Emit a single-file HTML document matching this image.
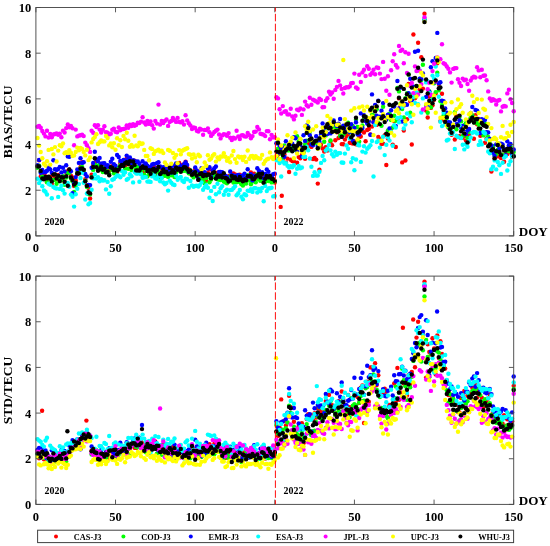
<!DOCTYPE html>
<html lang="en">
<head>
<meta charset="utf-8">
<title>BIAS and STD of GIM products versus Jason-3 (2020 / 2022)</title>
<style>
html,body{margin:0;padding:0;background:#fff;}
body{width:550px;height:546px;overflow:hidden;}
svg{display:block;}
text{font-family:"Liberation Serif","Times New Roman",Times,serif;font-weight:bold;fill:#000;}
.tk text{font-size:12.5px;}
.lb{font-size:13.1px;}
.yl{font-size:13.5px;}
.yr{font-size:9.9px;}
.lg{font-size:8.3px;}
</style>
</head>
<body>
<svg width="550" height="546" viewBox="0 0 550 546">
<rect width="550" height="546" fill="#fff"/>
<!-- top panel: BIAS -->
<g id="bias-points">
<g fill="#ff0000">
<circle cx="37.5" cy="166.4" r="2.20"/><circle cx="39.1" cy="160.2" r="2.20"/><circle cx="40.7" cy="176.4" r="2.20"/><circle cx="42.3" cy="172.2" r="2.20"/><circle cx="43.9" cy="175.3" r="2.20"/><circle cx="45.5" cy="176.1" r="2.20"/><circle cx="47.0" cy="181.8" r="2.20"/><circle cx="48.6" cy="177.1" r="2.20"/><circle cx="50.2" cy="176.6" r="2.20"/><circle cx="51.8" cy="184.0" r="2.20"/><circle cx="53.4" cy="175.6" r="2.20"/><circle cx="55.0" cy="177.7" r="2.20"/><circle cx="56.6" cy="179.4" r="2.20"/><circle cx="58.2" cy="174.9" r="2.20"/><circle cx="59.8" cy="178.7" r="2.20"/><circle cx="61.4" cy="177.6" r="2.20"/><circle cx="63.0" cy="177.6" r="2.20"/><circle cx="64.6" cy="181.9" r="2.20"/><circle cx="66.2" cy="172.0" r="2.20"/><circle cx="67.8" cy="171.1" r="2.20"/><circle cx="69.3" cy="169.4" r="2.20"/><circle cx="70.9" cy="175.6" r="2.20"/><circle cx="72.5" cy="177.5" r="2.20"/><circle cx="74.1" cy="186.1" r="2.20"/><circle cx="75.7" cy="180.2" r="2.20"/><circle cx="77.3" cy="174.3" r="2.20"/><circle cx="78.9" cy="170.6" r="2.20"/><circle cx="80.5" cy="166.9" r="2.20"/><circle cx="82.1" cy="162.3" r="2.20"/><circle cx="83.7" cy="169.9" r="2.20"/><circle cx="85.3" cy="179.2" r="2.20"/><circle cx="86.9" cy="185.2" r="2.20"/><circle cx="88.5" cy="187.9" r="2.20"/><circle cx="90.1" cy="198.5" r="2.20"/><circle cx="91.6" cy="174.7" r="2.20"/><circle cx="93.2" cy="164.9" r="2.20"/><circle cx="94.8" cy="163.9" r="2.20"/><circle cx="96.4" cy="161.0" r="2.20"/><circle cx="98.0" cy="169.1" r="2.20"/><circle cx="99.6" cy="166.8" r="2.20"/><circle cx="101.2" cy="169.6" r="2.20"/><circle cx="102.8" cy="166.8" r="2.20"/><circle cx="104.4" cy="166.2" r="2.20"/><circle cx="106.0" cy="171.6" r="2.20"/><circle cx="107.6" cy="170.4" r="2.20"/><circle cx="109.2" cy="171.1" r="2.20"/><circle cx="110.8" cy="166.8" r="2.20"/><circle cx="112.3" cy="166.2" r="2.20"/><circle cx="113.9" cy="171.1" r="2.20"/><circle cx="115.5" cy="169.6" r="2.20"/><circle cx="117.1" cy="172.0" r="2.20"/><circle cx="118.7" cy="167.9" r="2.20"/><circle cx="120.3" cy="163.2" r="2.20"/><circle cx="121.9" cy="162.9" r="2.20"/><circle cx="123.5" cy="163.2" r="2.20"/><circle cx="125.1" cy="165.8" r="2.20"/><circle cx="126.7" cy="158.3" r="2.20"/><circle cx="128.3" cy="164.3" r="2.20"/><circle cx="129.9" cy="159.9" r="2.20"/><circle cx="131.5" cy="165.1" r="2.20"/><circle cx="133.1" cy="165.9" r="2.20"/><circle cx="134.6" cy="160.6" r="2.20"/><circle cx="136.2" cy="169.1" r="2.20"/><circle cx="137.8" cy="168.4" r="2.20"/><circle cx="139.4" cy="170.6" r="2.20"/><circle cx="141.0" cy="170.0" r="2.20"/><circle cx="142.6" cy="166.8" r="2.20"/><circle cx="144.2" cy="171.1" r="2.20"/><circle cx="145.8" cy="164.1" r="2.20"/><circle cx="147.4" cy="170.8" r="2.20"/><circle cx="149.0" cy="169.5" r="2.20"/><circle cx="150.6" cy="174.7" r="2.20"/><circle cx="152.2" cy="171.2" r="2.20"/><circle cx="153.8" cy="166.1" r="2.20"/><circle cx="155.3" cy="175.0" r="2.20"/><circle cx="156.9" cy="168.1" r="2.20"/><circle cx="158.5" cy="169.9" r="2.20"/><circle cx="160.1" cy="171.2" r="2.20"/><circle cx="161.7" cy="174.7" r="2.20"/><circle cx="163.3" cy="169.8" r="2.20"/><circle cx="164.9" cy="173.4" r="2.20"/><circle cx="166.5" cy="172.8" r="2.20"/><circle cx="168.1" cy="170.5" r="2.20"/><circle cx="169.7" cy="169.7" r="2.20"/><circle cx="171.3" cy="166.9" r="2.20"/><circle cx="172.9" cy="171.1" r="2.20"/><circle cx="174.5" cy="174.7" r="2.20"/><circle cx="176.1" cy="166.7" r="2.20"/><circle cx="177.6" cy="168.7" r="2.20"/><circle cx="179.2" cy="163.0" r="2.20"/><circle cx="180.8" cy="167.0" r="2.20"/><circle cx="182.4" cy="164.9" r="2.20"/><circle cx="184.0" cy="165.7" r="2.20"/><circle cx="185.6" cy="161.8" r="2.20"/><circle cx="187.2" cy="167.5" r="2.20"/><circle cx="188.8" cy="169.4" r="2.20"/><circle cx="190.4" cy="173.6" r="2.20"/><circle cx="192.0" cy="175.1" r="2.20"/><circle cx="193.6" cy="173.5" r="2.20"/><circle cx="195.2" cy="169.4" r="2.20"/><circle cx="196.8" cy="170.9" r="2.20"/><circle cx="198.4" cy="179.7" r="2.20"/><circle cx="199.9" cy="173.0" r="2.20"/><circle cx="201.5" cy="171.8" r="2.20"/><circle cx="203.1" cy="178.0" r="2.20"/><circle cx="204.7" cy="177.6" r="2.20"/><circle cx="206.3" cy="180.5" r="2.20"/><circle cx="207.9" cy="173.0" r="2.20"/><circle cx="209.5" cy="169.2" r="2.20"/><circle cx="211.1" cy="178.6" r="2.20"/><circle cx="212.7" cy="171.7" r="2.20"/><circle cx="214.3" cy="176.2" r="2.20"/><circle cx="215.9" cy="177.8" r="2.20"/><circle cx="217.5" cy="172.7" r="2.20"/><circle cx="219.1" cy="177.9" r="2.20"/><circle cx="220.6" cy="174.9" r="2.20"/><circle cx="222.2" cy="174.5" r="2.20"/><circle cx="223.8" cy="176.0" r="2.20"/><circle cx="225.4" cy="176.4" r="2.20"/><circle cx="227.0" cy="177.4" r="2.20"/><circle cx="228.6" cy="176.1" r="2.20"/><circle cx="230.2" cy="175.4" r="2.20"/><circle cx="231.8" cy="176.2" r="2.20"/><circle cx="233.4" cy="173.5" r="2.20"/><circle cx="235.0" cy="174.5" r="2.20"/><circle cx="236.6" cy="180.5" r="2.20"/><circle cx="238.2" cy="175.9" r="2.20"/><circle cx="239.8" cy="174.6" r="2.20"/><circle cx="241.4" cy="177.7" r="2.20"/><circle cx="242.9" cy="180.5" r="2.20"/><circle cx="244.5" cy="181.3" r="2.20"/><circle cx="246.1" cy="180.2" r="2.20"/><circle cx="247.7" cy="178.4" r="2.20"/><circle cx="249.3" cy="177.4" r="2.20"/><circle cx="250.9" cy="172.4" r="2.20"/><circle cx="252.5" cy="177.9" r="2.20"/><circle cx="254.1" cy="173.6" r="2.20"/><circle cx="255.7" cy="178.3" r="2.20"/><circle cx="257.3" cy="175.6" r="2.20"/><circle cx="258.9" cy="176.1" r="2.20"/><circle cx="260.5" cy="176.8" r="2.20"/><circle cx="262.1" cy="176.6" r="2.20"/><circle cx="263.7" cy="182.8" r="2.20"/><circle cx="265.2" cy="174.6" r="2.20"/><circle cx="266.8" cy="177.1" r="2.20"/><circle cx="268.4" cy="177.4" r="2.20"/><circle cx="270.0" cy="177.0" r="2.20"/><circle cx="271.6" cy="176.6" r="2.20"/><circle cx="273.2" cy="179.6" r="2.20"/><circle cx="274.8" cy="182.5" r="2.20"/><circle cx="276.4" cy="157.8" r="2.20"/><circle cx="278.0" cy="154.6" r="2.20"/><circle cx="280.7" cy="206.9" r="2.20"/><circle cx="281.8" cy="195.7" r="2.20"/><circle cx="282.8" cy="158.9" r="2.20"/><circle cx="284.4" cy="154.4" r="2.20"/><circle cx="285.9" cy="162.6" r="2.20"/><circle cx="287.5" cy="158.6" r="2.20"/><circle cx="289.1" cy="172.0" r="2.20"/><circle cx="290.7" cy="159.7" r="2.20"/><circle cx="292.3" cy="161.0" r="2.20"/><circle cx="293.9" cy="161.4" r="2.20"/><circle cx="295.5" cy="148.2" r="2.20"/><circle cx="297.1" cy="162.7" r="2.20"/><circle cx="298.7" cy="157.0" r="2.20"/><circle cx="300.3" cy="158.2" r="2.20"/><circle cx="301.9" cy="155.0" r="2.20"/><circle cx="303.5" cy="149.8" r="2.20"/><circle cx="305.1" cy="158.8" r="2.20"/><circle cx="306.7" cy="144.4" r="2.20"/><circle cx="308.2" cy="145.6" r="2.20"/><circle cx="309.8" cy="143.3" r="2.20"/><circle cx="311.4" cy="146.9" r="2.20"/><circle cx="313.0" cy="159.0" r="2.20"/><circle cx="314.6" cy="158.0" r="2.20"/><circle cx="316.2" cy="159.6" r="2.20"/><circle cx="317.8" cy="183.6" r="2.20"/><circle cx="319.4" cy="169.7" r="2.20"/><circle cx="321.0" cy="144.8" r="2.20"/><circle cx="322.6" cy="148.4" r="2.20"/><circle cx="324.2" cy="151.5" r="2.20"/><circle cx="325.8" cy="147.1" r="2.20"/><circle cx="327.4" cy="150.6" r="2.20"/><circle cx="329.0" cy="127.4" r="2.20"/><circle cx="330.5" cy="141.8" r="2.20"/><circle cx="332.1" cy="145.3" r="2.20"/><circle cx="333.7" cy="128.4" r="2.20"/><circle cx="335.3" cy="140.2" r="2.20"/><circle cx="336.9" cy="132.3" r="2.20"/><circle cx="338.5" cy="138.0" r="2.20"/><circle cx="340.1" cy="135.6" r="2.20"/><circle cx="341.7" cy="144.1" r="2.20"/><circle cx="343.3" cy="144.2" r="2.20"/><circle cx="344.9" cy="139.6" r="2.20"/><circle cx="346.5" cy="136.3" r="2.20"/><circle cx="348.1" cy="134.1" r="2.20"/><circle cx="349.7" cy="142.7" r="2.20"/><circle cx="351.2" cy="143.0" r="2.20"/><circle cx="352.8" cy="143.6" r="2.20"/><circle cx="354.4" cy="141.4" r="2.20"/><circle cx="356.0" cy="144.2" r="2.20"/><circle cx="357.6" cy="144.2" r="2.20"/><circle cx="359.2" cy="136.9" r="2.20"/><circle cx="360.8" cy="136.5" r="2.20"/><circle cx="362.4" cy="131.0" r="2.20"/><circle cx="364.0" cy="132.5" r="2.20"/><circle cx="365.6" cy="141.3" r="2.20"/><circle cx="367.2" cy="130.0" r="2.20"/><circle cx="368.8" cy="129.0" r="2.20"/><circle cx="370.4" cy="134.5" r="2.20"/><circle cx="372.0" cy="126.6" r="2.20"/><circle cx="373.5" cy="121.8" r="2.20"/><circle cx="375.1" cy="124.2" r="2.20"/><circle cx="376.7" cy="124.9" r="2.20"/><circle cx="378.3" cy="136.9" r="2.20"/><circle cx="379.9" cy="139.3" r="2.20"/><circle cx="381.5" cy="144.1" r="2.20"/><circle cx="383.1" cy="143.6" r="2.20"/><circle cx="384.7" cy="135.1" r="2.20"/><circle cx="386.3" cy="165.0" r="2.20"/><circle cx="387.9" cy="138.4" r="2.20"/><circle cx="389.5" cy="117.5" r="2.20"/><circle cx="391.1" cy="128.7" r="2.20"/><circle cx="392.7" cy="144.6" r="2.20"/><circle cx="394.2" cy="121.0" r="2.20"/><circle cx="395.8" cy="147.0" r="2.20"/><circle cx="397.4" cy="119.4" r="2.20"/><circle cx="399.0" cy="98.4" r="2.20"/><circle cx="400.6" cy="106.3" r="2.20"/><circle cx="402.2" cy="162.4" r="2.20"/><circle cx="403.8" cy="130.6" r="2.20"/><circle cx="405.4" cy="160.5" r="2.20"/><circle cx="407.0" cy="119.3" r="2.20"/><circle cx="408.6" cy="83.9" r="2.20"/><circle cx="410.2" cy="101.3" r="2.20"/><circle cx="411.8" cy="144.5" r="2.20"/><circle cx="413.4" cy="34.5" r="2.20"/><circle cx="415.0" cy="98.2" r="2.20"/><circle cx="416.5" cy="93.8" r="2.20"/><circle cx="418.1" cy="42.7" r="2.20"/><circle cx="419.7" cy="89.4" r="2.20"/><circle cx="421.3" cy="57.3" r="2.20"/><circle cx="422.9" cy="88.6" r="2.20"/><circle cx="424.5" cy="13.7" r="2.20"/><circle cx="426.1" cy="110.6" r="2.20"/><circle cx="427.7" cy="117.5" r="2.20"/><circle cx="429.3" cy="96.5" r="2.20"/><circle cx="430.9" cy="107.9" r="2.20"/><circle cx="432.5" cy="105.3" r="2.20"/><circle cx="434.1" cy="99.8" r="2.20"/><circle cx="435.7" cy="93.4" r="2.20"/><circle cx="437.3" cy="63.2" r="2.20"/><circle cx="438.8" cy="84.1" r="2.20"/><circle cx="440.4" cy="121.1" r="2.20"/><circle cx="442.0" cy="93.8" r="2.20"/><circle cx="443.6" cy="120.0" r="2.20"/><circle cx="445.2" cy="119.3" r="2.20"/><circle cx="446.8" cy="124.4" r="2.20"/><circle cx="448.4" cy="127.2" r="2.20"/><circle cx="450.0" cy="128.0" r="2.20"/><circle cx="451.6" cy="134.8" r="2.20"/><circle cx="453.2" cy="126.1" r="2.20"/><circle cx="454.8" cy="139.5" r="2.20"/><circle cx="456.4" cy="116.2" r="2.20"/><circle cx="458.0" cy="137.1" r="2.20"/><circle cx="459.5" cy="136.1" r="2.20"/><circle cx="461.1" cy="137.9" r="2.20"/><circle cx="462.7" cy="137.8" r="2.20"/><circle cx="464.3" cy="136.0" r="2.20"/><circle cx="465.9" cy="140.6" r="2.20"/><circle cx="467.5" cy="142.6" r="2.20"/><circle cx="469.1" cy="135.0" r="2.20"/><circle cx="470.7" cy="118.3" r="2.20"/><circle cx="472.3" cy="119.1" r="2.20"/><circle cx="473.9" cy="138.8" r="2.20"/><circle cx="475.5" cy="115.1" r="2.20"/><circle cx="477.1" cy="124.2" r="2.20"/><circle cx="478.7" cy="119.0" r="2.20"/><circle cx="480.3" cy="135.7" r="2.20"/><circle cx="481.8" cy="132.8" r="2.20"/><circle cx="483.4" cy="132.6" r="2.20"/><circle cx="485.0" cy="142.7" r="2.20"/><circle cx="486.6" cy="138.4" r="2.20"/><circle cx="488.2" cy="138.0" r="2.20"/><circle cx="489.8" cy="146.0" r="2.20"/><circle cx="491.4" cy="171.5" r="2.20"/><circle cx="493.0" cy="147.8" r="2.20"/><circle cx="494.6" cy="158.6" r="2.20"/><circle cx="496.2" cy="154.9" r="2.20"/><circle cx="497.8" cy="156.4" r="2.20"/><circle cx="499.4" cy="156.2" r="2.20"/><circle cx="501.0" cy="158.0" r="2.20"/><circle cx="502.6" cy="154.6" r="2.20"/><circle cx="504.1" cy="161.7" r="2.20"/><circle cx="505.7" cy="151.1" r="2.20"/><circle cx="507.3" cy="154.1" r="2.20"/><circle cx="508.9" cy="151.6" r="2.20"/><circle cx="510.5" cy="152.3" r="2.20"/><circle cx="512.1" cy="157.1" r="2.20"/><circle cx="513.7" cy="156.4" r="2.20"/>
</g>
<g fill="#00ff00">
<circle cx="37.5" cy="167.7" r="2.20"/><circle cx="39.1" cy="165.6" r="2.20"/><circle cx="40.7" cy="172.0" r="2.20"/><circle cx="42.3" cy="176.8" r="2.20"/><circle cx="43.9" cy="177.4" r="2.20"/><circle cx="45.5" cy="179.1" r="2.20"/><circle cx="47.0" cy="182.3" r="2.20"/><circle cx="48.6" cy="177.5" r="2.20"/><circle cx="50.2" cy="179.0" r="2.20"/><circle cx="51.8" cy="180.5" r="2.20"/><circle cx="53.4" cy="179.9" r="2.20"/><circle cx="55.0" cy="179.7" r="2.20"/><circle cx="56.6" cy="183.7" r="2.20"/><circle cx="58.2" cy="177.9" r="2.20"/><circle cx="59.8" cy="181.3" r="2.20"/><circle cx="61.4" cy="180.0" r="2.20"/><circle cx="63.0" cy="176.2" r="2.20"/><circle cx="64.6" cy="184.7" r="2.20"/><circle cx="66.2" cy="177.6" r="2.20"/><circle cx="67.8" cy="172.9" r="2.20"/><circle cx="69.3" cy="173.0" r="2.20"/><circle cx="70.9" cy="178.6" r="2.20"/><circle cx="72.5" cy="181.3" r="2.20"/><circle cx="74.1" cy="191.9" r="2.20"/><circle cx="75.7" cy="186.0" r="2.20"/><circle cx="77.3" cy="172.9" r="2.20"/><circle cx="78.9" cy="172.1" r="2.20"/><circle cx="80.5" cy="168.2" r="2.20"/><circle cx="82.1" cy="167.0" r="2.20"/><circle cx="83.7" cy="172.3" r="2.20"/><circle cx="85.3" cy="180.8" r="2.20"/><circle cx="86.9" cy="186.9" r="2.20"/><circle cx="88.5" cy="194.0" r="2.20"/><circle cx="90.1" cy="194.4" r="2.20"/><circle cx="91.6" cy="177.2" r="2.20"/><circle cx="93.2" cy="169.9" r="2.20"/><circle cx="94.8" cy="164.8" r="2.20"/><circle cx="96.4" cy="165.6" r="2.20"/><circle cx="98.0" cy="169.5" r="2.20"/><circle cx="99.6" cy="164.8" r="2.20"/><circle cx="101.2" cy="170.0" r="2.20"/><circle cx="102.8" cy="172.1" r="2.20"/><circle cx="104.4" cy="167.9" r="2.20"/><circle cx="106.0" cy="169.7" r="2.20"/><circle cx="107.6" cy="171.9" r="2.20"/><circle cx="109.2" cy="173.9" r="2.20"/><circle cx="110.8" cy="168.2" r="2.20"/><circle cx="112.3" cy="170.1" r="2.20"/><circle cx="113.9" cy="173.2" r="2.20"/><circle cx="115.5" cy="171.9" r="2.20"/><circle cx="117.1" cy="169.5" r="2.20"/><circle cx="118.7" cy="167.7" r="2.20"/><circle cx="120.3" cy="165.2" r="2.20"/><circle cx="121.9" cy="165.4" r="2.20"/><circle cx="123.5" cy="162.4" r="2.20"/><circle cx="125.1" cy="168.8" r="2.20"/><circle cx="126.7" cy="160.7" r="2.20"/><circle cx="128.3" cy="168.7" r="2.20"/><circle cx="129.9" cy="162.1" r="2.20"/><circle cx="131.5" cy="170.0" r="2.20"/><circle cx="133.1" cy="166.1" r="2.20"/><circle cx="134.6" cy="166.4" r="2.20"/><circle cx="136.2" cy="167.8" r="2.20"/><circle cx="137.8" cy="166.7" r="2.20"/><circle cx="139.4" cy="172.4" r="2.20"/><circle cx="141.0" cy="170.9" r="2.20"/><circle cx="142.6" cy="167.6" r="2.20"/><circle cx="144.2" cy="174.6" r="2.20"/><circle cx="145.8" cy="170.2" r="2.20"/><circle cx="147.4" cy="176.4" r="2.20"/><circle cx="149.0" cy="172.9" r="2.20"/><circle cx="150.6" cy="169.6" r="2.20"/><circle cx="152.2" cy="170.5" r="2.20"/><circle cx="153.8" cy="172.7" r="2.20"/><circle cx="155.3" cy="176.2" r="2.20"/><circle cx="156.9" cy="171.7" r="2.20"/><circle cx="158.5" cy="171.1" r="2.20"/><circle cx="160.1" cy="177.5" r="2.20"/><circle cx="161.7" cy="177.4" r="2.20"/><circle cx="163.3" cy="174.8" r="2.20"/><circle cx="164.9" cy="175.9" r="2.20"/><circle cx="166.5" cy="173.7" r="2.20"/><circle cx="168.1" cy="176.9" r="2.20"/><circle cx="169.7" cy="174.3" r="2.20"/><circle cx="171.3" cy="175.3" r="2.20"/><circle cx="172.9" cy="175.0" r="2.20"/><circle cx="174.5" cy="177.1" r="2.20"/><circle cx="176.1" cy="172.5" r="2.20"/><circle cx="177.6" cy="167.5" r="2.20"/><circle cx="179.2" cy="170.5" r="2.20"/><circle cx="180.8" cy="170.9" r="2.20"/><circle cx="182.4" cy="168.9" r="2.20"/><circle cx="184.0" cy="170.9" r="2.20"/><circle cx="185.6" cy="169.4" r="2.20"/><circle cx="187.2" cy="171.4" r="2.20"/><circle cx="188.8" cy="173.2" r="2.20"/><circle cx="190.4" cy="170.8" r="2.20"/><circle cx="192.0" cy="175.6" r="2.20"/><circle cx="193.6" cy="177.4" r="2.20"/><circle cx="195.2" cy="173.6" r="2.20"/><circle cx="196.8" cy="173.3" r="2.20"/><circle cx="198.4" cy="178.9" r="2.20"/><circle cx="199.9" cy="178.3" r="2.20"/><circle cx="201.5" cy="177.0" r="2.20"/><circle cx="203.1" cy="180.4" r="2.20"/><circle cx="204.7" cy="183.3" r="2.20"/><circle cx="206.3" cy="177.9" r="2.20"/><circle cx="207.9" cy="175.3" r="2.20"/><circle cx="209.5" cy="182.3" r="2.20"/><circle cx="211.1" cy="179.6" r="2.20"/><circle cx="212.7" cy="177.1" r="2.20"/><circle cx="214.3" cy="173.9" r="2.20"/><circle cx="215.9" cy="177.8" r="2.20"/><circle cx="217.5" cy="179.2" r="2.20"/><circle cx="219.1" cy="179.7" r="2.20"/><circle cx="220.6" cy="180.0" r="2.20"/><circle cx="222.2" cy="176.4" r="2.20"/><circle cx="223.8" cy="181.6" r="2.20"/><circle cx="225.4" cy="182.4" r="2.20"/><circle cx="227.0" cy="183.3" r="2.20"/><circle cx="228.6" cy="180.2" r="2.20"/><circle cx="230.2" cy="176.5" r="2.20"/><circle cx="231.8" cy="178.5" r="2.20"/><circle cx="233.4" cy="182.6" r="2.20"/><circle cx="235.0" cy="180.8" r="2.20"/><circle cx="236.6" cy="182.2" r="2.20"/><circle cx="238.2" cy="180.3" r="2.20"/><circle cx="239.8" cy="182.1" r="2.20"/><circle cx="241.4" cy="184.3" r="2.20"/><circle cx="242.9" cy="185.5" r="2.20"/><circle cx="244.5" cy="181.1" r="2.20"/><circle cx="246.1" cy="183.5" r="2.20"/><circle cx="247.7" cy="175.1" r="2.20"/><circle cx="249.3" cy="180.6" r="2.20"/><circle cx="250.9" cy="184.2" r="2.20"/><circle cx="252.5" cy="181.6" r="2.20"/><circle cx="254.1" cy="179.9" r="2.20"/><circle cx="255.7" cy="182.2" r="2.20"/><circle cx="257.3" cy="174.4" r="2.20"/><circle cx="258.9" cy="179.4" r="2.20"/><circle cx="260.5" cy="180.9" r="2.20"/><circle cx="262.1" cy="180.0" r="2.20"/><circle cx="263.7" cy="182.8" r="2.20"/><circle cx="265.2" cy="181.9" r="2.20"/><circle cx="266.8" cy="177.0" r="2.20"/><circle cx="268.4" cy="181.0" r="2.20"/><circle cx="270.0" cy="177.2" r="2.20"/><circle cx="271.6" cy="182.4" r="2.20"/><circle cx="273.2" cy="181.7" r="2.20"/><circle cx="274.8" cy="181.4" r="2.20"/><circle cx="276.4" cy="157.0" r="2.20"/><circle cx="278.0" cy="148.7" r="2.20"/><circle cx="279.6" cy="148.8" r="2.20"/><circle cx="281.2" cy="153.6" r="2.20"/><circle cx="282.8" cy="157.8" r="2.20"/><circle cx="284.4" cy="145.5" r="2.20"/><circle cx="285.9" cy="149.4" r="2.20"/><circle cx="287.5" cy="150.4" r="2.20"/><circle cx="289.1" cy="150.3" r="2.20"/><circle cx="290.7" cy="150.1" r="2.20"/><circle cx="292.3" cy="147.9" r="2.20"/><circle cx="293.9" cy="150.0" r="2.20"/><circle cx="295.5" cy="150.1" r="2.20"/><circle cx="297.1" cy="136.2" r="2.20"/><circle cx="298.7" cy="141.4" r="2.20"/><circle cx="300.3" cy="139.6" r="2.20"/><circle cx="301.9" cy="150.0" r="2.20"/><circle cx="303.5" cy="152.3" r="2.20"/><circle cx="305.1" cy="144.3" r="2.20"/><circle cx="306.7" cy="140.7" r="2.20"/><circle cx="308.2" cy="126.7" r="2.20"/><circle cx="309.8" cy="131.8" r="2.20"/><circle cx="311.4" cy="141.0" r="2.20"/><circle cx="313.0" cy="144.2" r="2.20"/><circle cx="314.6" cy="142.3" r="2.20"/><circle cx="316.2" cy="143.1" r="2.20"/><circle cx="317.8" cy="145.1" r="2.20"/><circle cx="319.4" cy="145.8" r="2.20"/><circle cx="321.0" cy="137.4" r="2.20"/><circle cx="322.6" cy="133.4" r="2.20"/><circle cx="324.2" cy="141.8" r="2.20"/><circle cx="325.8" cy="135.4" r="2.20"/><circle cx="327.4" cy="127.7" r="2.20"/><circle cx="329.0" cy="124.8" r="2.20"/><circle cx="330.5" cy="140.5" r="2.20"/><circle cx="332.1" cy="128.3" r="2.20"/><circle cx="333.7" cy="128.8" r="2.20"/><circle cx="335.3" cy="127.0" r="2.20"/><circle cx="336.9" cy="129.9" r="2.20"/><circle cx="338.5" cy="125.8" r="2.20"/><circle cx="340.1" cy="135.9" r="2.20"/><circle cx="341.7" cy="133.9" r="2.20"/><circle cx="343.3" cy="134.8" r="2.20"/><circle cx="344.9" cy="132.6" r="2.20"/><circle cx="346.5" cy="124.4" r="2.20"/><circle cx="348.1" cy="122.7" r="2.20"/><circle cx="349.7" cy="132.4" r="2.20"/><circle cx="351.2" cy="131.8" r="2.20"/><circle cx="352.8" cy="125.9" r="2.20"/><circle cx="354.4" cy="129.9" r="2.20"/><circle cx="356.0" cy="119.7" r="2.20"/><circle cx="357.6" cy="127.0" r="2.20"/><circle cx="359.2" cy="141.7" r="2.20"/><circle cx="360.8" cy="129.4" r="2.20"/><circle cx="362.4" cy="125.4" r="2.20"/><circle cx="364.0" cy="119.2" r="2.20"/><circle cx="365.6" cy="116.6" r="2.20"/><circle cx="367.2" cy="120.6" r="2.20"/><circle cx="368.8" cy="120.6" r="2.20"/><circle cx="370.4" cy="110.3" r="2.20"/><circle cx="372.0" cy="114.7" r="2.20"/><circle cx="373.5" cy="115.7" r="2.20"/><circle cx="375.1" cy="109.7" r="2.20"/><circle cx="376.7" cy="109.2" r="2.20"/><circle cx="378.3" cy="122.9" r="2.20"/><circle cx="379.9" cy="117.4" r="2.20"/><circle cx="381.5" cy="125.8" r="2.20"/><circle cx="383.1" cy="106.7" r="2.20"/><circle cx="384.7" cy="118.6" r="2.20"/><circle cx="386.3" cy="119.4" r="2.20"/><circle cx="387.9" cy="130.4" r="2.20"/><circle cx="389.5" cy="113.6" r="2.20"/><circle cx="391.1" cy="120.1" r="2.20"/><circle cx="392.7" cy="127.5" r="2.20"/><circle cx="394.2" cy="115.7" r="2.20"/><circle cx="395.8" cy="120.8" r="2.20"/><circle cx="397.4" cy="88.0" r="2.20"/><circle cx="399.0" cy="91.4" r="2.20"/><circle cx="400.6" cy="103.4" r="2.20"/><circle cx="402.2" cy="109.1" r="2.20"/><circle cx="403.8" cy="117.4" r="2.20"/><circle cx="405.4" cy="98.2" r="2.20"/><circle cx="407.0" cy="93.1" r="2.20"/><circle cx="408.6" cy="74.5" r="2.20"/><circle cx="410.2" cy="112.7" r="2.20"/><circle cx="411.8" cy="95.0" r="2.20"/><circle cx="413.4" cy="97.8" r="2.20"/><circle cx="415.0" cy="95.3" r="2.20"/><circle cx="416.5" cy="86.3" r="2.20"/><circle cx="418.1" cy="93.4" r="2.20"/><circle cx="419.7" cy="78.6" r="2.20"/><circle cx="421.3" cy="80.1" r="2.20"/><circle cx="422.9" cy="64.8" r="2.20"/><circle cx="424.5" cy="19.6" r="2.20"/><circle cx="426.1" cy="105.8" r="2.20"/><circle cx="427.7" cy="112.7" r="2.20"/><circle cx="429.3" cy="91.2" r="2.20"/><circle cx="430.9" cy="107.2" r="2.20"/><circle cx="432.5" cy="99.1" r="2.20"/><circle cx="434.1" cy="83.3" r="2.20"/><circle cx="435.7" cy="92.1" r="2.20"/><circle cx="437.3" cy="72.7" r="2.20"/><circle cx="438.8" cy="90.4" r="2.20"/><circle cx="440.4" cy="101.3" r="2.20"/><circle cx="442.0" cy="105.1" r="2.20"/><circle cx="443.6" cy="115.5" r="2.20"/><circle cx="445.2" cy="114.4" r="2.20"/><circle cx="446.8" cy="118.1" r="2.20"/><circle cx="448.4" cy="127.3" r="2.20"/><circle cx="450.0" cy="127.4" r="2.20"/><circle cx="451.6" cy="127.8" r="2.20"/><circle cx="453.2" cy="124.9" r="2.20"/><circle cx="454.8" cy="112.2" r="2.20"/><circle cx="456.4" cy="129.3" r="2.20"/><circle cx="458.0" cy="124.9" r="2.20"/><circle cx="459.5" cy="117.0" r="2.20"/><circle cx="461.1" cy="121.2" r="2.20"/><circle cx="462.7" cy="135.9" r="2.20"/><circle cx="464.3" cy="125.3" r="2.20"/><circle cx="465.9" cy="123.2" r="2.20"/><circle cx="467.5" cy="137.9" r="2.20"/><circle cx="469.1" cy="132.0" r="2.20"/><circle cx="470.7" cy="118.0" r="2.20"/><circle cx="472.3" cy="115.2" r="2.20"/><circle cx="473.9" cy="122.3" r="2.20"/><circle cx="475.5" cy="122.4" r="2.20"/><circle cx="477.1" cy="122.9" r="2.20"/><circle cx="478.7" cy="124.8" r="2.20"/><circle cx="480.3" cy="121.7" r="2.20"/><circle cx="481.8" cy="132.3" r="2.20"/><circle cx="483.4" cy="135.4" r="2.20"/><circle cx="485.0" cy="123.7" r="2.20"/><circle cx="486.6" cy="133.6" r="2.20"/><circle cx="488.2" cy="136.9" r="2.20"/><circle cx="489.8" cy="143.8" r="2.20"/><circle cx="491.4" cy="146.1" r="2.20"/><circle cx="493.0" cy="145.9" r="2.20"/><circle cx="494.6" cy="155.8" r="2.20"/><circle cx="496.2" cy="154.3" r="2.20"/><circle cx="497.8" cy="149.6" r="2.20"/><circle cx="499.4" cy="148.7" r="2.20"/><circle cx="501.0" cy="154.8" r="2.20"/><circle cx="502.6" cy="154.6" r="2.20"/><circle cx="504.1" cy="150.0" r="2.20"/><circle cx="505.7" cy="151.1" r="2.20"/><circle cx="507.3" cy="150.0" r="2.20"/><circle cx="508.9" cy="151.3" r="2.20"/><circle cx="510.5" cy="146.3" r="2.20"/><circle cx="512.1" cy="155.7" r="2.20"/><circle cx="513.7" cy="152.0" r="2.20"/>
</g>
<g fill="#0000ff">
<circle cx="37.5" cy="165.2" r="2.20"/><circle cx="39.1" cy="159.9" r="2.20"/><circle cx="40.7" cy="172.7" r="2.20"/><circle cx="42.3" cy="170.0" r="2.20"/><circle cx="43.9" cy="172.4" r="2.20"/><circle cx="45.5" cy="172.0" r="2.20"/><circle cx="47.0" cy="170.7" r="2.20"/><circle cx="48.6" cy="167.8" r="2.20"/><circle cx="50.2" cy="169.4" r="2.20"/><circle cx="51.8" cy="172.8" r="2.20"/><circle cx="53.4" cy="160.2" r="2.20"/><circle cx="55.0" cy="169.2" r="2.20"/><circle cx="56.6" cy="169.9" r="2.20"/><circle cx="58.2" cy="168.9" r="2.20"/><circle cx="59.8" cy="166.9" r="2.20"/><circle cx="61.4" cy="172.4" r="2.20"/><circle cx="63.0" cy="167.7" r="2.20"/><circle cx="64.6" cy="171.4" r="2.20"/><circle cx="66.2" cy="165.2" r="2.20"/><circle cx="67.8" cy="156.4" r="2.20"/><circle cx="69.3" cy="156.7" r="2.20"/><circle cx="70.9" cy="171.3" r="2.20"/><circle cx="72.5" cy="193.2" r="2.20"/><circle cx="74.1" cy="183.3" r="2.20"/><circle cx="75.7" cy="177.1" r="2.20"/><circle cx="77.3" cy="169.5" r="2.20"/><circle cx="78.9" cy="162.9" r="2.20"/><circle cx="80.5" cy="158.3" r="2.20"/><circle cx="82.1" cy="162.9" r="2.20"/><circle cx="83.7" cy="162.2" r="2.20"/><circle cx="85.3" cy="174.0" r="2.20"/><circle cx="86.9" cy="176.4" r="2.20"/><circle cx="88.5" cy="185.0" r="2.20"/><circle cx="90.1" cy="185.1" r="2.20"/><circle cx="91.6" cy="167.7" r="2.20"/><circle cx="93.2" cy="162.9" r="2.20"/><circle cx="94.8" cy="151.7" r="2.20"/><circle cx="96.4" cy="159.3" r="2.20"/><circle cx="98.0" cy="161.2" r="2.20"/><circle cx="99.6" cy="157.9" r="2.20"/><circle cx="101.2" cy="163.7" r="2.20"/><circle cx="102.8" cy="163.5" r="2.20"/><circle cx="104.4" cy="163.2" r="2.20"/><circle cx="106.0" cy="167.1" r="2.20"/><circle cx="107.6" cy="165.2" r="2.20"/><circle cx="109.2" cy="166.8" r="2.20"/><circle cx="110.8" cy="161.7" r="2.20"/><circle cx="112.3" cy="158.7" r="2.20"/><circle cx="113.9" cy="164.2" r="2.20"/><circle cx="115.5" cy="165.7" r="2.20"/><circle cx="117.1" cy="155.0" r="2.20"/><circle cx="118.7" cy="157.0" r="2.20"/><circle cx="120.3" cy="160.9" r="2.20"/><circle cx="121.9" cy="162.0" r="2.20"/><circle cx="123.5" cy="159.9" r="2.20"/><circle cx="125.1" cy="160.5" r="2.20"/><circle cx="126.7" cy="155.6" r="2.20"/><circle cx="128.3" cy="159.1" r="2.20"/><circle cx="129.9" cy="157.4" r="2.20"/><circle cx="131.5" cy="163.1" r="2.20"/><circle cx="133.1" cy="160.3" r="2.20"/><circle cx="134.6" cy="160.9" r="2.20"/><circle cx="136.2" cy="162.0" r="2.20"/><circle cx="137.8" cy="161.5" r="2.20"/><circle cx="139.4" cy="163.8" r="2.20"/><circle cx="141.0" cy="167.8" r="2.20"/><circle cx="142.6" cy="161.3" r="2.20"/><circle cx="144.2" cy="165.1" r="2.20"/><circle cx="145.8" cy="163.5" r="2.20"/><circle cx="147.4" cy="165.6" r="2.20"/><circle cx="149.0" cy="167.1" r="2.20"/><circle cx="150.6" cy="167.2" r="2.20"/><circle cx="152.2" cy="164.5" r="2.20"/><circle cx="153.8" cy="163.9" r="2.20"/><circle cx="155.3" cy="168.4" r="2.20"/><circle cx="156.9" cy="163.3" r="2.20"/><circle cx="158.5" cy="162.2" r="2.20"/><circle cx="160.1" cy="166.4" r="2.20"/><circle cx="161.7" cy="167.6" r="2.20"/><circle cx="163.3" cy="167.2" r="2.20"/><circle cx="164.9" cy="168.9" r="2.20"/><circle cx="166.5" cy="165.9" r="2.20"/><circle cx="168.1" cy="170.9" r="2.20"/><circle cx="169.7" cy="168.7" r="2.20"/><circle cx="171.3" cy="172.5" r="2.20"/><circle cx="172.9" cy="165.7" r="2.20"/><circle cx="174.5" cy="169.9" r="2.20"/><circle cx="176.1" cy="163.4" r="2.20"/><circle cx="177.6" cy="165.5" r="2.20"/><circle cx="179.2" cy="164.5" r="2.20"/><circle cx="180.8" cy="166.1" r="2.20"/><circle cx="182.4" cy="167.2" r="2.20"/><circle cx="184.0" cy="164.1" r="2.20"/><circle cx="185.6" cy="162.2" r="2.20"/><circle cx="187.2" cy="164.9" r="2.20"/><circle cx="188.8" cy="171.8" r="2.20"/><circle cx="190.4" cy="172.1" r="2.20"/><circle cx="192.0" cy="173.5" r="2.20"/><circle cx="193.6" cy="172.1" r="2.20"/><circle cx="195.2" cy="167.5" r="2.20"/><circle cx="196.8" cy="170.4" r="2.20"/><circle cx="198.4" cy="179.3" r="2.20"/><circle cx="199.9" cy="171.8" r="2.20"/><circle cx="201.5" cy="168.1" r="2.20"/><circle cx="203.1" cy="174.2" r="2.20"/><circle cx="204.7" cy="172.2" r="2.20"/><circle cx="206.3" cy="174.6" r="2.20"/><circle cx="207.9" cy="168.6" r="2.20"/><circle cx="209.5" cy="167.2" r="2.20"/><circle cx="211.1" cy="176.9" r="2.20"/><circle cx="212.7" cy="170.2" r="2.20"/><circle cx="214.3" cy="168.2" r="2.20"/><circle cx="215.9" cy="166.5" r="2.20"/><circle cx="217.5" cy="176.2" r="2.20"/><circle cx="219.1" cy="171.9" r="2.20"/><circle cx="220.6" cy="171.9" r="2.20"/><circle cx="222.2" cy="172.3" r="2.20"/><circle cx="223.8" cy="174.8" r="2.20"/><circle cx="225.4" cy="175.8" r="2.20"/><circle cx="227.0" cy="177.0" r="2.20"/><circle cx="228.6" cy="179.5" r="2.20"/><circle cx="230.2" cy="171.5" r="2.20"/><circle cx="231.8" cy="175.2" r="2.20"/><circle cx="233.4" cy="175.5" r="2.20"/><circle cx="235.0" cy="176.5" r="2.20"/><circle cx="236.6" cy="175.6" r="2.20"/><circle cx="238.2" cy="175.0" r="2.20"/><circle cx="239.8" cy="175.9" r="2.20"/><circle cx="241.4" cy="178.2" r="2.20"/><circle cx="242.9" cy="175.5" r="2.20"/><circle cx="244.5" cy="173.6" r="2.20"/><circle cx="246.1" cy="177.9" r="2.20"/><circle cx="247.7" cy="169.3" r="2.20"/><circle cx="249.3" cy="176.5" r="2.20"/><circle cx="250.9" cy="174.2" r="2.20"/><circle cx="252.5" cy="180.4" r="2.20"/><circle cx="254.1" cy="175.8" r="2.20"/><circle cx="255.7" cy="176.8" r="2.20"/><circle cx="257.3" cy="168.2" r="2.20"/><circle cx="258.9" cy="170.8" r="2.20"/><circle cx="260.5" cy="173.5" r="2.20"/><circle cx="262.1" cy="172.1" r="2.20"/><circle cx="263.7" cy="178.2" r="2.20"/><circle cx="265.2" cy="174.0" r="2.20"/><circle cx="266.8" cy="169.4" r="2.20"/><circle cx="268.4" cy="171.8" r="2.20"/><circle cx="270.0" cy="175.6" r="2.20"/><circle cx="271.6" cy="175.9" r="2.20"/><circle cx="273.2" cy="174.3" r="2.20"/><circle cx="274.8" cy="173.8" r="2.20"/><circle cx="276.4" cy="143.3" r="2.20"/><circle cx="278.0" cy="152.9" r="2.20"/><circle cx="279.6" cy="145.4" r="2.20"/><circle cx="281.2" cy="148.2" r="2.20"/><circle cx="282.8" cy="147.0" r="2.20"/><circle cx="284.4" cy="156.7" r="2.20"/><circle cx="285.9" cy="141.3" r="2.20"/><circle cx="287.5" cy="147.3" r="2.20"/><circle cx="289.1" cy="144.3" r="2.20"/><circle cx="290.7" cy="144.1" r="2.20"/><circle cx="292.3" cy="143.8" r="2.20"/><circle cx="293.9" cy="137.3" r="2.20"/><circle cx="295.5" cy="138.2" r="2.20"/><circle cx="297.1" cy="151.2" r="2.20"/><circle cx="298.7" cy="147.6" r="2.20"/><circle cx="300.3" cy="145.7" r="2.20"/><circle cx="301.9" cy="156.6" r="2.20"/><circle cx="303.5" cy="135.2" r="2.20"/><circle cx="305.1" cy="140.9" r="2.20"/><circle cx="306.7" cy="125.4" r="2.20"/><circle cx="308.2" cy="127.4" r="2.20"/><circle cx="309.8" cy="135.3" r="2.20"/><circle cx="311.4" cy="144.4" r="2.20"/><circle cx="313.0" cy="145.3" r="2.20"/><circle cx="314.6" cy="141.0" r="2.20"/><circle cx="316.2" cy="136.2" r="2.20"/><circle cx="317.8" cy="146.7" r="2.20"/><circle cx="319.4" cy="141.7" r="2.20"/><circle cx="321.0" cy="134.6" r="2.20"/><circle cx="322.6" cy="123.5" r="2.20"/><circle cx="324.2" cy="131.3" r="2.20"/><circle cx="325.8" cy="132.8" r="2.20"/><circle cx="327.4" cy="133.9" r="2.20"/><circle cx="329.0" cy="126.1" r="2.20"/><circle cx="330.5" cy="133.4" r="2.20"/><circle cx="332.1" cy="131.8" r="2.20"/><circle cx="333.7" cy="120.5" r="2.20"/><circle cx="335.3" cy="123.9" r="2.20"/><circle cx="336.9" cy="126.0" r="2.20"/><circle cx="338.5" cy="123.6" r="2.20"/><circle cx="340.1" cy="119.0" r="2.20"/><circle cx="341.7" cy="136.9" r="2.20"/><circle cx="343.3" cy="125.8" r="2.20"/><circle cx="344.9" cy="129.4" r="2.20"/><circle cx="346.5" cy="126.0" r="2.20"/><circle cx="348.1" cy="126.7" r="2.20"/><circle cx="349.7" cy="132.1" r="2.20"/><circle cx="351.2" cy="124.2" r="2.20"/><circle cx="352.8" cy="140.8" r="2.20"/><circle cx="354.4" cy="127.9" r="2.20"/><circle cx="356.0" cy="122.2" r="2.20"/><circle cx="357.6" cy="134.4" r="2.20"/><circle cx="359.2" cy="134.2" r="2.20"/><circle cx="360.8" cy="113.4" r="2.20"/><circle cx="362.4" cy="128.0" r="2.20"/><circle cx="364.0" cy="115.3" r="2.20"/><circle cx="365.6" cy="121.1" r="2.20"/><circle cx="367.2" cy="123.4" r="2.20"/><circle cx="368.8" cy="121.6" r="2.20"/><circle cx="370.4" cy="134.7" r="2.20"/><circle cx="372.0" cy="94.4" r="2.20"/><circle cx="373.5" cy="122.2" r="2.20"/><circle cx="375.1" cy="105.0" r="2.20"/><circle cx="376.7" cy="115.6" r="2.20"/><circle cx="378.3" cy="100.8" r="2.20"/><circle cx="379.9" cy="116.7" r="2.20"/><circle cx="381.5" cy="110.8" r="2.20"/><circle cx="383.1" cy="103.1" r="2.20"/><circle cx="384.7" cy="117.6" r="2.20"/><circle cx="386.3" cy="119.6" r="2.20"/><circle cx="387.9" cy="114.6" r="2.20"/><circle cx="389.5" cy="128.4" r="2.20"/><circle cx="391.1" cy="110.2" r="2.20"/><circle cx="392.7" cy="105.8" r="2.20"/><circle cx="394.2" cy="106.6" r="2.20"/><circle cx="395.8" cy="126.0" r="2.20"/><circle cx="397.4" cy="81.0" r="2.20"/><circle cx="399.0" cy="108.4" r="2.20"/><circle cx="400.6" cy="87.5" r="2.20"/><circle cx="402.2" cy="121.5" r="2.20"/><circle cx="403.8" cy="105.4" r="2.20"/><circle cx="405.4" cy="103.9" r="2.20"/><circle cx="407.0" cy="104.8" r="2.20"/><circle cx="408.6" cy="93.1" r="2.20"/><circle cx="410.2" cy="78.7" r="2.20"/><circle cx="411.8" cy="100.2" r="2.20"/><circle cx="413.4" cy="86.8" r="2.20"/><circle cx="415.0" cy="51.7" r="2.20"/><circle cx="416.5" cy="94.9" r="2.20"/><circle cx="418.1" cy="50.8" r="2.20"/><circle cx="419.7" cy="78.8" r="2.20"/><circle cx="421.3" cy="79.0" r="2.20"/><circle cx="422.9" cy="73.5" r="2.20"/><circle cx="424.5" cy="20.1" r="2.20"/><circle cx="426.1" cy="96.9" r="2.20"/><circle cx="427.7" cy="107.3" r="2.20"/><circle cx="429.3" cy="91.7" r="2.20"/><circle cx="430.9" cy="67.2" r="2.20"/><circle cx="432.5" cy="61.3" r="2.20"/><circle cx="434.1" cy="82.3" r="2.20"/><circle cx="435.7" cy="57.9" r="2.20"/><circle cx="437.3" cy="32.9" r="2.20"/><circle cx="438.8" cy="83.3" r="2.20"/><circle cx="440.4" cy="82.2" r="2.20"/><circle cx="442.0" cy="100.7" r="2.20"/><circle cx="443.6" cy="101.1" r="2.20"/><circle cx="445.2" cy="108.4" r="2.20"/><circle cx="446.8" cy="112.6" r="2.20"/><circle cx="448.4" cy="122.1" r="2.20"/><circle cx="450.0" cy="122.4" r="2.20"/><circle cx="451.6" cy="125.6" r="2.20"/><circle cx="453.2" cy="125.9" r="2.20"/><circle cx="454.8" cy="119.8" r="2.20"/><circle cx="456.4" cy="124.3" r="2.20"/><circle cx="458.0" cy="124.3" r="2.20"/><circle cx="459.5" cy="120.2" r="2.20"/><circle cx="461.1" cy="127.4" r="2.20"/><circle cx="462.7" cy="125.9" r="2.20"/><circle cx="464.3" cy="128.9" r="2.20"/><circle cx="465.9" cy="134.1" r="2.20"/><circle cx="467.5" cy="130.6" r="2.20"/><circle cx="469.1" cy="128.9" r="2.20"/><circle cx="470.7" cy="112.9" r="2.20"/><circle cx="472.3" cy="107.0" r="2.20"/><circle cx="473.9" cy="117.6" r="2.20"/><circle cx="475.5" cy="109.9" r="2.20"/><circle cx="477.1" cy="110.6" r="2.20"/><circle cx="478.7" cy="119.4" r="2.20"/><circle cx="480.3" cy="133.0" r="2.20"/><circle cx="481.8" cy="119.3" r="2.20"/><circle cx="483.4" cy="120.8" r="2.20"/><circle cx="485.0" cy="119.7" r="2.20"/><circle cx="486.6" cy="132.2" r="2.20"/><circle cx="488.2" cy="132.4" r="2.20"/><circle cx="489.8" cy="138.9" r="2.20"/><circle cx="491.4" cy="145.5" r="2.20"/><circle cx="493.0" cy="152.8" r="2.20"/><circle cx="494.6" cy="156.0" r="2.20"/><circle cx="496.2" cy="144.4" r="2.20"/><circle cx="497.8" cy="143.1" r="2.20"/><circle cx="499.4" cy="148.5" r="2.20"/><circle cx="501.0" cy="143.6" r="2.20"/><circle cx="502.6" cy="144.4" r="2.20"/><circle cx="504.1" cy="149.0" r="2.20"/><circle cx="505.7" cy="155.2" r="2.20"/><circle cx="507.3" cy="141.3" r="2.20"/><circle cx="508.9" cy="145.2" r="2.20"/><circle cx="510.5" cy="143.9" r="2.20"/><circle cx="512.1" cy="154.7" r="2.20"/><circle cx="513.7" cy="149.5" r="2.20"/>
</g>
<g fill="#00ffff">
<circle cx="37.5" cy="178.8" r="2.20"/><circle cx="39.1" cy="183.1" r="2.20"/><circle cx="40.7" cy="180.1" r="2.20"/><circle cx="42.3" cy="186.2" r="2.20"/><circle cx="43.9" cy="190.5" r="2.20"/><circle cx="45.5" cy="191.8" r="2.20"/><circle cx="47.0" cy="194.5" r="2.20"/><circle cx="48.6" cy="183.7" r="2.20"/><circle cx="50.2" cy="184.8" r="2.20"/><circle cx="51.8" cy="198.2" r="2.20"/><circle cx="53.4" cy="186.9" r="2.20"/><circle cx="55.0" cy="188.1" r="2.20"/><circle cx="56.6" cy="188.5" r="2.20"/><circle cx="58.2" cy="196.9" r="2.20"/><circle cx="59.8" cy="188.9" r="2.20"/><circle cx="61.4" cy="185.7" r="2.20"/><circle cx="63.0" cy="190.3" r="2.20"/><circle cx="64.6" cy="193.6" r="2.20"/><circle cx="66.2" cy="183.8" r="2.20"/><circle cx="67.8" cy="182.9" r="2.20"/><circle cx="69.3" cy="186.7" r="2.20"/><circle cx="70.9" cy="194.6" r="2.20"/><circle cx="72.5" cy="196.8" r="2.20"/><circle cx="74.1" cy="206.6" r="2.20"/><circle cx="75.7" cy="194.2" r="2.20"/><circle cx="77.3" cy="188.8" r="2.20"/><circle cx="78.9" cy="184.1" r="2.20"/><circle cx="80.5" cy="178.0" r="2.20"/><circle cx="82.1" cy="172.7" r="2.20"/><circle cx="83.7" cy="182.8" r="2.20"/><circle cx="85.3" cy="199.5" r="2.20"/><circle cx="86.9" cy="193.5" r="2.20"/><circle cx="88.5" cy="204.2" r="2.20"/><circle cx="90.1" cy="202.9" r="2.20"/><circle cx="91.6" cy="189.7" r="2.20"/><circle cx="93.2" cy="178.4" r="2.20"/><circle cx="94.8" cy="174.4" r="2.20"/><circle cx="96.4" cy="178.6" r="2.20"/><circle cx="98.0" cy="177.3" r="2.20"/><circle cx="99.6" cy="181.2" r="2.20"/><circle cx="101.2" cy="179.1" r="2.20"/><circle cx="102.8" cy="180.5" r="2.20"/><circle cx="104.4" cy="180.2" r="2.20"/><circle cx="106.0" cy="189.4" r="2.20"/><circle cx="107.6" cy="181.9" r="2.20"/><circle cx="109.2" cy="193.7" r="2.20"/><circle cx="110.8" cy="186.2" r="2.20"/><circle cx="112.3" cy="179.8" r="2.20"/><circle cx="113.9" cy="179.1" r="2.20"/><circle cx="115.5" cy="177.1" r="2.20"/><circle cx="117.1" cy="175.5" r="2.20"/><circle cx="118.7" cy="175.6" r="2.20"/><circle cx="120.3" cy="177.2" r="2.20"/><circle cx="121.9" cy="171.1" r="2.20"/><circle cx="123.5" cy="174.7" r="2.20"/><circle cx="125.1" cy="172.2" r="2.20"/><circle cx="126.7" cy="179.7" r="2.20"/><circle cx="128.3" cy="178.6" r="2.20"/><circle cx="129.9" cy="174.3" r="2.20"/><circle cx="131.5" cy="176.3" r="2.20"/><circle cx="133.1" cy="182.4" r="2.20"/><circle cx="134.6" cy="171.9" r="2.20"/><circle cx="136.2" cy="173.6" r="2.20"/><circle cx="137.8" cy="173.6" r="2.20"/><circle cx="139.4" cy="181.7" r="2.20"/><circle cx="141.0" cy="174.2" r="2.20"/><circle cx="142.6" cy="177.8" r="2.20"/><circle cx="144.2" cy="177.3" r="2.20"/><circle cx="145.8" cy="177.1" r="2.20"/><circle cx="147.4" cy="181.6" r="2.20"/><circle cx="149.0" cy="181.5" r="2.20"/><circle cx="150.6" cy="181.9" r="2.20"/><circle cx="152.2" cy="176.4" r="2.20"/><circle cx="153.8" cy="174.7" r="2.20"/><circle cx="155.3" cy="178.4" r="2.20"/><circle cx="156.9" cy="178.7" r="2.20"/><circle cx="158.5" cy="176.2" r="2.20"/><circle cx="160.1" cy="181.3" r="2.20"/><circle cx="161.7" cy="178.0" r="2.20"/><circle cx="163.3" cy="182.5" r="2.20"/><circle cx="164.9" cy="184.3" r="2.20"/><circle cx="166.5" cy="183.0" r="2.20"/><circle cx="168.1" cy="190.6" r="2.20"/><circle cx="169.7" cy="180.6" r="2.20"/><circle cx="171.3" cy="182.8" r="2.20"/><circle cx="172.9" cy="184.4" r="2.20"/><circle cx="174.5" cy="185.0" r="2.20"/><circle cx="176.1" cy="175.8" r="2.20"/><circle cx="177.6" cy="179.7" r="2.20"/><circle cx="179.2" cy="178.0" r="2.20"/><circle cx="180.8" cy="176.9" r="2.20"/><circle cx="182.4" cy="180.8" r="2.20"/><circle cx="184.0" cy="182.1" r="2.20"/><circle cx="185.6" cy="178.8" r="2.20"/><circle cx="187.2" cy="179.3" r="2.20"/><circle cx="188.8" cy="187.8" r="2.20"/><circle cx="190.4" cy="181.0" r="2.20"/><circle cx="192.0" cy="185.4" r="2.20"/><circle cx="193.6" cy="186.7" r="2.20"/><circle cx="195.2" cy="185.9" r="2.20"/><circle cx="196.8" cy="185.8" r="2.20"/><circle cx="198.4" cy="186.6" r="2.20"/><circle cx="199.9" cy="185.1" r="2.20"/><circle cx="201.5" cy="182.5" r="2.20"/><circle cx="203.1" cy="189.8" r="2.20"/><circle cx="204.7" cy="187.2" r="2.20"/><circle cx="206.3" cy="185.1" r="2.20"/><circle cx="207.9" cy="187.8" r="2.20"/><circle cx="209.5" cy="197.8" r="2.20"/><circle cx="211.1" cy="190.9" r="2.20"/><circle cx="212.7" cy="201.0" r="2.20"/><circle cx="214.3" cy="186.9" r="2.20"/><circle cx="215.9" cy="194.3" r="2.20"/><circle cx="217.5" cy="183.8" r="2.20"/><circle cx="219.1" cy="192.3" r="2.20"/><circle cx="220.6" cy="188.2" r="2.20"/><circle cx="222.2" cy="186.1" r="2.20"/><circle cx="223.8" cy="194.7" r="2.20"/><circle cx="225.4" cy="191.3" r="2.20"/><circle cx="227.0" cy="189.6" r="2.20"/><circle cx="228.6" cy="194.8" r="2.20"/><circle cx="230.2" cy="190.1" r="2.20"/><circle cx="231.8" cy="189.9" r="2.20"/><circle cx="233.4" cy="188.3" r="2.20"/><circle cx="235.0" cy="186.3" r="2.20"/><circle cx="236.6" cy="195.3" r="2.20"/><circle cx="238.2" cy="193.2" r="2.20"/><circle cx="239.8" cy="190.0" r="2.20"/><circle cx="241.4" cy="196.8" r="2.20"/><circle cx="242.9" cy="199.2" r="2.20"/><circle cx="244.5" cy="194.3" r="2.20"/><circle cx="246.1" cy="195.3" r="2.20"/><circle cx="247.7" cy="190.6" r="2.20"/><circle cx="249.3" cy="190.9" r="2.20"/><circle cx="250.9" cy="189.3" r="2.20"/><circle cx="252.5" cy="191.9" r="2.20"/><circle cx="254.1" cy="188.2" r="2.20"/><circle cx="255.7" cy="188.1" r="2.20"/><circle cx="257.3" cy="192.5" r="2.20"/><circle cx="258.9" cy="188.9" r="2.20"/><circle cx="260.5" cy="191.3" r="2.20"/><circle cx="262.1" cy="187.9" r="2.20"/><circle cx="263.7" cy="201.3" r="2.20"/><circle cx="265.2" cy="186.0" r="2.20"/><circle cx="266.8" cy="191.1" r="2.20"/><circle cx="268.4" cy="188.4" r="2.20"/><circle cx="270.0" cy="188.3" r="2.20"/><circle cx="271.6" cy="187.7" r="2.20"/><circle cx="273.2" cy="196.4" r="2.20"/><circle cx="274.8" cy="195.9" r="2.20"/><circle cx="276.4" cy="160.0" r="2.20"/><circle cx="278.0" cy="160.4" r="2.20"/><circle cx="279.6" cy="163.1" r="2.20"/><circle cx="281.2" cy="176.5" r="2.20"/><circle cx="282.8" cy="161.6" r="2.20"/><circle cx="284.4" cy="163.6" r="2.20"/><circle cx="285.9" cy="163.1" r="2.20"/><circle cx="287.5" cy="165.8" r="2.20"/><circle cx="289.1" cy="167.5" r="2.20"/><circle cx="290.7" cy="166.3" r="2.20"/><circle cx="292.3" cy="167.3" r="2.20"/><circle cx="293.9" cy="165.2" r="2.20"/><circle cx="295.5" cy="173.8" r="2.20"/><circle cx="297.1" cy="168.7" r="2.20"/><circle cx="298.7" cy="165.9" r="2.20"/><circle cx="300.3" cy="168.2" r="2.20"/><circle cx="301.9" cy="167.5" r="2.20"/><circle cx="303.5" cy="156.9" r="2.20"/><circle cx="305.1" cy="156.7" r="2.20"/><circle cx="306.7" cy="146.7" r="2.20"/><circle cx="308.2" cy="150.2" r="2.20"/><circle cx="309.8" cy="158.5" r="2.20"/><circle cx="311.4" cy="166.7" r="2.20"/><circle cx="313.0" cy="175.9" r="2.20"/><circle cx="314.6" cy="172.2" r="2.20"/><circle cx="316.2" cy="175.5" r="2.20"/><circle cx="317.8" cy="175.5" r="2.20"/><circle cx="319.4" cy="171.8" r="2.20"/><circle cx="321.0" cy="162.9" r="2.20"/><circle cx="322.6" cy="155.9" r="2.20"/><circle cx="324.2" cy="160.2" r="2.20"/><circle cx="325.8" cy="150.6" r="2.20"/><circle cx="327.4" cy="148.6" r="2.20"/><circle cx="329.0" cy="144.9" r="2.20"/><circle cx="330.5" cy="150.4" r="2.20"/><circle cx="332.1" cy="154.3" r="2.20"/><circle cx="333.7" cy="156.4" r="2.20"/><circle cx="335.3" cy="151.8" r="2.20"/><circle cx="336.9" cy="154.8" r="2.20"/><circle cx="338.5" cy="153.2" r="2.20"/><circle cx="340.1" cy="153.1" r="2.20"/><circle cx="341.7" cy="162.5" r="2.20"/><circle cx="343.3" cy="162.7" r="2.20"/><circle cx="344.9" cy="153.6" r="2.20"/><circle cx="346.5" cy="145.4" r="2.20"/><circle cx="348.1" cy="148.8" r="2.20"/><circle cx="349.7" cy="138.4" r="2.20"/><circle cx="351.2" cy="162.3" r="2.20"/><circle cx="352.8" cy="158.2" r="2.20"/><circle cx="354.4" cy="170.3" r="2.20"/><circle cx="356.0" cy="159.5" r="2.20"/><circle cx="357.6" cy="144.5" r="2.20"/><circle cx="359.2" cy="145.4" r="2.20"/><circle cx="360.8" cy="161.9" r="2.20"/><circle cx="362.4" cy="151.6" r="2.20"/><circle cx="364.0" cy="146.2" r="2.20"/><circle cx="365.6" cy="152.6" r="2.20"/><circle cx="367.2" cy="148.8" r="2.20"/><circle cx="368.8" cy="147.2" r="2.20"/><circle cx="370.4" cy="145.3" r="2.20"/><circle cx="372.0" cy="141.0" r="2.20"/><circle cx="373.5" cy="176.5" r="2.20"/><circle cx="375.1" cy="125.1" r="2.20"/><circle cx="376.7" cy="142.1" r="2.20"/><circle cx="378.3" cy="140.8" r="2.20"/><circle cx="379.9" cy="147.6" r="2.20"/><circle cx="381.5" cy="140.8" r="2.20"/><circle cx="383.1" cy="136.8" r="2.20"/><circle cx="384.7" cy="155.1" r="2.20"/><circle cx="386.3" cy="144.8" r="2.20"/><circle cx="387.9" cy="137.3" r="2.20"/><circle cx="389.5" cy="140.6" r="2.20"/><circle cx="391.1" cy="132.0" r="2.20"/><circle cx="392.7" cy="145.8" r="2.20"/><circle cx="394.2" cy="125.2" r="2.20"/><circle cx="395.8" cy="127.6" r="2.20"/><circle cx="397.4" cy="118.0" r="2.20"/><circle cx="399.0" cy="122.3" r="2.20"/><circle cx="400.6" cy="117.3" r="2.20"/><circle cx="402.2" cy="106.8" r="2.20"/><circle cx="403.8" cy="128.5" r="2.20"/><circle cx="405.4" cy="124.6" r="2.20"/><circle cx="407.0" cy="113.5" r="2.20"/><circle cx="408.6" cy="95.9" r="2.20"/><circle cx="410.2" cy="116.4" r="2.20"/><circle cx="411.8" cy="122.2" r="2.20"/><circle cx="413.4" cy="96.7" r="2.20"/><circle cx="415.0" cy="102.9" r="2.20"/><circle cx="416.5" cy="92.5" r="2.20"/><circle cx="418.1" cy="104.2" r="2.20"/><circle cx="419.7" cy="70.5" r="2.20"/><circle cx="421.3" cy="112.5" r="2.20"/><circle cx="422.9" cy="98.4" r="2.20"/><circle cx="424.5" cy="18.9" r="2.20"/><circle cx="426.1" cy="82.4" r="2.20"/><circle cx="427.7" cy="81.5" r="2.20"/><circle cx="429.3" cy="92.6" r="2.20"/><circle cx="430.9" cy="100.4" r="2.20"/><circle cx="432.5" cy="75.6" r="2.20"/><circle cx="434.1" cy="78.6" r="2.20"/><circle cx="435.7" cy="66.5" r="2.20"/><circle cx="437.3" cy="75.2" r="2.20"/><circle cx="438.8" cy="96.8" r="2.20"/><circle cx="440.4" cy="121.7" r="2.20"/><circle cx="442.0" cy="126.1" r="2.20"/><circle cx="443.6" cy="112.8" r="2.20"/><circle cx="445.2" cy="124.6" r="2.20"/><circle cx="446.8" cy="140.5" r="2.20"/><circle cx="448.4" cy="139.6" r="2.20"/><circle cx="450.0" cy="133.4" r="2.20"/><circle cx="451.6" cy="133.9" r="2.20"/><circle cx="453.2" cy="132.1" r="2.20"/><circle cx="454.8" cy="149.0" r="2.20"/><circle cx="456.4" cy="135.7" r="2.20"/><circle cx="458.0" cy="137.1" r="2.20"/><circle cx="459.5" cy="125.3" r="2.20"/><circle cx="461.1" cy="138.1" r="2.20"/><circle cx="462.7" cy="144.7" r="2.20"/><circle cx="464.3" cy="149.4" r="2.20"/><circle cx="465.9" cy="144.3" r="2.20"/><circle cx="467.5" cy="146.8" r="2.20"/><circle cx="469.1" cy="140.9" r="2.20"/><circle cx="470.7" cy="137.5" r="2.20"/><circle cx="472.3" cy="132.7" r="2.20"/><circle cx="473.9" cy="132.0" r="2.20"/><circle cx="475.5" cy="132.3" r="2.20"/><circle cx="477.1" cy="133.5" r="2.20"/><circle cx="478.7" cy="144.9" r="2.20"/><circle cx="480.3" cy="141.2" r="2.20"/><circle cx="481.8" cy="144.4" r="2.20"/><circle cx="483.4" cy="132.0" r="2.20"/><circle cx="485.0" cy="133.3" r="2.20"/><circle cx="486.6" cy="139.4" r="2.20"/><circle cx="488.2" cy="151.5" r="2.20"/><circle cx="489.8" cy="153.2" r="2.20"/><circle cx="491.4" cy="169.2" r="2.20"/><circle cx="493.0" cy="166.7" r="2.20"/><circle cx="494.6" cy="160.4" r="2.20"/><circle cx="496.2" cy="169.4" r="2.20"/><circle cx="497.8" cy="162.0" r="2.20"/><circle cx="499.4" cy="165.3" r="2.20"/><circle cx="501.0" cy="173.9" r="2.20"/><circle cx="502.6" cy="162.7" r="2.20"/><circle cx="504.1" cy="157.6" r="2.20"/><circle cx="505.7" cy="156.2" r="2.20"/><circle cx="507.3" cy="170.5" r="2.20"/><circle cx="508.9" cy="164.8" r="2.20"/><circle cx="510.5" cy="161.2" r="2.20"/><circle cx="512.1" cy="156.5" r="2.20"/><circle cx="513.7" cy="156.1" r="2.20"/>
</g>
<g fill="#ff00ff">
<circle cx="37.5" cy="126.8" r="2.20"/><circle cx="39.1" cy="125.9" r="2.20"/><circle cx="40.7" cy="127.8" r="2.20"/><circle cx="42.3" cy="131.0" r="2.20"/><circle cx="43.9" cy="133.6" r="2.20"/><circle cx="45.5" cy="136.4" r="2.20"/><circle cx="47.0" cy="130.7" r="2.20"/><circle cx="48.6" cy="137.6" r="2.20"/><circle cx="50.2" cy="134.0" r="2.20"/><circle cx="51.8" cy="137.3" r="2.20"/><circle cx="53.4" cy="134.5" r="2.20"/><circle cx="55.0" cy="134.0" r="2.20"/><circle cx="56.6" cy="133.4" r="2.20"/><circle cx="58.2" cy="134.7" r="2.20"/><circle cx="59.8" cy="133.6" r="2.20"/><circle cx="61.4" cy="137.2" r="2.20"/><circle cx="63.0" cy="130.6" r="2.20"/><circle cx="64.6" cy="132.5" r="2.20"/><circle cx="66.2" cy="128.1" r="2.20"/><circle cx="67.8" cy="124.5" r="2.20"/><circle cx="69.3" cy="127.2" r="2.20"/><circle cx="70.9" cy="126.0" r="2.20"/><circle cx="72.5" cy="128.3" r="2.20"/><circle cx="74.1" cy="145.2" r="2.20"/><circle cx="75.7" cy="129.6" r="2.20"/><circle cx="77.3" cy="136.4" r="2.20"/><circle cx="78.9" cy="135.6" r="2.20"/><circle cx="80.5" cy="135.3" r="2.20"/><circle cx="82.1" cy="134.7" r="2.20"/><circle cx="83.7" cy="136.1" r="2.20"/><circle cx="85.3" cy="142.6" r="2.20"/><circle cx="86.9" cy="145.3" r="2.20"/><circle cx="88.5" cy="148.3" r="2.20"/><circle cx="90.1" cy="151.9" r="2.20"/><circle cx="91.6" cy="130.8" r="2.20"/><circle cx="93.2" cy="132.7" r="2.20"/><circle cx="94.8" cy="125.3" r="2.20"/><circle cx="96.4" cy="127.0" r="2.20"/><circle cx="98.0" cy="125.2" r="2.20"/><circle cx="99.6" cy="129.6" r="2.20"/><circle cx="101.2" cy="132.5" r="2.20"/><circle cx="102.8" cy="129.8" r="2.20"/><circle cx="104.4" cy="126.2" r="2.20"/><circle cx="106.0" cy="132.2" r="2.20"/><circle cx="107.6" cy="132.7" r="2.20"/><circle cx="109.2" cy="134.4" r="2.20"/><circle cx="110.8" cy="133.8" r="2.20"/><circle cx="112.3" cy="129.8" r="2.20"/><circle cx="113.9" cy="128.7" r="2.20"/><circle cx="115.5" cy="131.7" r="2.20"/><circle cx="117.1" cy="132.3" r="2.20"/><circle cx="118.7" cy="127.5" r="2.20"/><circle cx="120.3" cy="130.3" r="2.20"/><circle cx="121.9" cy="129.2" r="2.20"/><circle cx="123.5" cy="129.0" r="2.20"/><circle cx="125.1" cy="128.6" r="2.20"/><circle cx="126.7" cy="125.5" r="2.20"/><circle cx="128.3" cy="127.7" r="2.20"/><circle cx="129.9" cy="124.7" r="2.20"/><circle cx="131.5" cy="126.1" r="2.20"/><circle cx="133.1" cy="124.1" r="2.20"/><circle cx="134.6" cy="125.7" r="2.20"/><circle cx="136.2" cy="124.9" r="2.20"/><circle cx="137.8" cy="122.6" r="2.20"/><circle cx="139.4" cy="123.1" r="2.20"/><circle cx="141.0" cy="121.6" r="2.20"/><circle cx="142.6" cy="117.2" r="2.20"/><circle cx="144.2" cy="122.5" r="2.20"/><circle cx="145.8" cy="124.6" r="2.20"/><circle cx="147.4" cy="120.9" r="2.20"/><circle cx="149.0" cy="123.9" r="2.20"/><circle cx="150.6" cy="121.5" r="2.20"/><circle cx="152.2" cy="125.3" r="2.20"/><circle cx="153.8" cy="128.6" r="2.20"/><circle cx="155.3" cy="121.0" r="2.20"/><circle cx="156.9" cy="123.6" r="2.20"/><circle cx="158.5" cy="104.6" r="2.20"/><circle cx="160.1" cy="124.5" r="2.20"/><circle cx="161.7" cy="120.9" r="2.20"/><circle cx="163.3" cy="123.0" r="2.20"/><circle cx="164.9" cy="120.9" r="2.20"/><circle cx="166.5" cy="119.4" r="2.20"/><circle cx="168.1" cy="125.9" r="2.20"/><circle cx="169.7" cy="122.0" r="2.20"/><circle cx="171.3" cy="120.9" r="2.20"/><circle cx="172.9" cy="117.9" r="2.20"/><circle cx="174.5" cy="120.2" r="2.20"/><circle cx="176.1" cy="121.9" r="2.20"/><circle cx="177.6" cy="117.9" r="2.20"/><circle cx="179.2" cy="121.9" r="2.20"/><circle cx="180.8" cy="122.4" r="2.20"/><circle cx="182.4" cy="121.2" r="2.20"/><circle cx="184.0" cy="124.6" r="2.20"/><circle cx="185.6" cy="115.3" r="2.20"/><circle cx="187.2" cy="120.4" r="2.20"/><circle cx="188.8" cy="123.2" r="2.20"/><circle cx="190.4" cy="125.5" r="2.20"/><circle cx="192.0" cy="129.0" r="2.20"/><circle cx="193.6" cy="127.5" r="2.20"/><circle cx="195.2" cy="127.9" r="2.20"/><circle cx="196.8" cy="130.8" r="2.20"/><circle cx="198.4" cy="131.6" r="2.20"/><circle cx="199.9" cy="128.8" r="2.20"/><circle cx="201.5" cy="129.6" r="2.20"/><circle cx="203.1" cy="134.7" r="2.20"/><circle cx="204.7" cy="130.0" r="2.20"/><circle cx="206.3" cy="130.0" r="2.20"/><circle cx="207.9" cy="128.4" r="2.20"/><circle cx="209.5" cy="132.3" r="2.20"/><circle cx="211.1" cy="135.9" r="2.20"/><circle cx="212.7" cy="134.1" r="2.20"/><circle cx="214.3" cy="132.0" r="2.20"/><circle cx="215.9" cy="130.7" r="2.20"/><circle cx="217.5" cy="129.6" r="2.20"/><circle cx="219.1" cy="134.5" r="2.20"/><circle cx="220.6" cy="138.4" r="2.20"/><circle cx="222.2" cy="135.4" r="2.20"/><circle cx="223.8" cy="134.1" r="2.20"/><circle cx="225.4" cy="134.6" r="2.20"/><circle cx="227.0" cy="135.8" r="2.20"/><circle cx="228.6" cy="133.1" r="2.20"/><circle cx="230.2" cy="137.8" r="2.20"/><circle cx="231.8" cy="140.0" r="2.20"/><circle cx="233.4" cy="137.6" r="2.20"/><circle cx="235.0" cy="138.5" r="2.20"/><circle cx="236.6" cy="130.7" r="2.20"/><circle cx="238.2" cy="136.4" r="2.20"/><circle cx="239.8" cy="139.0" r="2.20"/><circle cx="241.4" cy="135.4" r="2.20"/><circle cx="242.9" cy="135.1" r="2.20"/><circle cx="244.5" cy="136.4" r="2.20"/><circle cx="246.1" cy="136.6" r="2.20"/><circle cx="247.7" cy="133.0" r="2.20"/><circle cx="249.3" cy="135.3" r="2.20"/><circle cx="250.9" cy="138.2" r="2.20"/><circle cx="252.5" cy="136.1" r="2.20"/><circle cx="254.1" cy="132.0" r="2.20"/><circle cx="255.7" cy="131.6" r="2.20"/><circle cx="257.3" cy="127.0" r="2.20"/><circle cx="258.9" cy="129.4" r="2.20"/><circle cx="260.5" cy="133.7" r="2.20"/><circle cx="262.1" cy="134.3" r="2.20"/><circle cx="263.7" cy="134.6" r="2.20"/><circle cx="265.2" cy="136.1" r="2.20"/><circle cx="266.8" cy="131.1" r="2.20"/><circle cx="268.4" cy="131.3" r="2.20"/><circle cx="270.0" cy="139.2" r="2.20"/><circle cx="271.6" cy="134.9" r="2.20"/><circle cx="273.2" cy="137.4" r="2.20"/><circle cx="274.8" cy="137.2" r="2.20"/><circle cx="276.4" cy="97.3" r="2.20"/><circle cx="278.0" cy="98.4" r="2.20"/><circle cx="279.6" cy="109.3" r="2.20"/><circle cx="281.2" cy="113.5" r="2.20"/><circle cx="282.8" cy="106.1" r="2.20"/><circle cx="284.4" cy="111.8" r="2.20"/><circle cx="285.9" cy="111.2" r="2.20"/><circle cx="287.5" cy="114.4" r="2.20"/><circle cx="289.1" cy="114.4" r="2.20"/><circle cx="290.7" cy="108.8" r="2.20"/><circle cx="292.3" cy="116.5" r="2.20"/><circle cx="293.9" cy="119.4" r="2.20"/><circle cx="295.5" cy="115.8" r="2.20"/><circle cx="297.1" cy="109.6" r="2.20"/><circle cx="298.7" cy="110.3" r="2.20"/><circle cx="300.3" cy="108.5" r="2.20"/><circle cx="301.9" cy="114.9" r="2.20"/><circle cx="303.5" cy="109.4" r="2.20"/><circle cx="305.1" cy="101.6" r="2.20"/><circle cx="306.7" cy="105.3" r="2.20"/><circle cx="308.2" cy="106.6" r="2.20"/><circle cx="309.8" cy="97.8" r="2.20"/><circle cx="311.4" cy="104.8" r="2.20"/><circle cx="313.0" cy="99.6" r="2.20"/><circle cx="314.6" cy="100.5" r="2.20"/><circle cx="316.2" cy="101.4" r="2.20"/><circle cx="317.8" cy="102.5" r="2.20"/><circle cx="319.4" cy="98.8" r="2.20"/><circle cx="321.0" cy="100.0" r="2.20"/><circle cx="322.6" cy="107.2" r="2.20"/><circle cx="324.2" cy="107.1" r="2.20"/><circle cx="325.8" cy="100.7" r="2.20"/><circle cx="327.4" cy="98.2" r="2.20"/><circle cx="329.0" cy="91.8" r="2.20"/><circle cx="330.5" cy="94.5" r="2.20"/><circle cx="332.1" cy="92.5" r="2.20"/><circle cx="333.7" cy="98.8" r="2.20"/><circle cx="335.3" cy="89.9" r="2.20"/><circle cx="336.9" cy="86.9" r="2.20"/><circle cx="338.5" cy="80.9" r="2.20"/><circle cx="340.1" cy="85.4" r="2.20"/><circle cx="341.7" cy="88.9" r="2.20"/><circle cx="343.3" cy="93.5" r="2.20"/><circle cx="344.9" cy="88.0" r="2.20"/><circle cx="346.5" cy="87.1" r="2.20"/><circle cx="348.1" cy="87.4" r="2.20"/><circle cx="349.7" cy="86.4" r="2.20"/><circle cx="351.2" cy="83.3" r="2.20"/><circle cx="352.8" cy="82.9" r="2.20"/><circle cx="354.4" cy="73.6" r="2.20"/><circle cx="356.0" cy="87.4" r="2.20"/><circle cx="357.6" cy="88.7" r="2.20"/><circle cx="359.2" cy="74.8" r="2.20"/><circle cx="360.8" cy="81.9" r="2.20"/><circle cx="362.4" cy="72.4" r="2.20"/><circle cx="364.0" cy="69.8" r="2.20"/><circle cx="365.6" cy="76.0" r="2.20"/><circle cx="367.2" cy="66.3" r="2.20"/><circle cx="368.8" cy="68.8" r="2.20"/><circle cx="370.4" cy="74.7" r="2.20"/><circle cx="372.0" cy="73.0" r="2.20"/><circle cx="373.5" cy="69.7" r="2.20"/><circle cx="375.1" cy="74.2" r="2.20"/><circle cx="376.7" cy="67.4" r="2.20"/><circle cx="378.3" cy="68.0" r="2.20"/><circle cx="379.9" cy="73.6" r="2.20"/><circle cx="381.5" cy="79.1" r="2.20"/><circle cx="383.1" cy="61.9" r="2.20"/><circle cx="384.7" cy="78.8" r="2.20"/><circle cx="386.3" cy="90.8" r="2.20"/><circle cx="387.9" cy="76.2" r="2.20"/><circle cx="389.5" cy="94.7" r="2.20"/><circle cx="391.1" cy="70.3" r="2.20"/><circle cx="392.7" cy="61.2" r="2.20"/><circle cx="394.2" cy="54.3" r="2.20"/><circle cx="395.8" cy="65.0" r="2.20"/><circle cx="397.4" cy="67.5" r="2.20"/><circle cx="399.0" cy="46.0" r="2.20"/><circle cx="400.6" cy="50.9" r="2.20"/><circle cx="402.2" cy="49.8" r="2.20"/><circle cx="403.8" cy="63.2" r="2.20"/><circle cx="405.4" cy="52.3" r="2.20"/><circle cx="407.0" cy="72.9" r="2.20"/><circle cx="408.6" cy="53.7" r="2.20"/><circle cx="410.2" cy="85.7" r="2.20"/><circle cx="411.8" cy="82.9" r="2.20"/><circle cx="413.4" cy="93.1" r="2.20"/><circle cx="415.0" cy="66.4" r="2.20"/><circle cx="416.5" cy="71.0" r="2.20"/><circle cx="418.1" cy="94.5" r="2.20"/><circle cx="419.7" cy="70.8" r="2.20"/><circle cx="421.3" cy="84.1" r="2.20"/><circle cx="422.9" cy="109.5" r="2.20"/><circle cx="424.5" cy="17.3" r="2.20"/><circle cx="426.1" cy="107.7" r="2.20"/><circle cx="427.7" cy="89.2" r="2.20"/><circle cx="429.3" cy="82.8" r="2.20"/><circle cx="430.9" cy="94.7" r="2.20"/><circle cx="432.5" cy="71.1" r="2.20"/><circle cx="434.1" cy="63.7" r="2.20"/><circle cx="435.7" cy="81.2" r="2.20"/><circle cx="437.3" cy="57.5" r="2.20"/><circle cx="438.8" cy="58.7" r="2.20"/><circle cx="440.4" cy="59.2" r="2.20"/><circle cx="442.0" cy="44.2" r="2.20"/><circle cx="443.6" cy="63.3" r="2.20"/><circle cx="445.2" cy="64.2" r="2.20"/><circle cx="446.8" cy="66.5" r="2.20"/><circle cx="448.4" cy="68.8" r="2.20"/><circle cx="450.0" cy="72.4" r="2.20"/><circle cx="451.6" cy="82.6" r="2.20"/><circle cx="453.2" cy="68.9" r="2.20"/><circle cx="454.8" cy="68.2" r="2.20"/><circle cx="456.4" cy="68.1" r="2.20"/><circle cx="458.0" cy="79.2" r="2.20"/><circle cx="459.5" cy="82.7" r="2.20"/><circle cx="461.1" cy="86.0" r="2.20"/><circle cx="462.7" cy="78.6" r="2.20"/><circle cx="464.3" cy="80.3" r="2.20"/><circle cx="465.9" cy="79.8" r="2.20"/><circle cx="467.5" cy="84.0" r="2.20"/><circle cx="469.1" cy="90.7" r="2.20"/><circle cx="470.7" cy="80.5" r="2.20"/><circle cx="472.3" cy="77.7" r="2.20"/><circle cx="473.9" cy="76.8" r="2.20"/><circle cx="475.5" cy="77.5" r="2.20"/><circle cx="477.1" cy="67.3" r="2.20"/><circle cx="478.7" cy="70.4" r="2.20"/><circle cx="480.3" cy="77.3" r="2.20"/><circle cx="481.8" cy="69.7" r="2.20"/><circle cx="483.4" cy="75.7" r="2.20"/><circle cx="485.0" cy="75.5" r="2.20"/><circle cx="486.6" cy="80.3" r="2.20"/><circle cx="488.2" cy="91.4" r="2.20"/><circle cx="489.8" cy="98.4" r="2.20"/><circle cx="491.4" cy="100.7" r="2.20"/><circle cx="493.0" cy="99.2" r="2.20"/><circle cx="494.6" cy="100.2" r="2.20"/><circle cx="496.2" cy="104.5" r="2.20"/><circle cx="497.8" cy="100.7" r="2.20"/><circle cx="499.4" cy="99.9" r="2.20"/><circle cx="501.0" cy="111.4" r="2.20"/><circle cx="502.6" cy="106.8" r="2.20"/><circle cx="504.1" cy="106.0" r="2.20"/><circle cx="505.7" cy="106.4" r="2.20"/><circle cx="507.3" cy="93.4" r="2.20"/><circle cx="508.9" cy="89.8" r="2.20"/><circle cx="510.5" cy="99.3" r="2.20"/><circle cx="512.1" cy="103.0" r="2.20"/><circle cx="513.7" cy="111.2" r="2.20"/>
</g>
<g fill="#ffff00">
<circle cx="37.5" cy="138.0" r="2.20"/><circle cx="39.1" cy="145.6" r="2.20"/><circle cx="40.7" cy="152.0" r="2.20"/><circle cx="42.3" cy="158.3" r="2.20"/><circle cx="43.9" cy="163.7" r="2.20"/><circle cx="45.5" cy="165.5" r="2.20"/><circle cx="47.0" cy="161.2" r="2.20"/><circle cx="48.6" cy="149.9" r="2.20"/><circle cx="50.2" cy="164.6" r="2.20"/><circle cx="51.8" cy="149.0" r="2.20"/><circle cx="53.4" cy="154.4" r="2.20"/><circle cx="55.0" cy="147.1" r="2.20"/><circle cx="56.6" cy="161.5" r="2.20"/><circle cx="58.2" cy="150.6" r="2.20"/><circle cx="59.8" cy="145.2" r="2.20"/><circle cx="61.4" cy="146.3" r="2.20"/><circle cx="63.0" cy="143.5" r="2.20"/><circle cx="64.6" cy="153.3" r="2.20"/><circle cx="66.2" cy="152.1" r="2.20"/><circle cx="67.8" cy="153.1" r="2.20"/><circle cx="69.3" cy="150.1" r="2.20"/><circle cx="70.9" cy="152.8" r="2.20"/><circle cx="72.5" cy="155.9" r="2.20"/><circle cx="74.1" cy="155.4" r="2.20"/><circle cx="75.7" cy="152.0" r="2.20"/><circle cx="77.3" cy="147.6" r="2.20"/><circle cx="78.9" cy="150.2" r="2.20"/><circle cx="80.5" cy="147.9" r="2.20"/><circle cx="82.1" cy="149.0" r="2.20"/><circle cx="83.7" cy="151.9" r="2.20"/><circle cx="85.3" cy="155.4" r="2.20"/><circle cx="86.9" cy="149.7" r="2.20"/><circle cx="88.5" cy="160.1" r="2.20"/><circle cx="90.1" cy="157.4" r="2.20"/><circle cx="91.6" cy="142.4" r="2.20"/><circle cx="93.2" cy="139.0" r="2.20"/><circle cx="94.8" cy="137.1" r="2.20"/><circle cx="96.4" cy="134.2" r="2.20"/><circle cx="98.0" cy="144.0" r="2.20"/><circle cx="99.6" cy="142.3" r="2.20"/><circle cx="101.2" cy="140.4" r="2.20"/><circle cx="102.8" cy="141.4" r="2.20"/><circle cx="104.4" cy="141.4" r="2.20"/><circle cx="106.0" cy="135.9" r="2.20"/><circle cx="107.6" cy="138.0" r="2.20"/><circle cx="109.2" cy="145.4" r="2.20"/><circle cx="110.8" cy="143.5" r="2.20"/><circle cx="112.3" cy="147.2" r="2.20"/><circle cx="113.9" cy="143.3" r="2.20"/><circle cx="115.5" cy="149.7" r="2.20"/><circle cx="117.1" cy="138.3" r="2.20"/><circle cx="118.7" cy="145.2" r="2.20"/><circle cx="120.3" cy="140.3" r="2.20"/><circle cx="121.9" cy="147.0" r="2.20"/><circle cx="123.5" cy="135.9" r="2.20"/><circle cx="125.1" cy="139.2" r="2.20"/><circle cx="126.7" cy="132.7" r="2.20"/><circle cx="128.3" cy="140.7" r="2.20"/><circle cx="129.9" cy="146.7" r="2.20"/><circle cx="131.5" cy="144.9" r="2.20"/><circle cx="133.1" cy="146.6" r="2.20"/><circle cx="134.6" cy="135.8" r="2.20"/><circle cx="136.2" cy="145.5" r="2.20"/><circle cx="137.8" cy="146.3" r="2.20"/><circle cx="139.4" cy="142.7" r="2.20"/><circle cx="141.0" cy="144.0" r="2.20"/><circle cx="142.6" cy="143.5" r="2.20"/><circle cx="144.2" cy="149.9" r="2.20"/><circle cx="145.8" cy="155.9" r="2.20"/><circle cx="147.4" cy="156.0" r="2.20"/><circle cx="149.0" cy="160.3" r="2.20"/><circle cx="150.6" cy="148.2" r="2.20"/><circle cx="152.2" cy="149.1" r="2.20"/><circle cx="153.8" cy="153.9" r="2.20"/><circle cx="155.3" cy="151.2" r="2.20"/><circle cx="156.9" cy="150.6" r="2.20"/><circle cx="158.5" cy="149.8" r="2.20"/><circle cx="160.1" cy="151.5" r="2.20"/><circle cx="161.7" cy="150.6" r="2.20"/><circle cx="163.3" cy="153.1" r="2.20"/><circle cx="164.9" cy="162.4" r="2.20"/><circle cx="166.5" cy="164.9" r="2.20"/><circle cx="168.1" cy="149.9" r="2.20"/><circle cx="169.7" cy="150.8" r="2.20"/><circle cx="171.3" cy="163.8" r="2.20"/><circle cx="172.9" cy="153.0" r="2.20"/><circle cx="174.5" cy="157.7" r="2.20"/><circle cx="176.1" cy="155.0" r="2.20"/><circle cx="177.6" cy="163.3" r="2.20"/><circle cx="179.2" cy="150.1" r="2.20"/><circle cx="180.8" cy="154.3" r="2.20"/><circle cx="182.4" cy="150.7" r="2.20"/><circle cx="184.0" cy="149.7" r="2.20"/><circle cx="185.6" cy="149.0" r="2.20"/><circle cx="187.2" cy="148.3" r="2.20"/><circle cx="188.8" cy="154.1" r="2.20"/><circle cx="190.4" cy="154.8" r="2.20"/><circle cx="192.0" cy="158.6" r="2.20"/><circle cx="193.6" cy="154.5" r="2.20"/><circle cx="195.2" cy="157.4" r="2.20"/><circle cx="196.8" cy="162.2" r="2.20"/><circle cx="198.4" cy="154.8" r="2.20"/><circle cx="199.9" cy="156.3" r="2.20"/><circle cx="201.5" cy="169.5" r="2.20"/><circle cx="203.1" cy="167.9" r="2.20"/><circle cx="204.7" cy="162.5" r="2.20"/><circle cx="206.3" cy="165.8" r="2.20"/><circle cx="207.9" cy="155.2" r="2.20"/><circle cx="209.5" cy="159.7" r="2.20"/><circle cx="211.1" cy="158.5" r="2.20"/><circle cx="212.7" cy="155.7" r="2.20"/><circle cx="214.3" cy="154.1" r="2.20"/><circle cx="215.9" cy="161.6" r="2.20"/><circle cx="217.5" cy="157.5" r="2.20"/><circle cx="219.1" cy="159.2" r="2.20"/><circle cx="220.6" cy="156.5" r="2.20"/><circle cx="222.2" cy="156.6" r="2.20"/><circle cx="223.8" cy="153.2" r="2.20"/><circle cx="225.4" cy="156.7" r="2.20"/><circle cx="227.0" cy="160.8" r="2.20"/><circle cx="228.6" cy="158.1" r="2.20"/><circle cx="230.2" cy="162.2" r="2.20"/><circle cx="231.8" cy="155.5" r="2.20"/><circle cx="233.4" cy="151.0" r="2.20"/><circle cx="235.0" cy="159.1" r="2.20"/><circle cx="236.6" cy="162.8" r="2.20"/><circle cx="238.2" cy="156.5" r="2.20"/><circle cx="239.8" cy="157.5" r="2.20"/><circle cx="241.4" cy="156.9" r="2.20"/><circle cx="242.9" cy="160.1" r="2.20"/><circle cx="244.5" cy="156.8" r="2.20"/><circle cx="246.1" cy="161.9" r="2.20"/><circle cx="247.7" cy="150.5" r="2.20"/><circle cx="249.3" cy="158.8" r="2.20"/><circle cx="250.9" cy="156.3" r="2.20"/><circle cx="252.5" cy="156.0" r="2.20"/><circle cx="254.1" cy="158.3" r="2.20"/><circle cx="255.7" cy="156.3" r="2.20"/><circle cx="257.3" cy="157.8" r="2.20"/><circle cx="258.9" cy="158.6" r="2.20"/><circle cx="260.5" cy="158.5" r="2.20"/><circle cx="262.1" cy="154.9" r="2.20"/><circle cx="263.7" cy="163.7" r="2.20"/><circle cx="265.2" cy="161.0" r="2.20"/><circle cx="266.8" cy="159.4" r="2.20"/><circle cx="268.4" cy="158.8" r="2.20"/><circle cx="270.0" cy="152.4" r="2.20"/><circle cx="271.6" cy="157.2" r="2.20"/><circle cx="273.2" cy="159.1" r="2.20"/><circle cx="274.8" cy="157.3" r="2.20"/><circle cx="276.4" cy="155.6" r="2.20"/><circle cx="278.0" cy="139.5" r="2.20"/><circle cx="279.6" cy="159.2" r="2.20"/><circle cx="281.2" cy="145.5" r="2.20"/><circle cx="282.8" cy="153.4" r="2.20"/><circle cx="284.4" cy="150.0" r="2.20"/><circle cx="285.9" cy="147.4" r="2.20"/><circle cx="287.5" cy="135.2" r="2.20"/><circle cx="289.1" cy="143.9" r="2.20"/><circle cx="290.7" cy="141.8" r="2.20"/><circle cx="292.3" cy="137.6" r="2.20"/><circle cx="293.9" cy="158.3" r="2.20"/><circle cx="295.5" cy="132.4" r="2.20"/><circle cx="297.1" cy="153.5" r="2.20"/><circle cx="298.7" cy="148.1" r="2.20"/><circle cx="300.3" cy="139.0" r="2.20"/><circle cx="301.9" cy="151.5" r="2.20"/><circle cx="303.5" cy="153.3" r="2.20"/><circle cx="305.1" cy="126.3" r="2.20"/><circle cx="306.7" cy="129.8" r="2.20"/><circle cx="308.2" cy="121.8" r="2.20"/><circle cx="309.8" cy="131.1" r="2.20"/><circle cx="311.4" cy="139.9" r="2.20"/><circle cx="313.0" cy="129.5" r="2.20"/><circle cx="314.6" cy="141.9" r="2.20"/><circle cx="316.2" cy="126.2" r="2.20"/><circle cx="317.8" cy="148.8" r="2.20"/><circle cx="319.4" cy="144.5" r="2.20"/><circle cx="321.0" cy="137.3" r="2.20"/><circle cx="322.6" cy="127.7" r="2.20"/><circle cx="324.2" cy="137.6" r="2.20"/><circle cx="325.8" cy="132.2" r="2.20"/><circle cx="327.4" cy="115.9" r="2.20"/><circle cx="329.0" cy="123.0" r="2.20"/><circle cx="330.5" cy="118.7" r="2.20"/><circle cx="332.1" cy="124.7" r="2.20"/><circle cx="333.7" cy="130.6" r="2.20"/><circle cx="335.3" cy="131.7" r="2.20"/><circle cx="336.9" cy="124.8" r="2.20"/><circle cx="338.5" cy="124.8" r="2.20"/><circle cx="340.1" cy="130.2" r="2.20"/><circle cx="341.7" cy="131.6" r="2.20"/><circle cx="343.3" cy="60.0" r="2.20"/><circle cx="344.9" cy="119.1" r="2.20"/><circle cx="346.5" cy="123.6" r="2.20"/><circle cx="348.1" cy="128.4" r="2.20"/><circle cx="349.7" cy="130.7" r="2.20"/><circle cx="351.2" cy="110.6" r="2.20"/><circle cx="352.8" cy="131.0" r="2.20"/><circle cx="354.4" cy="108.3" r="2.20"/><circle cx="356.0" cy="131.5" r="2.20"/><circle cx="357.6" cy="139.4" r="2.20"/><circle cx="359.2" cy="107.5" r="2.20"/><circle cx="360.8" cy="126.8" r="2.20"/><circle cx="362.4" cy="106.4" r="2.20"/><circle cx="364.0" cy="110.5" r="2.20"/><circle cx="365.6" cy="116.8" r="2.20"/><circle cx="367.2" cy="106.7" r="2.20"/><circle cx="368.8" cy="118.3" r="2.20"/><circle cx="370.4" cy="111.3" r="2.20"/><circle cx="372.0" cy="116.4" r="2.20"/><circle cx="373.5" cy="135.1" r="2.20"/><circle cx="375.1" cy="107.5" r="2.20"/><circle cx="376.7" cy="122.3" r="2.20"/><circle cx="378.3" cy="117.9" r="2.20"/><circle cx="379.9" cy="118.6" r="2.20"/><circle cx="381.5" cy="140.7" r="2.20"/><circle cx="383.1" cy="114.2" r="2.20"/><circle cx="384.7" cy="120.2" r="2.20"/><circle cx="386.3" cy="100.9" r="2.20"/><circle cx="387.9" cy="117.0" r="2.20"/><circle cx="389.5" cy="117.6" r="2.20"/><circle cx="391.1" cy="132.7" r="2.20"/><circle cx="392.7" cy="120.2" r="2.20"/><circle cx="394.2" cy="135.5" r="2.20"/><circle cx="395.8" cy="111.1" r="2.20"/><circle cx="397.4" cy="109.4" r="2.20"/><circle cx="399.0" cy="113.3" r="2.20"/><circle cx="400.6" cy="104.2" r="2.20"/><circle cx="402.2" cy="101.5" r="2.20"/><circle cx="403.8" cy="104.7" r="2.20"/><circle cx="405.4" cy="121.2" r="2.20"/><circle cx="407.0" cy="85.3" r="2.20"/><circle cx="408.6" cy="97.9" r="2.20"/><circle cx="410.2" cy="99.6" r="2.20"/><circle cx="411.8" cy="104.3" r="2.20"/><circle cx="413.4" cy="114.8" r="2.20"/><circle cx="415.0" cy="88.8" r="2.20"/><circle cx="416.5" cy="96.4" r="2.20"/><circle cx="418.1" cy="105.2" r="2.20"/><circle cx="419.7" cy="86.2" r="2.20"/><circle cx="421.3" cy="72.7" r="2.20"/><circle cx="422.9" cy="75.4" r="2.20"/><circle cx="424.5" cy="21.7" r="2.20"/><circle cx="426.1" cy="104.1" r="2.20"/><circle cx="427.7" cy="108.4" r="2.20"/><circle cx="429.3" cy="102.9" r="2.20"/><circle cx="430.9" cy="127.6" r="2.20"/><circle cx="432.5" cy="83.0" r="2.20"/><circle cx="434.1" cy="95.7" r="2.20"/><circle cx="435.7" cy="112.7" r="2.20"/><circle cx="437.3" cy="57.6" r="2.20"/><circle cx="438.8" cy="62.1" r="2.20"/><circle cx="440.4" cy="117.8" r="2.20"/><circle cx="442.0" cy="107.8" r="2.20"/><circle cx="443.6" cy="117.8" r="2.20"/><circle cx="445.2" cy="102.6" r="2.20"/><circle cx="446.8" cy="125.6" r="2.20"/><circle cx="448.4" cy="114.6" r="2.20"/><circle cx="450.0" cy="112.8" r="2.20"/><circle cx="451.6" cy="102.2" r="2.20"/><circle cx="453.2" cy="124.7" r="2.20"/><circle cx="454.8" cy="113.4" r="2.20"/><circle cx="456.4" cy="109.2" r="2.20"/><circle cx="458.0" cy="99.5" r="2.20"/><circle cx="459.5" cy="106.9" r="2.20"/><circle cx="461.1" cy="104.3" r="2.20"/><circle cx="462.7" cy="112.8" r="2.20"/><circle cx="464.3" cy="128.1" r="2.20"/><circle cx="465.9" cy="119.4" r="2.20"/><circle cx="467.5" cy="123.5" r="2.20"/><circle cx="469.1" cy="114.3" r="2.20"/><circle cx="470.7" cy="113.0" r="2.20"/><circle cx="472.3" cy="95.8" r="2.20"/><circle cx="473.9" cy="102.1" r="2.20"/><circle cx="475.5" cy="117.7" r="2.20"/><circle cx="477.1" cy="99.1" r="2.20"/><circle cx="478.7" cy="112.9" r="2.20"/><circle cx="480.3" cy="120.9" r="2.20"/><circle cx="481.8" cy="99.6" r="2.20"/><circle cx="483.4" cy="108.6" r="2.20"/><circle cx="485.0" cy="109.7" r="2.20"/><circle cx="486.6" cy="117.1" r="2.20"/><circle cx="488.2" cy="123.9" r="2.20"/><circle cx="489.8" cy="140.5" r="2.20"/><circle cx="491.4" cy="128.1" r="2.20"/><circle cx="493.0" cy="138.9" r="2.20"/><circle cx="494.6" cy="137.7" r="2.20"/><circle cx="496.2" cy="139.2" r="2.20"/><circle cx="497.8" cy="142.9" r="2.20"/><circle cx="499.4" cy="144.4" r="2.20"/><circle cx="501.0" cy="137.2" r="2.20"/><circle cx="502.6" cy="125.9" r="2.20"/><circle cx="504.1" cy="138.5" r="2.20"/><circle cx="505.7" cy="138.1" r="2.20"/><circle cx="507.3" cy="132.9" r="2.20"/><circle cx="508.9" cy="135.9" r="2.20"/><circle cx="510.5" cy="124.7" r="2.20"/><circle cx="512.1" cy="132.0" r="2.20"/><circle cx="513.7" cy="122.0" r="2.20"/>
</g>
<g fill="#000000">
<circle cx="37.5" cy="166.3" r="2.20"/><circle cx="39.1" cy="166.5" r="2.20"/><circle cx="40.7" cy="170.9" r="2.20"/><circle cx="42.3" cy="178.5" r="2.20"/><circle cx="43.9" cy="179.2" r="2.20"/><circle cx="45.5" cy="177.0" r="2.20"/><circle cx="47.0" cy="178.4" r="2.20"/><circle cx="48.6" cy="176.7" r="2.20"/><circle cx="50.2" cy="178.5" r="2.20"/><circle cx="51.8" cy="181.4" r="2.20"/><circle cx="53.4" cy="174.6" r="2.20"/><circle cx="55.0" cy="174.3" r="2.20"/><circle cx="56.6" cy="178.4" r="2.20"/><circle cx="58.2" cy="175.7" r="2.20"/><circle cx="59.8" cy="181.1" r="2.20"/><circle cx="61.4" cy="177.3" r="2.20"/><circle cx="63.0" cy="177.5" r="2.20"/><circle cx="64.6" cy="181.7" r="2.20"/><circle cx="66.2" cy="176.3" r="2.20"/><circle cx="67.8" cy="185.7" r="2.20"/><circle cx="69.3" cy="169.5" r="2.20"/><circle cx="70.9" cy="177.4" r="2.20"/><circle cx="72.5" cy="180.1" r="2.20"/><circle cx="74.1" cy="184.6" r="2.20"/><circle cx="75.7" cy="182.7" r="2.20"/><circle cx="77.3" cy="173.3" r="2.20"/><circle cx="78.9" cy="173.4" r="2.20"/><circle cx="80.5" cy="168.6" r="2.20"/><circle cx="82.1" cy="168.4" r="2.20"/><circle cx="83.7" cy="169.7" r="2.20"/><circle cx="85.3" cy="181.2" r="2.20"/><circle cx="86.9" cy="185.9" r="2.20"/><circle cx="88.5" cy="192.3" r="2.20"/><circle cx="90.1" cy="193.4" r="2.20"/><circle cx="91.6" cy="177.4" r="2.20"/><circle cx="93.2" cy="167.0" r="2.20"/><circle cx="94.8" cy="158.2" r="2.20"/><circle cx="96.4" cy="167.1" r="2.20"/><circle cx="98.0" cy="170.8" r="2.20"/><circle cx="99.6" cy="169.1" r="2.20"/><circle cx="101.2" cy="166.8" r="2.20"/><circle cx="102.8" cy="169.7" r="2.20"/><circle cx="104.4" cy="168.9" r="2.20"/><circle cx="106.0" cy="172.6" r="2.20"/><circle cx="107.6" cy="171.9" r="2.20"/><circle cx="109.2" cy="175.3" r="2.20"/><circle cx="110.8" cy="167.3" r="2.20"/><circle cx="112.3" cy="168.0" r="2.20"/><circle cx="113.9" cy="170.2" r="2.20"/><circle cx="115.5" cy="169.5" r="2.20"/><circle cx="117.1" cy="170.7" r="2.20"/><circle cx="118.7" cy="169.6" r="2.20"/><circle cx="120.3" cy="166.5" r="2.20"/><circle cx="121.9" cy="165.0" r="2.20"/><circle cx="123.5" cy="166.0" r="2.20"/><circle cx="125.1" cy="163.3" r="2.20"/><circle cx="126.7" cy="162.2" r="2.20"/><circle cx="128.3" cy="163.9" r="2.20"/><circle cx="129.9" cy="161.1" r="2.20"/><circle cx="131.5" cy="167.3" r="2.20"/><circle cx="133.1" cy="161.5" r="2.20"/><circle cx="134.6" cy="164.9" r="2.20"/><circle cx="136.2" cy="170.4" r="2.20"/><circle cx="137.8" cy="170.4" r="2.20"/><circle cx="139.4" cy="170.6" r="2.20"/><circle cx="141.0" cy="168.0" r="2.20"/><circle cx="142.6" cy="166.4" r="2.20"/><circle cx="144.2" cy="167.9" r="2.20"/><circle cx="145.8" cy="167.8" r="2.20"/><circle cx="147.4" cy="171.0" r="2.20"/><circle cx="149.0" cy="170.2" r="2.20"/><circle cx="150.6" cy="173.8" r="2.20"/><circle cx="152.2" cy="169.8" r="2.20"/><circle cx="153.8" cy="169.0" r="2.20"/><circle cx="155.3" cy="171.5" r="2.20"/><circle cx="156.9" cy="169.9" r="2.20"/><circle cx="158.5" cy="167.0" r="2.20"/><circle cx="160.1" cy="174.1" r="2.20"/><circle cx="161.7" cy="172.6" r="2.20"/><circle cx="163.3" cy="169.5" r="2.20"/><circle cx="164.9" cy="172.3" r="2.20"/><circle cx="166.5" cy="172.0" r="2.20"/><circle cx="168.1" cy="174.1" r="2.20"/><circle cx="169.7" cy="167.9" r="2.20"/><circle cx="171.3" cy="172.4" r="2.20"/><circle cx="172.9" cy="170.3" r="2.20"/><circle cx="174.5" cy="172.7" r="2.20"/><circle cx="176.1" cy="167.8" r="2.20"/><circle cx="177.6" cy="169.8" r="2.20"/><circle cx="179.2" cy="168.6" r="2.20"/><circle cx="180.8" cy="171.8" r="2.20"/><circle cx="182.4" cy="168.9" r="2.20"/><circle cx="184.0" cy="167.1" r="2.20"/><circle cx="185.6" cy="167.4" r="2.20"/><circle cx="187.2" cy="169.2" r="2.20"/><circle cx="188.8" cy="171.8" r="2.20"/><circle cx="190.4" cy="170.5" r="2.20"/><circle cx="192.0" cy="174.8" r="2.20"/><circle cx="193.6" cy="173.7" r="2.20"/><circle cx="195.2" cy="172.1" r="2.20"/><circle cx="196.8" cy="175.7" r="2.20"/><circle cx="198.4" cy="179.7" r="2.20"/><circle cx="199.9" cy="174.1" r="2.20"/><circle cx="201.5" cy="173.2" r="2.20"/><circle cx="203.1" cy="176.1" r="2.20"/><circle cx="204.7" cy="174.9" r="2.20"/><circle cx="206.3" cy="175.5" r="2.20"/><circle cx="207.9" cy="174.4" r="2.20"/><circle cx="209.5" cy="174.7" r="2.20"/><circle cx="211.1" cy="178.2" r="2.20"/><circle cx="212.7" cy="173.1" r="2.20"/><circle cx="214.3" cy="172.1" r="2.20"/><circle cx="215.9" cy="178.5" r="2.20"/><circle cx="217.5" cy="175.5" r="2.20"/><circle cx="219.1" cy="176.8" r="2.20"/><circle cx="220.6" cy="175.7" r="2.20"/><circle cx="222.2" cy="177.5" r="2.20"/><circle cx="223.8" cy="173.3" r="2.20"/><circle cx="225.4" cy="178.0" r="2.20"/><circle cx="227.0" cy="178.7" r="2.20"/><circle cx="228.6" cy="181.6" r="2.20"/><circle cx="230.2" cy="180.5" r="2.20"/><circle cx="231.8" cy="175.9" r="2.20"/><circle cx="233.4" cy="178.3" r="2.20"/><circle cx="235.0" cy="177.3" r="2.20"/><circle cx="236.6" cy="179.4" r="2.20"/><circle cx="238.2" cy="180.0" r="2.20"/><circle cx="239.8" cy="176.9" r="2.20"/><circle cx="241.4" cy="179.8" r="2.20"/><circle cx="242.9" cy="181.3" r="2.20"/><circle cx="244.5" cy="179.4" r="2.20"/><circle cx="246.1" cy="180.2" r="2.20"/><circle cx="247.7" cy="175.9" r="2.20"/><circle cx="249.3" cy="176.0" r="2.20"/><circle cx="250.9" cy="176.2" r="2.20"/><circle cx="252.5" cy="178.7" r="2.20"/><circle cx="254.1" cy="179.1" r="2.20"/><circle cx="255.7" cy="176.7" r="2.20"/><circle cx="257.3" cy="175.5" r="2.20"/><circle cx="258.9" cy="173.9" r="2.20"/><circle cx="260.5" cy="177.4" r="2.20"/><circle cx="262.1" cy="173.8" r="2.20"/><circle cx="263.7" cy="182.6" r="2.20"/><circle cx="265.2" cy="178.8" r="2.20"/><circle cx="266.8" cy="176.0" r="2.20"/><circle cx="268.4" cy="177.4" r="2.20"/><circle cx="270.0" cy="175.9" r="2.20"/><circle cx="271.6" cy="178.8" r="2.20"/><circle cx="273.2" cy="179.3" r="2.20"/><circle cx="274.8" cy="181.0" r="2.20"/><circle cx="276.4" cy="151.6" r="2.20"/><circle cx="278.0" cy="142.8" r="2.20"/><circle cx="279.6" cy="151.9" r="2.20"/><circle cx="281.2" cy="152.2" r="2.20"/><circle cx="282.8" cy="155.0" r="2.20"/><circle cx="284.4" cy="151.9" r="2.20"/><circle cx="285.9" cy="149.9" r="2.20"/><circle cx="287.5" cy="148.5" r="2.20"/><circle cx="289.1" cy="144.9" r="2.20"/><circle cx="290.7" cy="148.9" r="2.20"/><circle cx="292.3" cy="151.2" r="2.20"/><circle cx="293.9" cy="146.0" r="2.20"/><circle cx="295.5" cy="148.7" r="2.20"/><circle cx="297.1" cy="145.7" r="2.20"/><circle cx="298.7" cy="143.2" r="2.20"/><circle cx="300.3" cy="143.6" r="2.20"/><circle cx="301.9" cy="150.1" r="2.20"/><circle cx="303.5" cy="147.6" r="2.20"/><circle cx="305.1" cy="147.8" r="2.20"/><circle cx="306.7" cy="132.9" r="2.20"/><circle cx="308.2" cy="128.1" r="2.20"/><circle cx="309.8" cy="139.6" r="2.20"/><circle cx="311.4" cy="138.5" r="2.20"/><circle cx="313.0" cy="143.5" r="2.20"/><circle cx="314.6" cy="141.8" r="2.20"/><circle cx="316.2" cy="140.6" r="2.20"/><circle cx="317.8" cy="148.3" r="2.20"/><circle cx="319.4" cy="138.5" r="2.20"/><circle cx="321.0" cy="132.1" r="2.20"/><circle cx="322.6" cy="131.6" r="2.20"/><circle cx="324.2" cy="135.3" r="2.20"/><circle cx="325.8" cy="127.1" r="2.20"/><circle cx="327.4" cy="124.3" r="2.20"/><circle cx="329.0" cy="128.4" r="2.20"/><circle cx="330.5" cy="127.9" r="2.20"/><circle cx="332.1" cy="131.7" r="2.20"/><circle cx="333.7" cy="122.1" r="2.20"/><circle cx="335.3" cy="131.1" r="2.20"/><circle cx="336.9" cy="131.8" r="2.20"/><circle cx="338.5" cy="131.3" r="2.20"/><circle cx="340.1" cy="127.5" r="2.20"/><circle cx="341.7" cy="136.7" r="2.20"/><circle cx="343.3" cy="128.3" r="2.20"/><circle cx="344.9" cy="132.3" r="2.20"/><circle cx="346.5" cy="124.4" r="2.20"/><circle cx="348.1" cy="123.7" r="2.20"/><circle cx="349.7" cy="128.2" r="2.20"/><circle cx="351.2" cy="137.4" r="2.20"/><circle cx="352.8" cy="135.3" r="2.20"/><circle cx="354.4" cy="143.2" r="2.20"/><circle cx="356.0" cy="117.8" r="2.20"/><circle cx="357.6" cy="132.8" r="2.20"/><circle cx="359.2" cy="131.4" r="2.20"/><circle cx="360.8" cy="129.5" r="2.20"/><circle cx="362.4" cy="120.7" r="2.20"/><circle cx="364.0" cy="116.3" r="2.20"/><circle cx="365.6" cy="117.0" r="2.20"/><circle cx="367.2" cy="120.9" r="2.20"/><circle cx="368.8" cy="125.3" r="2.20"/><circle cx="370.4" cy="109.8" r="2.20"/><circle cx="372.0" cy="107.6" r="2.20"/><circle cx="373.5" cy="118.1" r="2.20"/><circle cx="375.1" cy="111.4" r="2.20"/><circle cx="376.7" cy="106.4" r="2.20"/><circle cx="378.3" cy="101.1" r="2.20"/><circle cx="379.9" cy="124.1" r="2.20"/><circle cx="381.5" cy="118.2" r="2.20"/><circle cx="383.1" cy="116.2" r="2.20"/><circle cx="384.7" cy="122.1" r="2.20"/><circle cx="386.3" cy="133.6" r="2.20"/><circle cx="387.9" cy="134.6" r="2.20"/><circle cx="389.5" cy="104.7" r="2.20"/><circle cx="391.1" cy="115.9" r="2.20"/><circle cx="392.7" cy="105.8" r="2.20"/><circle cx="394.2" cy="104.6" r="2.20"/><circle cx="395.8" cy="103.3" r="2.20"/><circle cx="397.4" cy="88.7" r="2.20"/><circle cx="399.0" cy="97.7" r="2.20"/><circle cx="400.6" cy="86.6" r="2.20"/><circle cx="402.2" cy="101.4" r="2.20"/><circle cx="403.8" cy="88.9" r="2.20"/><circle cx="405.4" cy="98.9" r="2.20"/><circle cx="407.0" cy="94.2" r="2.20"/><circle cx="408.6" cy="74.4" r="2.20"/><circle cx="410.2" cy="96.6" r="2.20"/><circle cx="411.8" cy="87.6" r="2.20"/><circle cx="413.4" cy="78.6" r="2.20"/><circle cx="415.0" cy="77.9" r="2.20"/><circle cx="416.5" cy="86.0" r="2.20"/><circle cx="418.1" cy="67.8" r="2.20"/><circle cx="419.7" cy="80.8" r="2.20"/><circle cx="421.3" cy="91.1" r="2.20"/><circle cx="422.9" cy="59.6" r="2.20"/><circle cx="424.5" cy="22.1" r="2.20"/><circle cx="426.1" cy="79.5" r="2.20"/><circle cx="427.7" cy="93.4" r="2.20"/><circle cx="429.3" cy="100.8" r="2.20"/><circle cx="430.9" cy="82.1" r="2.20"/><circle cx="432.5" cy="103.2" r="2.20"/><circle cx="434.1" cy="99.2" r="2.20"/><circle cx="435.7" cy="80.5" r="2.20"/><circle cx="437.3" cy="60.4" r="2.20"/><circle cx="438.8" cy="88.2" r="2.20"/><circle cx="440.4" cy="87.5" r="2.20"/><circle cx="442.0" cy="107.0" r="2.20"/><circle cx="443.6" cy="109.9" r="2.20"/><circle cx="445.2" cy="121.9" r="2.20"/><circle cx="446.8" cy="117.2" r="2.20"/><circle cx="448.4" cy="125.0" r="2.20"/><circle cx="450.0" cy="129.2" r="2.20"/><circle cx="451.6" cy="132.7" r="2.20"/><circle cx="453.2" cy="126.9" r="2.20"/><circle cx="454.8" cy="119.5" r="2.20"/><circle cx="456.4" cy="117.4" r="2.20"/><circle cx="458.0" cy="125.4" r="2.20"/><circle cx="459.5" cy="115.6" r="2.20"/><circle cx="461.1" cy="131.4" r="2.20"/><circle cx="462.7" cy="129.4" r="2.20"/><circle cx="464.3" cy="133.4" r="2.20"/><circle cx="465.9" cy="126.9" r="2.20"/><circle cx="467.5" cy="142.4" r="2.20"/><circle cx="469.1" cy="121.8" r="2.20"/><circle cx="470.7" cy="120.2" r="2.20"/><circle cx="472.3" cy="117.6" r="2.20"/><circle cx="473.9" cy="122.5" r="2.20"/><circle cx="475.5" cy="119.4" r="2.20"/><circle cx="477.1" cy="118.9" r="2.20"/><circle cx="478.7" cy="128.6" r="2.20"/><circle cx="480.3" cy="128.6" r="2.20"/><circle cx="481.8" cy="123.0" r="2.20"/><circle cx="483.4" cy="125.3" r="2.20"/><circle cx="485.0" cy="125.8" r="2.20"/><circle cx="486.6" cy="126.7" r="2.20"/><circle cx="488.2" cy="146.3" r="2.20"/><circle cx="489.8" cy="144.5" r="2.20"/><circle cx="491.4" cy="150.2" r="2.20"/><circle cx="493.0" cy="149.3" r="2.20"/><circle cx="494.6" cy="158.4" r="2.20"/><circle cx="496.2" cy="151.3" r="2.20"/><circle cx="497.8" cy="145.0" r="2.20"/><circle cx="499.4" cy="152.0" r="2.20"/><circle cx="501.0" cy="155.1" r="2.20"/><circle cx="502.6" cy="146.6" r="2.20"/><circle cx="504.1" cy="150.3" r="2.20"/><circle cx="505.7" cy="150.6" r="2.20"/><circle cx="507.3" cy="148.8" r="2.20"/><circle cx="508.9" cy="149.3" r="2.20"/><circle cx="510.5" cy="148.4" r="2.20"/><circle cx="512.1" cy="152.0" r="2.20"/><circle cx="513.7" cy="156.2" r="2.20"/>
</g>
</g>
<g id="bias-axes">
<path d="M35.90 235.90v-4.8M35.90 7.50v4.8M115.53 235.90v-4.8M115.53 7.50v4.8M195.17 235.90v-4.8M195.17 7.50v4.8M274.80 235.90v-4.8M274.80 7.50v4.8M354.43 235.90v-4.8M354.43 7.50v4.8M434.07 235.90v-4.8M434.07 7.50v4.8M513.70 235.90v-4.8M513.70 7.50v4.8M35.90 235.90h4.8M513.70 235.90h-4.8M35.90 190.22h4.8M513.70 190.22h-4.8M35.90 144.54h4.8M513.70 144.54h-4.8M35.90 98.86h4.8M513.70 98.86h-4.8M35.90 53.18h4.8M513.70 53.18h-4.8M35.90 7.50h4.8M513.70 7.50h-4.8" stroke="#4a4a4a" stroke-width="0.9" fill="none"/>
<rect x="35.90" y="7.50" width="477.80" height="228.40" fill="none" stroke="#4a4a4a" stroke-width="0.95"/>
<path d="M275.40 7.50V235.90" stroke="#ff0000" stroke-width="0.95" stroke-dasharray="7.5 2.4" stroke-dashoffset="3.6" fill="none"/>
<g class="tk" text-anchor="middle">
<text x="35.9" y="252.1">0</text>
<text x="115.5" y="252.1">50</text>
<text x="195.2" y="252.1">100</text>
<text x="274.8" y="252.1">0</text>
<text x="354.4" y="252.1">50</text>
<text x="434.1" y="252.1">100</text>
<text x="513.7" y="252.1">150</text>
</g>
<g class="tk" text-anchor="end">
<text x="31.3" y="240.5">0</text>
<text x="31.3" y="194.8">2</text>
<text x="31.3" y="149.1">4</text>
<text x="31.3" y="103.5">6</text>
<text x="31.3" y="57.8">8</text>
<text x="31.3" y="12.1">10</text>
</g>
<text class="lb" x="518.7" y="236.1">DOY</text>
<text class="lb yl" text-anchor="middle" transform="translate(12.0 121.8) rotate(-90)">BIAS/TECU</text>
<text class="yr" x="44.6" y="225.4">2020</text>
<text class="yr" x="283.6" y="225.4">2022</text>
</g>
<!-- bottom panel: STD -->
<g id="std-points">
<g fill="#ff0000">
<circle cx="37.5" cy="450.9" r="2.20"/><circle cx="39.1" cy="458.3" r="2.20"/><circle cx="40.7" cy="457.4" r="2.20"/><circle cx="42.1" cy="410.8" r="2.20"/><circle cx="43.9" cy="459.2" r="2.20"/><circle cx="45.5" cy="454.5" r="2.20"/><circle cx="47.0" cy="458.6" r="2.20"/><circle cx="48.6" cy="456.4" r="2.20"/><circle cx="50.2" cy="459.4" r="2.20"/><circle cx="51.8" cy="461.3" r="2.20"/><circle cx="53.4" cy="458.1" r="2.20"/><circle cx="55.0" cy="458.5" r="2.20"/><circle cx="56.6" cy="460.4" r="2.20"/><circle cx="58.2" cy="453.7" r="2.20"/><circle cx="59.8" cy="455.1" r="2.20"/><circle cx="61.4" cy="454.3" r="2.20"/><circle cx="63.0" cy="451.3" r="2.20"/><circle cx="64.6" cy="454.0" r="2.20"/><circle cx="66.2" cy="454.3" r="2.20"/><circle cx="67.8" cy="453.3" r="2.20"/><circle cx="69.3" cy="451.0" r="2.20"/><circle cx="70.9" cy="450.7" r="2.20"/><circle cx="72.5" cy="446.4" r="2.20"/><circle cx="74.1" cy="446.7" r="2.20"/><circle cx="75.7" cy="446.7" r="2.20"/><circle cx="77.3" cy="442.8" r="2.20"/><circle cx="78.9" cy="439.8" r="2.20"/><circle cx="80.5" cy="445.1" r="2.20"/><circle cx="82.1" cy="435.4" r="2.20"/><circle cx="83.7" cy="439.7" r="2.20"/><circle cx="85.3" cy="437.8" r="2.20"/><circle cx="86.4" cy="420.6" r="2.20"/><circle cx="88.5" cy="438.4" r="2.20"/><circle cx="90.1" cy="436.3" r="2.20"/><circle cx="91.6" cy="450.6" r="2.20"/><circle cx="93.2" cy="452.8" r="2.20"/><circle cx="94.8" cy="449.9" r="2.20"/><circle cx="96.4" cy="452.0" r="2.20"/><circle cx="98.0" cy="454.2" r="2.20"/><circle cx="99.6" cy="451.5" r="2.20"/><circle cx="101.2" cy="453.7" r="2.20"/><circle cx="102.8" cy="455.7" r="2.20"/><circle cx="104.4" cy="456.6" r="2.20"/><circle cx="106.0" cy="452.0" r="2.20"/><circle cx="107.6" cy="459.3" r="2.20"/><circle cx="109.2" cy="451.9" r="2.20"/><circle cx="110.8" cy="456.3" r="2.20"/><circle cx="112.3" cy="454.7" r="2.20"/><circle cx="113.9" cy="448.4" r="2.20"/><circle cx="115.5" cy="451.4" r="2.20"/><circle cx="117.1" cy="454.6" r="2.20"/><circle cx="118.7" cy="452.7" r="2.20"/><circle cx="120.3" cy="444.2" r="2.20"/><circle cx="121.9" cy="447.4" r="2.20"/><circle cx="123.5" cy="449.5" r="2.20"/><circle cx="125.1" cy="451.6" r="2.20"/><circle cx="126.7" cy="450.9" r="2.20"/><circle cx="128.3" cy="445.2" r="2.20"/><circle cx="129.9" cy="448.3" r="2.20"/><circle cx="131.5" cy="445.2" r="2.20"/><circle cx="133.1" cy="445.3" r="2.20"/><circle cx="134.6" cy="447.7" r="2.20"/><circle cx="136.2" cy="447.9" r="2.20"/><circle cx="137.8" cy="443.4" r="2.20"/><circle cx="139.4" cy="445.9" r="2.20"/><circle cx="141.0" cy="439.5" r="2.20"/><circle cx="142.6" cy="443.3" r="2.20"/><circle cx="144.2" cy="445.4" r="2.20"/><circle cx="145.8" cy="445.6" r="2.20"/><circle cx="147.4" cy="448.8" r="2.20"/><circle cx="149.0" cy="451.3" r="2.20"/><circle cx="150.6" cy="448.0" r="2.20"/><circle cx="152.2" cy="445.8" r="2.20"/><circle cx="153.8" cy="445.9" r="2.20"/><circle cx="155.3" cy="441.5" r="2.20"/><circle cx="156.9" cy="446.2" r="2.20"/><circle cx="158.5" cy="446.5" r="2.20"/><circle cx="160.1" cy="446.5" r="2.20"/><circle cx="161.7" cy="449.5" r="2.20"/><circle cx="163.3" cy="444.1" r="2.20"/><circle cx="164.9" cy="450.9" r="2.20"/><circle cx="166.5" cy="450.8" r="2.20"/><circle cx="168.1" cy="447.8" r="2.20"/><circle cx="169.7" cy="450.5" r="2.20"/><circle cx="171.3" cy="447.5" r="2.20"/><circle cx="172.9" cy="447.3" r="2.20"/><circle cx="174.5" cy="450.2" r="2.20"/><circle cx="176.1" cy="450.3" r="2.20"/><circle cx="177.6" cy="453.8" r="2.20"/><circle cx="179.2" cy="452.1" r="2.20"/><circle cx="180.8" cy="449.4" r="2.20"/><circle cx="182.4" cy="452.5" r="2.20"/><circle cx="184.0" cy="451.3" r="2.20"/><circle cx="185.6" cy="452.8" r="2.20"/><circle cx="187.2" cy="453.2" r="2.20"/><circle cx="188.8" cy="455.7" r="2.20"/><circle cx="190.4" cy="451.5" r="2.20"/><circle cx="192.0" cy="449.9" r="2.20"/><circle cx="193.6" cy="448.7" r="2.20"/><circle cx="195.2" cy="455.2" r="2.20"/><circle cx="196.8" cy="452.1" r="2.20"/><circle cx="198.4" cy="454.1" r="2.20"/><circle cx="199.9" cy="454.4" r="2.20"/><circle cx="201.5" cy="449.7" r="2.20"/><circle cx="203.1" cy="450.2" r="2.20"/><circle cx="204.7" cy="451.8" r="2.20"/><circle cx="206.3" cy="448.6" r="2.20"/><circle cx="207.9" cy="449.6" r="2.20"/><circle cx="209.5" cy="444.1" r="2.20"/><circle cx="211.1" cy="450.1" r="2.20"/><circle cx="212.7" cy="449.2" r="2.20"/><circle cx="214.3" cy="444.0" r="2.20"/><circle cx="215.9" cy="449.9" r="2.20"/><circle cx="217.5" cy="444.5" r="2.20"/><circle cx="219.1" cy="446.6" r="2.20"/><circle cx="220.6" cy="451.1" r="2.20"/><circle cx="222.2" cy="456.5" r="2.20"/><circle cx="223.8" cy="453.8" r="2.20"/><circle cx="225.4" cy="457.9" r="2.20"/><circle cx="227.0" cy="451.2" r="2.20"/><circle cx="228.6" cy="454.3" r="2.20"/><circle cx="230.2" cy="453.0" r="2.20"/><circle cx="231.8" cy="460.1" r="2.20"/><circle cx="233.4" cy="456.7" r="2.20"/><circle cx="235.0" cy="452.8" r="2.20"/><circle cx="236.6" cy="454.5" r="2.20"/><circle cx="238.2" cy="456.9" r="2.20"/><circle cx="239.8" cy="453.5" r="2.20"/><circle cx="241.4" cy="460.8" r="2.20"/><circle cx="242.9" cy="452.5" r="2.20"/><circle cx="244.5" cy="454.5" r="2.20"/><circle cx="246.1" cy="457.8" r="2.20"/><circle cx="247.7" cy="457.4" r="2.20"/><circle cx="249.3" cy="455.4" r="2.20"/><circle cx="250.9" cy="455.3" r="2.20"/><circle cx="252.5" cy="452.1" r="2.20"/><circle cx="254.1" cy="453.7" r="2.20"/><circle cx="255.7" cy="456.8" r="2.20"/><circle cx="257.3" cy="454.1" r="2.20"/><circle cx="258.9" cy="454.4" r="2.20"/><circle cx="260.5" cy="456.6" r="2.20"/><circle cx="262.1" cy="453.6" r="2.20"/><circle cx="263.7" cy="453.3" r="2.20"/><circle cx="265.2" cy="458.6" r="2.20"/><circle cx="266.8" cy="454.7" r="2.20"/><circle cx="268.4" cy="452.3" r="2.20"/><circle cx="270.0" cy="449.4" r="2.20"/><circle cx="271.6" cy="455.7" r="2.20"/><circle cx="273.2" cy="458.0" r="2.20"/><circle cx="274.8" cy="452.8" r="2.20"/><circle cx="276.4" cy="431.8" r="2.20"/><circle cx="278.0" cy="435.9" r="2.20"/><circle cx="279.6" cy="427.6" r="2.20"/><circle cx="281.2" cy="399.4" r="2.20"/><circle cx="282.8" cy="441.6" r="2.20"/><circle cx="284.4" cy="420.8" r="2.20"/><circle cx="285.9" cy="425.5" r="2.20"/><circle cx="287.5" cy="414.3" r="2.20"/><circle cx="289.1" cy="395.7" r="2.20"/><circle cx="290.7" cy="407.0" r="2.20"/><circle cx="292.3" cy="430.9" r="2.20"/><circle cx="293.9" cy="421.8" r="2.20"/><circle cx="295.5" cy="431.4" r="2.20"/><circle cx="297.1" cy="429.4" r="2.20"/><circle cx="298.7" cy="426.2" r="2.20"/><circle cx="300.3" cy="435.5" r="2.20"/><circle cx="301.9" cy="423.3" r="2.20"/><circle cx="303.5" cy="443.2" r="2.20"/><circle cx="305.1" cy="437.7" r="2.20"/><circle cx="306.7" cy="419.1" r="2.20"/><circle cx="308.2" cy="414.1" r="2.20"/><circle cx="309.8" cy="416.4" r="2.20"/><circle cx="311.4" cy="415.0" r="2.20"/><circle cx="313.0" cy="419.5" r="2.20"/><circle cx="314.6" cy="413.2" r="2.20"/><circle cx="316.2" cy="417.6" r="2.20"/><circle cx="317.8" cy="408.3" r="2.20"/><circle cx="319.4" cy="408.5" r="2.20"/><circle cx="321.0" cy="411.9" r="2.20"/><circle cx="322.6" cy="416.9" r="2.20"/><circle cx="324.2" cy="411.3" r="2.20"/><circle cx="325.8" cy="401.0" r="2.20"/><circle cx="327.4" cy="402.4" r="2.20"/><circle cx="329.0" cy="394.9" r="2.20"/><circle cx="330.5" cy="405.4" r="2.20"/><circle cx="332.1" cy="405.1" r="2.20"/><circle cx="333.7" cy="408.7" r="2.20"/><circle cx="335.3" cy="415.0" r="2.20"/><circle cx="336.9" cy="413.2" r="2.20"/><circle cx="338.5" cy="401.3" r="2.20"/><circle cx="340.1" cy="406.9" r="2.20"/><circle cx="341.7" cy="391.5" r="2.20"/><circle cx="343.3" cy="399.7" r="2.20"/><circle cx="344.9" cy="405.6" r="2.20"/><circle cx="346.5" cy="414.3" r="2.20"/><circle cx="348.1" cy="394.9" r="2.20"/><circle cx="349.7" cy="407.3" r="2.20"/><circle cx="351.2" cy="410.1" r="2.20"/><circle cx="352.8" cy="414.1" r="2.20"/><circle cx="354.4" cy="405.2" r="2.20"/><circle cx="356.0" cy="406.0" r="2.20"/><circle cx="357.6" cy="397.1" r="2.20"/><circle cx="359.2" cy="402.9" r="2.20"/><circle cx="360.8" cy="387.7" r="2.20"/><circle cx="362.4" cy="385.5" r="2.20"/><circle cx="364.0" cy="423.0" r="2.20"/><circle cx="365.6" cy="403.0" r="2.20"/><circle cx="367.2" cy="381.6" r="2.20"/><circle cx="368.8" cy="401.8" r="2.20"/><circle cx="370.4" cy="367.4" r="2.20"/><circle cx="372.0" cy="367.4" r="2.20"/><circle cx="373.5" cy="387.9" r="2.20"/><circle cx="375.1" cy="363.2" r="2.20"/><circle cx="376.7" cy="385.0" r="2.20"/><circle cx="378.3" cy="375.2" r="2.20"/><circle cx="379.9" cy="395.7" r="2.20"/><circle cx="381.5" cy="412.8" r="2.20"/><circle cx="383.1" cy="392.0" r="2.20"/><circle cx="384.7" cy="388.7" r="2.20"/><circle cx="386.3" cy="391.8" r="2.20"/><circle cx="387.9" cy="417.4" r="2.20"/><circle cx="389.5" cy="404.9" r="2.20"/><circle cx="391.1" cy="409.5" r="2.20"/><circle cx="392.7" cy="404.4" r="2.20"/><circle cx="394.2" cy="383.5" r="2.20"/><circle cx="395.8" cy="401.3" r="2.20"/><circle cx="397.4" cy="367.9" r="2.20"/><circle cx="399.0" cy="399.8" r="2.20"/><circle cx="400.6" cy="392.5" r="2.20"/><circle cx="402.9" cy="327.7" r="2.20"/><circle cx="403.8" cy="383.4" r="2.20"/><circle cx="405.4" cy="384.5" r="2.20"/><circle cx="407.0" cy="395.6" r="2.20"/><circle cx="408.6" cy="374.9" r="2.20"/><circle cx="410.2" cy="384.0" r="2.20"/><circle cx="411.8" cy="371.9" r="2.20"/><circle cx="413.2" cy="319.5" r="2.20"/><circle cx="415.0" cy="367.3" r="2.20"/><circle cx="416.5" cy="337.6" r="2.20"/><circle cx="418.1" cy="321.8" r="2.20"/><circle cx="419.7" cy="342.9" r="2.20"/><circle cx="421.3" cy="341.8" r="2.20"/><circle cx="422.9" cy="334.5" r="2.20"/><circle cx="424.5" cy="281.6" r="2.20"/><circle cx="426.1" cy="377.6" r="2.20"/><circle cx="427.7" cy="344.3" r="2.20"/><circle cx="429.3" cy="352.0" r="2.20"/><circle cx="430.9" cy="354.4" r="2.20"/><circle cx="432.5" cy="338.3" r="2.20"/><circle cx="434.1" cy="348.5" r="2.20"/><circle cx="435.7" cy="374.4" r="2.20"/><circle cx="437.3" cy="335.5" r="2.20"/><circle cx="438.8" cy="358.1" r="2.20"/><circle cx="440.4" cy="341.3" r="2.20"/><circle cx="442.0" cy="354.0" r="2.20"/><circle cx="443.6" cy="365.1" r="2.20"/><circle cx="445.2" cy="368.6" r="2.20"/><circle cx="446.8" cy="380.5" r="2.20"/><circle cx="448.4" cy="395.1" r="2.20"/><circle cx="450.0" cy="394.7" r="2.20"/><circle cx="451.6" cy="399.0" r="2.20"/><circle cx="453.2" cy="400.3" r="2.20"/><circle cx="454.8" cy="402.2" r="2.20"/><circle cx="456.4" cy="404.7" r="2.20"/><circle cx="458.0" cy="411.9" r="2.20"/><circle cx="459.5" cy="412.4" r="2.20"/><circle cx="461.1" cy="398.0" r="2.20"/><circle cx="462.7" cy="393.9" r="2.20"/><circle cx="464.3" cy="391.0" r="2.20"/><circle cx="465.9" cy="408.7" r="2.20"/><circle cx="467.5" cy="395.8" r="2.20"/><circle cx="469.1" cy="397.5" r="2.20"/><circle cx="470.7" cy="393.6" r="2.20"/><circle cx="472.3" cy="387.8" r="2.20"/><circle cx="473.9" cy="384.6" r="2.20"/><circle cx="475.5" cy="382.7" r="2.20"/><circle cx="477.1" cy="397.6" r="2.20"/><circle cx="478.7" cy="391.0" r="2.20"/><circle cx="480.3" cy="387.8" r="2.20"/><circle cx="481.8" cy="397.6" r="2.20"/><circle cx="483.4" cy="407.6" r="2.20"/><circle cx="485.0" cy="401.8" r="2.20"/><circle cx="486.6" cy="402.3" r="2.20"/><circle cx="488.2" cy="398.5" r="2.20"/><circle cx="489.8" cy="394.4" r="2.20"/><circle cx="491.4" cy="414.6" r="2.20"/><circle cx="493.0" cy="411.6" r="2.20"/><circle cx="494.6" cy="417.1" r="2.20"/><circle cx="496.2" cy="417.7" r="2.20"/><circle cx="497.8" cy="417.1" r="2.20"/><circle cx="499.4" cy="422.1" r="2.20"/><circle cx="501.0" cy="423.2" r="2.20"/><circle cx="502.6" cy="423.7" r="2.20"/><circle cx="504.1" cy="415.1" r="2.20"/><circle cx="505.7" cy="425.9" r="2.20"/><circle cx="507.3" cy="419.3" r="2.20"/><circle cx="508.9" cy="426.2" r="2.20"/><circle cx="510.5" cy="426.2" r="2.20"/><circle cx="512.1" cy="421.3" r="2.20"/><circle cx="513.7" cy="385.8" r="2.20"/>
</g>
<g fill="#00ff00">
<circle cx="37.5" cy="454.2" r="2.20"/><circle cx="39.1" cy="454.0" r="2.20"/><circle cx="40.7" cy="454.0" r="2.20"/><circle cx="42.3" cy="455.1" r="2.20"/><circle cx="43.9" cy="457.9" r="2.20"/><circle cx="45.5" cy="456.3" r="2.20"/><circle cx="47.0" cy="457.9" r="2.20"/><circle cx="48.6" cy="460.7" r="2.20"/><circle cx="50.2" cy="460.5" r="2.20"/><circle cx="51.8" cy="460.6" r="2.20"/><circle cx="53.4" cy="459.6" r="2.20"/><circle cx="55.0" cy="458.2" r="2.20"/><circle cx="56.6" cy="461.8" r="2.20"/><circle cx="58.2" cy="457.1" r="2.20"/><circle cx="59.8" cy="458.1" r="2.20"/><circle cx="61.4" cy="456.8" r="2.20"/><circle cx="63.0" cy="455.1" r="2.20"/><circle cx="64.6" cy="456.1" r="2.20"/><circle cx="66.2" cy="461.6" r="2.20"/><circle cx="67.8" cy="456.6" r="2.20"/><circle cx="69.3" cy="454.1" r="2.20"/><circle cx="70.9" cy="450.2" r="2.20"/><circle cx="72.5" cy="443.0" r="2.20"/><circle cx="74.1" cy="445.5" r="2.20"/><circle cx="75.7" cy="446.3" r="2.20"/><circle cx="77.3" cy="442.9" r="2.20"/><circle cx="78.9" cy="443.6" r="2.20"/><circle cx="80.5" cy="444.2" r="2.20"/><circle cx="82.1" cy="439.0" r="2.20"/><circle cx="83.7" cy="439.9" r="2.20"/><circle cx="85.3" cy="438.8" r="2.20"/><circle cx="86.9" cy="436.1" r="2.20"/><circle cx="88.5" cy="435.3" r="2.20"/><circle cx="90.1" cy="438.9" r="2.20"/><circle cx="91.6" cy="454.4" r="2.20"/><circle cx="93.2" cy="452.5" r="2.20"/><circle cx="94.8" cy="452.7" r="2.20"/><circle cx="96.4" cy="450.2" r="2.20"/><circle cx="98.0" cy="454.5" r="2.20"/><circle cx="99.6" cy="455.3" r="2.20"/><circle cx="101.2" cy="453.9" r="2.20"/><circle cx="102.8" cy="454.9" r="2.20"/><circle cx="104.4" cy="455.5" r="2.20"/><circle cx="106.0" cy="457.8" r="2.20"/><circle cx="107.6" cy="455.3" r="2.20"/><circle cx="109.2" cy="450.3" r="2.20"/><circle cx="110.8" cy="455.8" r="2.20"/><circle cx="112.3" cy="457.8" r="2.20"/><circle cx="113.9" cy="451.1" r="2.20"/><circle cx="115.5" cy="455.0" r="2.20"/><circle cx="117.1" cy="457.6" r="2.20"/><circle cx="118.7" cy="454.6" r="2.20"/><circle cx="120.3" cy="450.9" r="2.20"/><circle cx="121.9" cy="452.1" r="2.20"/><circle cx="123.5" cy="451.4" r="2.20"/><circle cx="125.1" cy="450.8" r="2.20"/><circle cx="126.7" cy="451.8" r="2.20"/><circle cx="128.3" cy="449.1" r="2.20"/><circle cx="129.9" cy="454.5" r="2.20"/><circle cx="131.5" cy="444.4" r="2.20"/><circle cx="133.1" cy="443.2" r="2.20"/><circle cx="134.6" cy="445.1" r="2.20"/><circle cx="136.2" cy="447.0" r="2.20"/><circle cx="137.8" cy="447.2" r="2.20"/><circle cx="139.4" cy="444.6" r="2.20"/><circle cx="141.0" cy="447.2" r="2.20"/><circle cx="142.6" cy="448.8" r="2.20"/><circle cx="144.2" cy="446.8" r="2.20"/><circle cx="145.8" cy="452.2" r="2.20"/><circle cx="147.4" cy="449.0" r="2.20"/><circle cx="149.0" cy="447.1" r="2.20"/><circle cx="150.6" cy="450.7" r="2.20"/><circle cx="152.2" cy="448.6" r="2.20"/><circle cx="153.8" cy="447.1" r="2.20"/><circle cx="155.3" cy="447.1" r="2.20"/><circle cx="156.9" cy="453.8" r="2.20"/><circle cx="158.5" cy="451.7" r="2.20"/><circle cx="160.1" cy="451.2" r="2.20"/><circle cx="161.7" cy="454.8" r="2.20"/><circle cx="163.3" cy="445.5" r="2.20"/><circle cx="164.9" cy="451.7" r="2.20"/><circle cx="166.5" cy="450.5" r="2.20"/><circle cx="168.1" cy="451.5" r="2.20"/><circle cx="169.7" cy="448.0" r="2.20"/><circle cx="171.3" cy="453.4" r="2.20"/><circle cx="172.9" cy="456.4" r="2.20"/><circle cx="174.5" cy="450.0" r="2.20"/><circle cx="176.1" cy="454.1" r="2.20"/><circle cx="177.6" cy="453.5" r="2.20"/><circle cx="179.2" cy="454.1" r="2.20"/><circle cx="180.8" cy="452.1" r="2.20"/><circle cx="182.4" cy="451.9" r="2.20"/><circle cx="184.0" cy="458.2" r="2.20"/><circle cx="185.6" cy="456.4" r="2.20"/><circle cx="187.2" cy="455.3" r="2.20"/><circle cx="188.8" cy="453.4" r="2.20"/><circle cx="190.4" cy="458.2" r="2.20"/><circle cx="192.0" cy="451.8" r="2.20"/><circle cx="193.6" cy="453.2" r="2.20"/><circle cx="195.2" cy="456.9" r="2.20"/><circle cx="196.8" cy="455.1" r="2.20"/><circle cx="198.4" cy="452.0" r="2.20"/><circle cx="199.9" cy="454.6" r="2.20"/><circle cx="201.5" cy="456.9" r="2.20"/><circle cx="203.1" cy="453.1" r="2.20"/><circle cx="204.7" cy="453.6" r="2.20"/><circle cx="206.3" cy="455.0" r="2.20"/><circle cx="207.9" cy="451.2" r="2.20"/><circle cx="209.5" cy="451.6" r="2.20"/><circle cx="211.1" cy="454.3" r="2.20"/><circle cx="212.7" cy="447.1" r="2.20"/><circle cx="214.3" cy="454.2" r="2.20"/><circle cx="215.9" cy="448.1" r="2.20"/><circle cx="217.5" cy="451.2" r="2.20"/><circle cx="219.1" cy="450.9" r="2.20"/><circle cx="220.6" cy="452.3" r="2.20"/><circle cx="222.2" cy="456.2" r="2.20"/><circle cx="223.8" cy="457.9" r="2.20"/><circle cx="225.4" cy="455.1" r="2.20"/><circle cx="227.0" cy="454.7" r="2.20"/><circle cx="228.6" cy="457.9" r="2.20"/><circle cx="230.2" cy="456.5" r="2.20"/><circle cx="231.8" cy="459.6" r="2.20"/><circle cx="233.4" cy="458.8" r="2.20"/><circle cx="235.0" cy="459.9" r="2.20"/><circle cx="236.6" cy="456.5" r="2.20"/><circle cx="238.2" cy="460.0" r="2.20"/><circle cx="239.8" cy="455.0" r="2.20"/><circle cx="241.4" cy="462.1" r="2.20"/><circle cx="242.9" cy="460.1" r="2.20"/><circle cx="244.5" cy="456.5" r="2.20"/><circle cx="246.1" cy="451.0" r="2.20"/><circle cx="247.7" cy="454.6" r="2.20"/><circle cx="249.3" cy="456.6" r="2.20"/><circle cx="250.9" cy="456.6" r="2.20"/><circle cx="252.5" cy="455.5" r="2.20"/><circle cx="254.1" cy="455.0" r="2.20"/><circle cx="255.7" cy="458.7" r="2.20"/><circle cx="257.3" cy="459.0" r="2.20"/><circle cx="258.9" cy="458.9" r="2.20"/><circle cx="260.5" cy="458.5" r="2.20"/><circle cx="262.1" cy="456.3" r="2.20"/><circle cx="263.7" cy="452.3" r="2.20"/><circle cx="265.2" cy="455.8" r="2.20"/><circle cx="266.8" cy="458.1" r="2.20"/><circle cx="268.4" cy="458.0" r="2.20"/><circle cx="270.0" cy="453.4" r="2.20"/><circle cx="271.6" cy="458.0" r="2.20"/><circle cx="273.2" cy="456.5" r="2.20"/><circle cx="274.8" cy="454.7" r="2.20"/><circle cx="276.4" cy="425.0" r="2.20"/><circle cx="278.0" cy="433.4" r="2.20"/><circle cx="279.6" cy="441.3" r="2.20"/><circle cx="281.2" cy="433.2" r="2.20"/><circle cx="282.8" cy="429.8" r="2.20"/><circle cx="284.4" cy="440.1" r="2.20"/><circle cx="285.9" cy="428.3" r="2.20"/><circle cx="287.5" cy="422.5" r="2.20"/><circle cx="289.1" cy="405.7" r="2.20"/><circle cx="290.7" cy="412.9" r="2.20"/><circle cx="292.3" cy="430.5" r="2.20"/><circle cx="293.9" cy="426.6" r="2.20"/><circle cx="295.5" cy="438.2" r="2.20"/><circle cx="297.1" cy="434.3" r="2.20"/><circle cx="298.7" cy="436.2" r="2.20"/><circle cx="300.3" cy="430.2" r="2.20"/><circle cx="301.9" cy="431.1" r="2.20"/><circle cx="303.5" cy="438.0" r="2.20"/><circle cx="305.1" cy="435.4" r="2.20"/><circle cx="306.7" cy="424.1" r="2.20"/><circle cx="308.2" cy="429.8" r="2.20"/><circle cx="309.8" cy="433.2" r="2.20"/><circle cx="311.4" cy="435.3" r="2.20"/><circle cx="313.0" cy="431.3" r="2.20"/><circle cx="314.6" cy="430.8" r="2.20"/><circle cx="316.2" cy="422.2" r="2.20"/><circle cx="317.8" cy="416.6" r="2.20"/><circle cx="319.4" cy="407.3" r="2.20"/><circle cx="321.0" cy="418.4" r="2.20"/><circle cx="322.6" cy="419.8" r="2.20"/><circle cx="324.2" cy="413.3" r="2.20"/><circle cx="325.8" cy="409.9" r="2.20"/><circle cx="327.4" cy="412.5" r="2.20"/><circle cx="329.0" cy="405.7" r="2.20"/><circle cx="330.5" cy="401.4" r="2.20"/><circle cx="332.1" cy="409.8" r="2.20"/><circle cx="333.7" cy="411.0" r="2.20"/><circle cx="335.3" cy="414.9" r="2.20"/><circle cx="336.9" cy="407.8" r="2.20"/><circle cx="338.5" cy="411.2" r="2.20"/><circle cx="340.1" cy="411.7" r="2.20"/><circle cx="341.7" cy="401.5" r="2.20"/><circle cx="343.3" cy="410.8" r="2.20"/><circle cx="344.9" cy="415.1" r="2.20"/><circle cx="346.5" cy="411.8" r="2.20"/><circle cx="348.1" cy="410.1" r="2.20"/><circle cx="349.7" cy="417.1" r="2.20"/><circle cx="351.2" cy="398.1" r="2.20"/><circle cx="352.8" cy="405.7" r="2.20"/><circle cx="354.4" cy="404.2" r="2.20"/><circle cx="356.0" cy="405.4" r="2.20"/><circle cx="357.6" cy="408.9" r="2.20"/><circle cx="359.2" cy="402.6" r="2.20"/><circle cx="360.8" cy="396.0" r="2.20"/><circle cx="362.4" cy="401.3" r="2.20"/><circle cx="364.0" cy="400.8" r="2.20"/><circle cx="365.6" cy="388.3" r="2.20"/><circle cx="367.2" cy="387.0" r="2.20"/><circle cx="368.8" cy="384.9" r="2.20"/><circle cx="370.4" cy="384.0" r="2.20"/><circle cx="372.0" cy="381.4" r="2.20"/><circle cx="373.5" cy="374.4" r="2.20"/><circle cx="375.1" cy="381.3" r="2.20"/><circle cx="376.7" cy="389.6" r="2.20"/><circle cx="378.3" cy="394.3" r="2.20"/><circle cx="379.9" cy="397.1" r="2.20"/><circle cx="381.5" cy="407.9" r="2.20"/><circle cx="383.1" cy="408.3" r="2.20"/><circle cx="384.7" cy="408.8" r="2.20"/><circle cx="386.3" cy="415.8" r="2.20"/><circle cx="387.9" cy="418.3" r="2.20"/><circle cx="389.5" cy="411.7" r="2.20"/><circle cx="391.1" cy="406.6" r="2.20"/><circle cx="392.7" cy="408.5" r="2.20"/><circle cx="394.2" cy="398.0" r="2.20"/><circle cx="395.8" cy="386.6" r="2.20"/><circle cx="397.4" cy="398.5" r="2.20"/><circle cx="399.0" cy="392.8" r="2.20"/><circle cx="400.6" cy="387.1" r="2.20"/><circle cx="402.2" cy="368.8" r="2.20"/><circle cx="403.8" cy="380.3" r="2.20"/><circle cx="405.4" cy="386.2" r="2.20"/><circle cx="407.0" cy="399.9" r="2.20"/><circle cx="408.6" cy="381.6" r="2.20"/><circle cx="410.2" cy="387.3" r="2.20"/><circle cx="411.8" cy="376.7" r="2.20"/><circle cx="413.4" cy="360.9" r="2.20"/><circle cx="415.0" cy="356.2" r="2.20"/><circle cx="416.5" cy="355.2" r="2.20"/><circle cx="418.1" cy="345.0" r="2.20"/><circle cx="419.7" cy="342.6" r="2.20"/><circle cx="421.3" cy="361.5" r="2.20"/><circle cx="422.9" cy="350.3" r="2.20"/><circle cx="424.5" cy="296.4" r="2.20"/><circle cx="426.1" cy="339.9" r="2.20"/><circle cx="427.7" cy="357.0" r="2.20"/><circle cx="429.3" cy="377.2" r="2.20"/><circle cx="430.9" cy="353.3" r="2.20"/><circle cx="432.5" cy="354.6" r="2.20"/><circle cx="434.1" cy="370.1" r="2.20"/><circle cx="435.7" cy="368.1" r="2.20"/><circle cx="437.3" cy="351.4" r="2.20"/><circle cx="438.8" cy="352.6" r="2.20"/><circle cx="440.4" cy="359.2" r="2.20"/><circle cx="442.0" cy="363.5" r="2.20"/><circle cx="443.6" cy="365.9" r="2.20"/><circle cx="445.2" cy="384.7" r="2.20"/><circle cx="446.8" cy="390.3" r="2.20"/><circle cx="448.4" cy="402.7" r="2.20"/><circle cx="450.0" cy="394.3" r="2.20"/><circle cx="451.6" cy="401.4" r="2.20"/><circle cx="453.2" cy="398.6" r="2.20"/><circle cx="454.8" cy="404.6" r="2.20"/><circle cx="456.4" cy="410.7" r="2.20"/><circle cx="458.0" cy="410.7" r="2.20"/><circle cx="459.5" cy="420.5" r="2.20"/><circle cx="461.1" cy="407.9" r="2.20"/><circle cx="462.7" cy="397.9" r="2.20"/><circle cx="464.3" cy="401.6" r="2.20"/><circle cx="465.9" cy="404.1" r="2.20"/><circle cx="467.5" cy="401.3" r="2.20"/><circle cx="469.1" cy="395.8" r="2.20"/><circle cx="470.7" cy="397.2" r="2.20"/><circle cx="472.3" cy="391.1" r="2.20"/><circle cx="473.9" cy="390.0" r="2.20"/><circle cx="475.5" cy="391.9" r="2.20"/><circle cx="477.1" cy="387.9" r="2.20"/><circle cx="478.7" cy="388.3" r="2.20"/><circle cx="480.3" cy="395.1" r="2.20"/><circle cx="481.8" cy="401.8" r="2.20"/><circle cx="483.4" cy="404.6" r="2.20"/><circle cx="485.0" cy="399.2" r="2.20"/><circle cx="486.6" cy="404.5" r="2.20"/><circle cx="488.2" cy="409.8" r="2.20"/><circle cx="489.8" cy="403.3" r="2.20"/><circle cx="491.4" cy="415.0" r="2.20"/><circle cx="493.0" cy="422.3" r="2.20"/><circle cx="494.6" cy="417.8" r="2.20"/><circle cx="496.2" cy="422.7" r="2.20"/><circle cx="497.8" cy="417.4" r="2.20"/><circle cx="499.4" cy="421.8" r="2.20"/><circle cx="501.0" cy="421.7" r="2.20"/><circle cx="502.6" cy="425.6" r="2.20"/><circle cx="504.1" cy="428.2" r="2.20"/><circle cx="505.7" cy="427.6" r="2.20"/><circle cx="507.3" cy="425.3" r="2.20"/><circle cx="508.9" cy="429.9" r="2.20"/><circle cx="510.5" cy="428.3" r="2.20"/><circle cx="512.1" cy="426.0" r="2.20"/><circle cx="513.7" cy="389.0" r="2.20"/>
</g>
<g fill="#0000ff">
<circle cx="37.5" cy="449.8" r="2.20"/><circle cx="39.1" cy="447.9" r="2.20"/><circle cx="40.7" cy="457.4" r="2.20"/><circle cx="42.3" cy="447.7" r="2.20"/><circle cx="43.9" cy="455.5" r="2.20"/><circle cx="45.5" cy="450.5" r="2.20"/><circle cx="47.0" cy="458.3" r="2.20"/><circle cx="48.6" cy="456.5" r="2.20"/><circle cx="50.2" cy="460.2" r="2.20"/><circle cx="51.8" cy="450.3" r="2.20"/><circle cx="53.4" cy="459.5" r="2.20"/><circle cx="55.0" cy="450.8" r="2.20"/><circle cx="56.6" cy="460.6" r="2.20"/><circle cx="58.2" cy="459.2" r="2.20"/><circle cx="59.8" cy="453.4" r="2.20"/><circle cx="61.4" cy="450.2" r="2.20"/><circle cx="63.0" cy="453.8" r="2.20"/><circle cx="64.6" cy="450.9" r="2.20"/><circle cx="66.2" cy="455.3" r="2.20"/><circle cx="67.8" cy="453.1" r="2.20"/><circle cx="69.3" cy="445.5" r="2.20"/><circle cx="70.9" cy="448.4" r="2.20"/><circle cx="72.5" cy="440.1" r="2.20"/><circle cx="74.1" cy="446.9" r="2.20"/><circle cx="75.7" cy="443.8" r="2.20"/><circle cx="77.3" cy="439.4" r="2.20"/><circle cx="78.9" cy="441.0" r="2.20"/><circle cx="80.5" cy="449.2" r="2.20"/><circle cx="82.1" cy="434.3" r="2.20"/><circle cx="83.7" cy="434.8" r="2.20"/><circle cx="85.3" cy="436.4" r="2.20"/><circle cx="86.9" cy="433.0" r="2.20"/><circle cx="88.5" cy="436.2" r="2.20"/><circle cx="90.1" cy="435.6" r="2.20"/><circle cx="91.6" cy="446.5" r="2.20"/><circle cx="93.2" cy="448.9" r="2.20"/><circle cx="94.8" cy="451.7" r="2.20"/><circle cx="96.4" cy="452.1" r="2.20"/><circle cx="98.0" cy="453.5" r="2.20"/><circle cx="99.6" cy="454.3" r="2.20"/><circle cx="101.2" cy="450.0" r="2.20"/><circle cx="102.8" cy="457.1" r="2.20"/><circle cx="104.4" cy="454.7" r="2.20"/><circle cx="106.0" cy="452.4" r="2.20"/><circle cx="107.6" cy="451.3" r="2.20"/><circle cx="109.2" cy="448.1" r="2.20"/><circle cx="110.8" cy="452.3" r="2.20"/><circle cx="112.3" cy="451.2" r="2.20"/><circle cx="113.9" cy="453.9" r="2.20"/><circle cx="115.5" cy="454.4" r="2.20"/><circle cx="117.1" cy="456.5" r="2.20"/><circle cx="118.7" cy="449.9" r="2.20"/><circle cx="120.3" cy="442.7" r="2.20"/><circle cx="121.9" cy="450.6" r="2.20"/><circle cx="123.5" cy="450.5" r="2.20"/><circle cx="125.1" cy="449.6" r="2.20"/><circle cx="126.7" cy="442.3" r="2.20"/><circle cx="128.3" cy="443.7" r="2.20"/><circle cx="129.9" cy="445.9" r="2.20"/><circle cx="131.5" cy="445.4" r="2.20"/><circle cx="133.1" cy="439.7" r="2.20"/><circle cx="134.6" cy="438.5" r="2.20"/><circle cx="136.2" cy="443.1" r="2.20"/><circle cx="137.8" cy="445.2" r="2.20"/><circle cx="139.4" cy="437.8" r="2.20"/><circle cx="141.0" cy="444.0" r="2.20"/><circle cx="142.0" cy="425.0" r="2.20"/><circle cx="144.2" cy="449.0" r="2.20"/><circle cx="145.8" cy="446.9" r="2.20"/><circle cx="147.4" cy="444.0" r="2.20"/><circle cx="149.0" cy="453.1" r="2.20"/><circle cx="150.6" cy="445.6" r="2.20"/><circle cx="152.2" cy="443.6" r="2.20"/><circle cx="153.8" cy="446.2" r="2.20"/><circle cx="155.3" cy="442.4" r="2.20"/><circle cx="156.9" cy="447.4" r="2.20"/><circle cx="158.5" cy="450.5" r="2.20"/><circle cx="160.1" cy="445.4" r="2.20"/><circle cx="161.7" cy="451.4" r="2.20"/><circle cx="163.3" cy="445.9" r="2.20"/><circle cx="164.9" cy="451.6" r="2.20"/><circle cx="166.5" cy="446.4" r="2.20"/><circle cx="168.1" cy="450.4" r="2.20"/><circle cx="169.7" cy="447.1" r="2.20"/><circle cx="171.3" cy="456.9" r="2.20"/><circle cx="172.9" cy="451.4" r="2.20"/><circle cx="174.5" cy="444.6" r="2.20"/><circle cx="176.1" cy="458.0" r="2.20"/><circle cx="177.6" cy="451.8" r="2.20"/><circle cx="179.2" cy="448.9" r="2.20"/><circle cx="180.8" cy="455.1" r="2.20"/><circle cx="182.4" cy="454.1" r="2.20"/><circle cx="184.0" cy="449.3" r="2.20"/><circle cx="185.6" cy="451.1" r="2.20"/><circle cx="187.2" cy="451.3" r="2.20"/><circle cx="188.8" cy="449.5" r="2.20"/><circle cx="190.4" cy="453.9" r="2.20"/><circle cx="192.0" cy="445.7" r="2.20"/><circle cx="193.6" cy="453.9" r="2.20"/><circle cx="195.2" cy="439.8" r="2.20"/><circle cx="196.8" cy="446.4" r="2.20"/><circle cx="198.4" cy="446.4" r="2.20"/><circle cx="199.9" cy="448.5" r="2.20"/><circle cx="201.5" cy="456.3" r="2.20"/><circle cx="203.1" cy="449.5" r="2.20"/><circle cx="204.7" cy="453.6" r="2.20"/><circle cx="206.3" cy="442.7" r="2.20"/><circle cx="207.9" cy="451.3" r="2.20"/><circle cx="209.5" cy="451.9" r="2.20"/><circle cx="211.1" cy="449.2" r="2.20"/><circle cx="212.7" cy="446.1" r="2.20"/><circle cx="214.3" cy="450.0" r="2.20"/><circle cx="215.9" cy="445.9" r="2.20"/><circle cx="217.5" cy="446.5" r="2.20"/><circle cx="219.1" cy="446.3" r="2.20"/><circle cx="220.6" cy="457.6" r="2.20"/><circle cx="222.2" cy="457.3" r="2.20"/><circle cx="223.8" cy="447.5" r="2.20"/><circle cx="225.4" cy="453.7" r="2.20"/><circle cx="227.0" cy="446.2" r="2.20"/><circle cx="228.6" cy="447.7" r="2.20"/><circle cx="230.2" cy="446.6" r="2.20"/><circle cx="231.8" cy="457.6" r="2.20"/><circle cx="233.4" cy="450.0" r="2.20"/><circle cx="235.0" cy="455.4" r="2.20"/><circle cx="236.6" cy="446.5" r="2.20"/><circle cx="238.2" cy="451.9" r="2.20"/><circle cx="239.8" cy="448.2" r="2.20"/><circle cx="241.4" cy="458.5" r="2.20"/><circle cx="242.9" cy="455.0" r="2.20"/><circle cx="244.5" cy="455.1" r="2.20"/><circle cx="246.1" cy="455.6" r="2.20"/><circle cx="247.7" cy="455.3" r="2.20"/><circle cx="249.3" cy="457.5" r="2.20"/><circle cx="250.9" cy="452.0" r="2.20"/><circle cx="252.5" cy="447.8" r="2.20"/><circle cx="254.1" cy="445.3" r="2.20"/><circle cx="255.7" cy="453.6" r="2.20"/><circle cx="257.3" cy="454.8" r="2.20"/><circle cx="258.9" cy="453.3" r="2.20"/><circle cx="260.5" cy="448.8" r="2.20"/><circle cx="262.1" cy="453.3" r="2.20"/><circle cx="263.7" cy="447.0" r="2.20"/><circle cx="265.2" cy="452.9" r="2.20"/><circle cx="266.8" cy="453.3" r="2.20"/><circle cx="268.4" cy="455.4" r="2.20"/><circle cx="270.0" cy="448.7" r="2.20"/><circle cx="271.6" cy="456.8" r="2.20"/><circle cx="273.2" cy="455.9" r="2.20"/><circle cx="274.8" cy="450.8" r="2.20"/><circle cx="276.4" cy="421.2" r="2.20"/><circle cx="278.0" cy="427.6" r="2.20"/><circle cx="279.6" cy="429.7" r="2.20"/><circle cx="281.2" cy="422.1" r="2.20"/><circle cx="282.8" cy="421.5" r="2.20"/><circle cx="284.4" cy="434.9" r="2.20"/><circle cx="285.9" cy="419.1" r="2.20"/><circle cx="287.5" cy="412.7" r="2.20"/><circle cx="289.1" cy="388.3" r="2.20"/><circle cx="290.7" cy="414.8" r="2.20"/><circle cx="292.3" cy="417.5" r="2.20"/><circle cx="293.9" cy="408.0" r="2.20"/><circle cx="295.5" cy="417.3" r="2.20"/><circle cx="297.1" cy="418.1" r="2.20"/><circle cx="298.7" cy="423.4" r="2.20"/><circle cx="300.3" cy="425.8" r="2.20"/><circle cx="301.9" cy="429.0" r="2.20"/><circle cx="303.5" cy="426.9" r="2.20"/><circle cx="305.1" cy="410.3" r="2.20"/><circle cx="306.7" cy="415.6" r="2.20"/><circle cx="308.2" cy="416.5" r="2.20"/><circle cx="309.8" cy="414.1" r="2.20"/><circle cx="311.4" cy="431.7" r="2.20"/><circle cx="313.0" cy="402.6" r="2.20"/><circle cx="314.6" cy="408.2" r="2.20"/><circle cx="316.2" cy="414.4" r="2.20"/><circle cx="317.8" cy="405.0" r="2.20"/><circle cx="319.4" cy="406.8" r="2.20"/><circle cx="321.0" cy="405.4" r="2.20"/><circle cx="322.6" cy="406.2" r="2.20"/><circle cx="324.2" cy="413.1" r="2.20"/><circle cx="325.8" cy="394.0" r="2.20"/><circle cx="327.4" cy="401.7" r="2.20"/><circle cx="329.0" cy="403.3" r="2.20"/><circle cx="330.5" cy="389.6" r="2.20"/><circle cx="332.1" cy="391.4" r="2.20"/><circle cx="333.7" cy="408.8" r="2.20"/><circle cx="335.3" cy="406.3" r="2.20"/><circle cx="336.9" cy="393.2" r="2.20"/><circle cx="338.5" cy="401.7" r="2.20"/><circle cx="340.1" cy="396.8" r="2.20"/><circle cx="341.7" cy="382.5" r="2.20"/><circle cx="343.3" cy="401.3" r="2.20"/><circle cx="344.9" cy="405.2" r="2.20"/><circle cx="346.5" cy="405.2" r="2.20"/><circle cx="348.1" cy="400.8" r="2.20"/><circle cx="349.7" cy="399.6" r="2.20"/><circle cx="351.2" cy="390.1" r="2.20"/><circle cx="352.8" cy="398.6" r="2.20"/><circle cx="354.4" cy="377.7" r="2.20"/><circle cx="356.0" cy="394.5" r="2.20"/><circle cx="357.6" cy="412.6" r="2.20"/><circle cx="359.2" cy="389.0" r="2.20"/><circle cx="360.8" cy="378.1" r="2.20"/><circle cx="362.4" cy="372.7" r="2.20"/><circle cx="364.0" cy="394.7" r="2.20"/><circle cx="365.6" cy="386.4" r="2.20"/><circle cx="367.2" cy="365.7" r="2.20"/><circle cx="368.8" cy="377.1" r="2.20"/><circle cx="370.4" cy="375.3" r="2.20"/><circle cx="372.0" cy="350.3" r="2.20"/><circle cx="373.5" cy="369.9" r="2.20"/><circle cx="375.1" cy="368.2" r="2.20"/><circle cx="376.7" cy="384.1" r="2.20"/><circle cx="378.3" cy="371.1" r="2.20"/><circle cx="379.9" cy="395.2" r="2.20"/><circle cx="381.5" cy="412.5" r="2.20"/><circle cx="383.1" cy="389.1" r="2.20"/><circle cx="384.7" cy="395.7" r="2.20"/><circle cx="386.3" cy="396.4" r="2.20"/><circle cx="387.9" cy="390.7" r="2.20"/><circle cx="389.5" cy="406.8" r="2.20"/><circle cx="391.1" cy="386.8" r="2.20"/><circle cx="392.7" cy="395.5" r="2.20"/><circle cx="394.2" cy="375.3" r="2.20"/><circle cx="395.8" cy="381.3" r="2.20"/><circle cx="397.4" cy="381.4" r="2.20"/><circle cx="399.0" cy="374.3" r="2.20"/><circle cx="400.6" cy="374.0" r="2.20"/><circle cx="402.2" cy="366.7" r="2.20"/><circle cx="403.8" cy="375.5" r="2.20"/><circle cx="405.4" cy="370.8" r="2.20"/><circle cx="407.0" cy="379.1" r="2.20"/><circle cx="408.6" cy="377.6" r="2.20"/><circle cx="410.2" cy="373.8" r="2.20"/><circle cx="411.8" cy="358.9" r="2.20"/><circle cx="413.4" cy="353.2" r="2.20"/><circle cx="415.0" cy="343.0" r="2.20"/><circle cx="416.5" cy="347.3" r="2.20"/><circle cx="418.1" cy="327.9" r="2.20"/><circle cx="419.7" cy="317.1" r="2.20"/><circle cx="421.3" cy="315.1" r="2.20"/><circle cx="422.9" cy="331.8" r="2.20"/><circle cx="424.5" cy="285.7" r="2.20"/><circle cx="426.1" cy="320.3" r="2.20"/><circle cx="427.7" cy="335.0" r="2.20"/><circle cx="429.3" cy="375.1" r="2.20"/><circle cx="430.9" cy="351.8" r="2.20"/><circle cx="432.5" cy="342.6" r="2.20"/><circle cx="434.1" cy="350.0" r="2.20"/><circle cx="435.7" cy="343.3" r="2.20"/><circle cx="437.1" cy="311.5" r="2.20"/><circle cx="438.8" cy="363.7" r="2.20"/><circle cx="440.4" cy="347.5" r="2.20"/><circle cx="442.0" cy="346.9" r="2.20"/><circle cx="443.6" cy="361.9" r="2.20"/><circle cx="445.2" cy="361.7" r="2.20"/><circle cx="446.8" cy="381.5" r="2.20"/><circle cx="448.4" cy="383.8" r="2.20"/><circle cx="450.0" cy="389.1" r="2.20"/><circle cx="451.6" cy="386.5" r="2.20"/><circle cx="453.2" cy="394.9" r="2.20"/><circle cx="454.8" cy="391.9" r="2.20"/><circle cx="456.4" cy="393.9" r="2.20"/><circle cx="458.0" cy="396.7" r="2.20"/><circle cx="459.5" cy="404.2" r="2.20"/><circle cx="461.1" cy="393.1" r="2.20"/><circle cx="462.7" cy="396.1" r="2.20"/><circle cx="464.3" cy="400.4" r="2.20"/><circle cx="465.9" cy="392.1" r="2.20"/><circle cx="467.5" cy="391.8" r="2.20"/><circle cx="469.1" cy="382.4" r="2.20"/><circle cx="470.7" cy="385.4" r="2.20"/><circle cx="472.3" cy="378.6" r="2.20"/><circle cx="473.9" cy="376.5" r="2.20"/><circle cx="475.5" cy="386.7" r="2.20"/><circle cx="477.1" cy="373.1" r="2.20"/><circle cx="478.7" cy="380.3" r="2.20"/><circle cx="480.3" cy="390.2" r="2.20"/><circle cx="481.8" cy="390.2" r="2.20"/><circle cx="483.4" cy="387.7" r="2.20"/><circle cx="485.0" cy="392.4" r="2.20"/><circle cx="486.6" cy="393.2" r="2.20"/><circle cx="488.2" cy="390.4" r="2.20"/><circle cx="489.8" cy="389.0" r="2.20"/><circle cx="491.4" cy="394.1" r="2.20"/><circle cx="493.0" cy="406.4" r="2.20"/><circle cx="494.6" cy="412.0" r="2.20"/><circle cx="496.2" cy="416.5" r="2.20"/><circle cx="497.8" cy="409.9" r="2.20"/><circle cx="499.4" cy="413.4" r="2.20"/><circle cx="501.0" cy="411.4" r="2.20"/><circle cx="502.6" cy="408.9" r="2.20"/><circle cx="504.1" cy="417.5" r="2.20"/><circle cx="505.7" cy="410.1" r="2.20"/><circle cx="507.3" cy="417.3" r="2.20"/><circle cx="508.9" cy="417.7" r="2.20"/><circle cx="510.5" cy="420.7" r="2.20"/><circle cx="512.1" cy="412.4" r="2.20"/><circle cx="513.7" cy="376.5" r="2.20"/>
</g>
<g fill="#00ffff">
<circle cx="37.5" cy="439.1" r="2.20"/><circle cx="39.1" cy="440.6" r="2.20"/><circle cx="40.7" cy="441.8" r="2.20"/><circle cx="42.3" cy="444.9" r="2.20"/><circle cx="43.9" cy="446.6" r="2.20"/><circle cx="45.5" cy="440.5" r="2.20"/><circle cx="47.0" cy="437.8" r="2.20"/><circle cx="48.6" cy="459.4" r="2.20"/><circle cx="50.2" cy="445.6" r="2.20"/><circle cx="51.8" cy="448.0" r="2.20"/><circle cx="53.4" cy="449.1" r="2.20"/><circle cx="55.0" cy="450.4" r="2.20"/><circle cx="56.6" cy="453.1" r="2.20"/><circle cx="58.2" cy="453.1" r="2.20"/><circle cx="59.8" cy="446.2" r="2.20"/><circle cx="61.4" cy="450.8" r="2.20"/><circle cx="63.0" cy="447.5" r="2.20"/><circle cx="64.6" cy="452.2" r="2.20"/><circle cx="66.2" cy="444.5" r="2.20"/><circle cx="67.8" cy="443.4" r="2.20"/><circle cx="69.3" cy="450.1" r="2.20"/><circle cx="70.9" cy="443.3" r="2.20"/><circle cx="72.5" cy="443.2" r="2.20"/><circle cx="74.1" cy="446.7" r="2.20"/><circle cx="75.7" cy="443.1" r="2.20"/><circle cx="77.3" cy="439.4" r="2.20"/><circle cx="78.9" cy="433.5" r="2.20"/><circle cx="80.5" cy="440.9" r="2.20"/><circle cx="82.1" cy="432.4" r="2.20"/><circle cx="83.7" cy="434.3" r="2.20"/><circle cx="85.3" cy="432.9" r="2.20"/><circle cx="86.9" cy="429.7" r="2.20"/><circle cx="88.5" cy="440.8" r="2.20"/><circle cx="90.1" cy="435.6" r="2.20"/><circle cx="91.6" cy="438.1" r="2.20"/><circle cx="93.2" cy="449.3" r="2.20"/><circle cx="94.8" cy="448.8" r="2.20"/><circle cx="96.4" cy="436.7" r="2.20"/><circle cx="98.0" cy="451.1" r="2.20"/><circle cx="99.6" cy="446.0" r="2.20"/><circle cx="101.2" cy="446.2" r="2.20"/><circle cx="102.8" cy="448.7" r="2.20"/><circle cx="104.4" cy="443.0" r="2.20"/><circle cx="106.0" cy="444.1" r="2.20"/><circle cx="107.6" cy="449.3" r="2.20"/><circle cx="109.2" cy="436.0" r="2.20"/><circle cx="110.8" cy="448.3" r="2.20"/><circle cx="112.3" cy="447.8" r="2.20"/><circle cx="113.9" cy="443.7" r="2.20"/><circle cx="115.5" cy="442.5" r="2.20"/><circle cx="117.1" cy="450.9" r="2.20"/><circle cx="118.7" cy="444.4" r="2.20"/><circle cx="120.3" cy="450.6" r="2.20"/><circle cx="121.9" cy="445.5" r="2.20"/><circle cx="123.5" cy="446.6" r="2.20"/><circle cx="125.1" cy="445.9" r="2.20"/><circle cx="126.7" cy="443.3" r="2.20"/><circle cx="128.3" cy="438.0" r="2.20"/><circle cx="129.9" cy="443.8" r="2.20"/><circle cx="131.5" cy="437.9" r="2.20"/><circle cx="133.1" cy="442.1" r="2.20"/><circle cx="134.6" cy="439.2" r="2.20"/><circle cx="136.2" cy="434.7" r="2.20"/><circle cx="137.8" cy="439.9" r="2.20"/><circle cx="139.4" cy="438.2" r="2.20"/><circle cx="141.0" cy="438.7" r="2.20"/><circle cx="142.6" cy="434.6" r="2.20"/><circle cx="144.2" cy="438.6" r="2.20"/><circle cx="145.8" cy="441.8" r="2.20"/><circle cx="147.4" cy="443.8" r="2.20"/><circle cx="149.0" cy="440.9" r="2.20"/><circle cx="150.6" cy="452.4" r="2.20"/><circle cx="152.2" cy="438.8" r="2.20"/><circle cx="153.8" cy="443.6" r="2.20"/><circle cx="155.3" cy="436.1" r="2.20"/><circle cx="156.9" cy="443.1" r="2.20"/><circle cx="158.5" cy="437.0" r="2.20"/><circle cx="160.1" cy="445.3" r="2.20"/><circle cx="161.7" cy="451.7" r="2.20"/><circle cx="163.3" cy="439.6" r="2.20"/><circle cx="164.9" cy="445.9" r="2.20"/><circle cx="166.5" cy="443.8" r="2.20"/><circle cx="168.1" cy="438.9" r="2.20"/><circle cx="169.7" cy="444.0" r="2.20"/><circle cx="171.3" cy="441.7" r="2.20"/><circle cx="172.9" cy="441.8" r="2.20"/><circle cx="174.5" cy="438.5" r="2.20"/><circle cx="176.1" cy="453.9" r="2.20"/><circle cx="177.6" cy="447.4" r="2.20"/><circle cx="179.2" cy="446.4" r="2.20"/><circle cx="180.8" cy="445.0" r="2.20"/><circle cx="182.4" cy="450.8" r="2.20"/><circle cx="184.0" cy="448.8" r="2.20"/><circle cx="185.6" cy="442.2" r="2.20"/><circle cx="187.2" cy="440.5" r="2.20"/><circle cx="188.8" cy="445.4" r="2.20"/><circle cx="190.4" cy="452.7" r="2.20"/><circle cx="192.0" cy="438.6" r="2.20"/><circle cx="193.6" cy="449.6" r="2.20"/><circle cx="195.2" cy="430.9" r="2.20"/><circle cx="196.8" cy="441.8" r="2.20"/><circle cx="198.4" cy="448.4" r="2.20"/><circle cx="199.9" cy="443.7" r="2.20"/><circle cx="201.5" cy="447.3" r="2.20"/><circle cx="203.1" cy="448.4" r="2.20"/><circle cx="204.7" cy="444.7" r="2.20"/><circle cx="206.3" cy="446.4" r="2.20"/><circle cx="207.9" cy="434.6" r="2.20"/><circle cx="209.5" cy="435.1" r="2.20"/><circle cx="211.1" cy="435.9" r="2.20"/><circle cx="212.7" cy="446.4" r="2.20"/><circle cx="214.3" cy="435.4" r="2.20"/><circle cx="215.9" cy="438.7" r="2.20"/><circle cx="217.5" cy="440.5" r="2.20"/><circle cx="219.1" cy="440.7" r="2.20"/><circle cx="220.6" cy="448.5" r="2.20"/><circle cx="222.2" cy="447.5" r="2.20"/><circle cx="223.8" cy="444.6" r="2.20"/><circle cx="225.4" cy="442.7" r="2.20"/><circle cx="227.0" cy="445.1" r="2.20"/><circle cx="228.6" cy="447.7" r="2.20"/><circle cx="230.2" cy="447.4" r="2.20"/><circle cx="231.8" cy="454.2" r="2.20"/><circle cx="233.4" cy="443.8" r="2.20"/><circle cx="235.0" cy="446.2" r="2.20"/><circle cx="236.6" cy="448.4" r="2.20"/><circle cx="238.2" cy="455.8" r="2.20"/><circle cx="239.8" cy="452.6" r="2.20"/><circle cx="241.4" cy="449.6" r="2.20"/><circle cx="242.9" cy="445.7" r="2.20"/><circle cx="244.5" cy="445.0" r="2.20"/><circle cx="246.1" cy="448.4" r="2.20"/><circle cx="247.7" cy="450.3" r="2.20"/><circle cx="249.3" cy="456.2" r="2.20"/><circle cx="250.9" cy="451.7" r="2.20"/><circle cx="252.5" cy="456.7" r="2.20"/><circle cx="254.1" cy="446.2" r="2.20"/><circle cx="255.7" cy="449.7" r="2.20"/><circle cx="257.3" cy="444.3" r="2.20"/><circle cx="258.9" cy="458.2" r="2.20"/><circle cx="260.5" cy="455.8" r="2.20"/><circle cx="262.1" cy="446.7" r="2.20"/><circle cx="263.7" cy="444.6" r="2.20"/><circle cx="265.2" cy="458.0" r="2.20"/><circle cx="266.8" cy="452.2" r="2.20"/><circle cx="268.4" cy="448.7" r="2.20"/><circle cx="270.0" cy="448.3" r="2.20"/><circle cx="271.6" cy="448.1" r="2.20"/><circle cx="273.2" cy="448.0" r="2.20"/><circle cx="274.8" cy="449.9" r="2.20"/><circle cx="276.4" cy="423.1" r="2.20"/><circle cx="278.0" cy="443.8" r="2.20"/><circle cx="279.6" cy="429.9" r="2.20"/><circle cx="281.2" cy="424.0" r="2.20"/><circle cx="282.8" cy="440.6" r="2.20"/><circle cx="284.4" cy="415.1" r="2.20"/><circle cx="285.9" cy="415.2" r="2.20"/><circle cx="287.5" cy="413.1" r="2.20"/><circle cx="289.1" cy="394.0" r="2.20"/><circle cx="290.7" cy="400.9" r="2.20"/><circle cx="292.3" cy="413.6" r="2.20"/><circle cx="293.9" cy="403.8" r="2.20"/><circle cx="295.5" cy="429.4" r="2.20"/><circle cx="297.1" cy="412.8" r="2.20"/><circle cx="298.7" cy="430.1" r="2.20"/><circle cx="300.3" cy="427.0" r="2.20"/><circle cx="301.9" cy="426.0" r="2.20"/><circle cx="303.5" cy="429.4" r="2.20"/><circle cx="305.1" cy="435.8" r="2.20"/><circle cx="306.7" cy="418.6" r="2.20"/><circle cx="308.2" cy="419.2" r="2.20"/><circle cx="309.8" cy="419.7" r="2.20"/><circle cx="311.4" cy="419.6" r="2.20"/><circle cx="313.0" cy="417.2" r="2.20"/><circle cx="314.6" cy="413.9" r="2.20"/><circle cx="316.8" cy="386.1" r="2.20"/><circle cx="317.8" cy="402.3" r="2.20"/><circle cx="319.4" cy="399.3" r="2.20"/><circle cx="321.0" cy="399.9" r="2.20"/><circle cx="322.6" cy="408.2" r="2.20"/><circle cx="324.2" cy="404.4" r="2.20"/><circle cx="325.8" cy="397.7" r="2.20"/><circle cx="327.4" cy="402.4" r="2.20"/><circle cx="329.0" cy="390.8" r="2.20"/><circle cx="330.5" cy="400.6" r="2.20"/><circle cx="332.1" cy="398.7" r="2.20"/><circle cx="333.7" cy="407.5" r="2.20"/><circle cx="335.3" cy="405.5" r="2.20"/><circle cx="336.9" cy="401.6" r="2.20"/><circle cx="338.5" cy="403.5" r="2.20"/><circle cx="340.1" cy="413.7" r="2.20"/><circle cx="341.7" cy="385.8" r="2.20"/><circle cx="343.3" cy="397.8" r="2.20"/><circle cx="344.9" cy="392.7" r="2.20"/><circle cx="346.5" cy="407.8" r="2.20"/><circle cx="348.1" cy="395.1" r="2.20"/><circle cx="349.7" cy="409.3" r="2.20"/><circle cx="351.2" cy="389.3" r="2.20"/><circle cx="352.8" cy="398.3" r="2.20"/><circle cx="354.4" cy="393.2" r="2.20"/><circle cx="356.0" cy="415.3" r="2.20"/><circle cx="357.6" cy="415.4" r="2.20"/><circle cx="359.2" cy="393.7" r="2.20"/><circle cx="360.8" cy="388.7" r="2.20"/><circle cx="362.4" cy="385.9" r="2.20"/><circle cx="364.0" cy="395.1" r="2.20"/><circle cx="365.6" cy="381.6" r="2.20"/><circle cx="367.2" cy="385.3" r="2.20"/><circle cx="368.8" cy="382.8" r="2.20"/><circle cx="370.4" cy="375.9" r="2.20"/><circle cx="372.0" cy="359.2" r="2.20"/><circle cx="373.5" cy="366.6" r="2.20"/><circle cx="375.1" cy="375.7" r="2.20"/><circle cx="376.7" cy="381.1" r="2.20"/><circle cx="378.3" cy="380.8" r="2.20"/><circle cx="379.9" cy="391.7" r="2.20"/><circle cx="381.5" cy="396.0" r="2.20"/><circle cx="383.1" cy="390.9" r="2.20"/><circle cx="384.7" cy="406.8" r="2.20"/><circle cx="386.3" cy="402.3" r="2.20"/><circle cx="387.9" cy="395.5" r="2.20"/><circle cx="389.5" cy="407.3" r="2.20"/><circle cx="391.1" cy="389.8" r="2.20"/><circle cx="392.7" cy="399.8" r="2.20"/><circle cx="394.2" cy="406.2" r="2.20"/><circle cx="395.8" cy="398.7" r="2.20"/><circle cx="397.4" cy="388.6" r="2.20"/><circle cx="399.0" cy="383.9" r="2.20"/><circle cx="400.6" cy="359.2" r="2.20"/><circle cx="402.2" cy="367.0" r="2.20"/><circle cx="403.8" cy="370.9" r="2.20"/><circle cx="405.4" cy="371.1" r="2.20"/><circle cx="407.0" cy="393.1" r="2.20"/><circle cx="408.6" cy="375.2" r="2.20"/><circle cx="410.2" cy="381.0" r="2.20"/><circle cx="411.8" cy="348.9" r="2.20"/><circle cx="413.4" cy="351.3" r="2.20"/><circle cx="415.0" cy="356.7" r="2.20"/><circle cx="416.5" cy="330.3" r="2.20"/><circle cx="418.1" cy="333.0" r="2.20"/><circle cx="419.7" cy="327.1" r="2.20"/><circle cx="421.3" cy="340.9" r="2.20"/><circle cx="422.9" cy="335.1" r="2.20"/><circle cx="424.5" cy="284.3" r="2.20"/><circle cx="426.1" cy="342.6" r="2.20"/><circle cx="427.7" cy="321.1" r="2.20"/><circle cx="429.3" cy="363.0" r="2.20"/><circle cx="430.9" cy="343.3" r="2.20"/><circle cx="432.5" cy="358.3" r="2.20"/><circle cx="434.1" cy="372.6" r="2.20"/><circle cx="435.7" cy="337.1" r="2.20"/><circle cx="437.3" cy="337.6" r="2.20"/><circle cx="438.8" cy="331.4" r="2.20"/><circle cx="440.4" cy="342.9" r="2.20"/><circle cx="442.0" cy="356.4" r="2.20"/><circle cx="443.6" cy="365.2" r="2.20"/><circle cx="445.2" cy="355.0" r="2.20"/><circle cx="446.8" cy="379.9" r="2.20"/><circle cx="448.4" cy="373.8" r="2.20"/><circle cx="450.0" cy="384.0" r="2.20"/><circle cx="451.6" cy="387.8" r="2.20"/><circle cx="453.2" cy="388.5" r="2.20"/><circle cx="454.8" cy="391.8" r="2.20"/><circle cx="456.4" cy="401.0" r="2.20"/><circle cx="458.0" cy="386.8" r="2.20"/><circle cx="459.5" cy="403.6" r="2.20"/><circle cx="461.1" cy="403.5" r="2.20"/><circle cx="462.7" cy="395.2" r="2.20"/><circle cx="464.3" cy="398.5" r="2.20"/><circle cx="465.9" cy="388.1" r="2.20"/><circle cx="467.5" cy="392.6" r="2.20"/><circle cx="469.1" cy="381.4" r="2.20"/><circle cx="470.7" cy="384.1" r="2.20"/><circle cx="472.3" cy="383.8" r="2.20"/><circle cx="473.9" cy="382.0" r="2.20"/><circle cx="475.5" cy="376.6" r="2.20"/><circle cx="477.1" cy="381.4" r="2.20"/><circle cx="478.7" cy="385.2" r="2.20"/><circle cx="480.3" cy="388.1" r="2.20"/><circle cx="481.8" cy="391.0" r="2.20"/><circle cx="483.4" cy="388.7" r="2.20"/><circle cx="485.0" cy="389.3" r="2.20"/><circle cx="486.6" cy="389.1" r="2.20"/><circle cx="488.2" cy="398.2" r="2.20"/><circle cx="489.8" cy="389.8" r="2.20"/><circle cx="491.4" cy="395.4" r="2.20"/><circle cx="493.0" cy="410.5" r="2.20"/><circle cx="494.6" cy="409.0" r="2.20"/><circle cx="496.2" cy="414.9" r="2.20"/><circle cx="497.8" cy="409.1" r="2.20"/><circle cx="499.4" cy="412.4" r="2.20"/><circle cx="501.0" cy="417.0" r="2.20"/><circle cx="502.6" cy="419.5" r="2.20"/><circle cx="504.1" cy="417.1" r="2.20"/><circle cx="505.7" cy="416.9" r="2.20"/><circle cx="507.3" cy="412.5" r="2.20"/><circle cx="508.9" cy="415.3" r="2.20"/><circle cx="510.5" cy="419.1" r="2.20"/><circle cx="512.1" cy="418.6" r="2.20"/><circle cx="513.7" cy="382.5" r="2.20"/>
</g>
<g fill="#ff00ff">
<circle cx="37.5" cy="451.8" r="2.20"/><circle cx="39.1" cy="454.4" r="2.20"/><circle cx="40.7" cy="451.8" r="2.20"/><circle cx="42.3" cy="457.2" r="2.20"/><circle cx="43.9" cy="456.3" r="2.20"/><circle cx="45.5" cy="456.4" r="2.20"/><circle cx="47.0" cy="456.3" r="2.20"/><circle cx="48.6" cy="456.8" r="2.20"/><circle cx="50.2" cy="458.1" r="2.20"/><circle cx="51.8" cy="464.0" r="2.20"/><circle cx="53.4" cy="454.9" r="2.20"/><circle cx="55.0" cy="455.1" r="2.20"/><circle cx="56.6" cy="458.2" r="2.20"/><circle cx="58.2" cy="457.0" r="2.20"/><circle cx="59.8" cy="453.7" r="2.20"/><circle cx="61.4" cy="454.5" r="2.20"/><circle cx="63.0" cy="460.4" r="2.20"/><circle cx="64.6" cy="456.6" r="2.20"/><circle cx="66.2" cy="458.7" r="2.20"/><circle cx="67.8" cy="455.7" r="2.20"/><circle cx="69.3" cy="453.4" r="2.20"/><circle cx="70.9" cy="448.7" r="2.20"/><circle cx="72.5" cy="448.1" r="2.20"/><circle cx="74.1" cy="446.9" r="2.20"/><circle cx="75.7" cy="447.8" r="2.20"/><circle cx="77.3" cy="444.6" r="2.20"/><circle cx="78.9" cy="440.1" r="2.20"/><circle cx="80.5" cy="446.2" r="2.20"/><circle cx="82.1" cy="437.8" r="2.20"/><circle cx="83.7" cy="440.2" r="2.20"/><circle cx="85.3" cy="433.6" r="2.20"/><circle cx="86.9" cy="441.4" r="2.20"/><circle cx="88.5" cy="437.0" r="2.20"/><circle cx="90.1" cy="435.7" r="2.20"/><circle cx="91.6" cy="453.2" r="2.20"/><circle cx="93.2" cy="455.0" r="2.20"/><circle cx="94.8" cy="455.8" r="2.20"/><circle cx="96.4" cy="450.9" r="2.20"/><circle cx="98.0" cy="456.4" r="2.20"/><circle cx="99.6" cy="451.7" r="2.20"/><circle cx="101.2" cy="455.2" r="2.20"/><circle cx="102.8" cy="457.0" r="2.20"/><circle cx="104.4" cy="455.9" r="2.20"/><circle cx="106.0" cy="454.3" r="2.20"/><circle cx="107.6" cy="451.6" r="2.20"/><circle cx="109.2" cy="453.2" r="2.20"/><circle cx="110.8" cy="456.0" r="2.20"/><circle cx="112.3" cy="457.0" r="2.20"/><circle cx="113.9" cy="449.7" r="2.20"/><circle cx="115.5" cy="446.1" r="2.20"/><circle cx="117.1" cy="455.5" r="2.20"/><circle cx="118.7" cy="451.3" r="2.20"/><circle cx="120.3" cy="450.4" r="2.20"/><circle cx="121.9" cy="448.6" r="2.20"/><circle cx="123.5" cy="454.6" r="2.20"/><circle cx="125.1" cy="449.0" r="2.20"/><circle cx="126.7" cy="454.1" r="2.20"/><circle cx="128.3" cy="448.8" r="2.20"/><circle cx="129.9" cy="447.3" r="2.20"/><circle cx="131.5" cy="446.1" r="2.20"/><circle cx="133.1" cy="443.6" r="2.20"/><circle cx="134.6" cy="443.6" r="2.20"/><circle cx="136.2" cy="445.3" r="2.20"/><circle cx="137.8" cy="440.3" r="2.20"/><circle cx="139.4" cy="442.2" r="2.20"/><circle cx="141.0" cy="448.3" r="2.20"/><circle cx="142.6" cy="445.4" r="2.20"/><circle cx="144.2" cy="448.9" r="2.20"/><circle cx="145.8" cy="449.5" r="2.20"/><circle cx="147.4" cy="442.1" r="2.20"/><circle cx="149.0" cy="451.2" r="2.20"/><circle cx="150.6" cy="444.5" r="2.20"/><circle cx="152.2" cy="443.6" r="2.20"/><circle cx="153.8" cy="440.3" r="2.20"/><circle cx="155.3" cy="445.9" r="2.20"/><circle cx="156.9" cy="449.3" r="2.20"/><circle cx="158.5" cy="448.8" r="2.20"/><circle cx="160.1" cy="408.5" r="2.20"/><circle cx="161.7" cy="445.9" r="2.20"/><circle cx="163.3" cy="441.4" r="2.20"/><circle cx="164.9" cy="457.3" r="2.20"/><circle cx="166.5" cy="451.4" r="2.20"/><circle cx="168.1" cy="447.5" r="2.20"/><circle cx="169.7" cy="450.2" r="2.20"/><circle cx="171.3" cy="453.4" r="2.20"/><circle cx="172.9" cy="452.3" r="2.20"/><circle cx="174.5" cy="450.0" r="2.20"/><circle cx="176.1" cy="453.4" r="2.20"/><circle cx="177.6" cy="455.4" r="2.20"/><circle cx="179.2" cy="445.7" r="2.20"/><circle cx="180.8" cy="457.5" r="2.20"/><circle cx="182.4" cy="456.0" r="2.20"/><circle cx="184.0" cy="457.7" r="2.20"/><circle cx="185.6" cy="452.3" r="2.20"/><circle cx="187.2" cy="455.7" r="2.20"/><circle cx="188.8" cy="453.9" r="2.20"/><circle cx="190.4" cy="454.8" r="2.20"/><circle cx="192.0" cy="444.3" r="2.20"/><circle cx="193.6" cy="455.3" r="2.20"/><circle cx="195.2" cy="456.0" r="2.20"/><circle cx="196.8" cy="450.4" r="2.20"/><circle cx="198.4" cy="452.9" r="2.20"/><circle cx="199.9" cy="451.5" r="2.20"/><circle cx="201.5" cy="455.1" r="2.20"/><circle cx="203.1" cy="445.9" r="2.20"/><circle cx="204.7" cy="449.5" r="2.20"/><circle cx="206.3" cy="445.6" r="2.20"/><circle cx="207.9" cy="446.6" r="2.20"/><circle cx="209.5" cy="446.5" r="2.20"/><circle cx="211.1" cy="447.1" r="2.20"/><circle cx="212.7" cy="440.1" r="2.20"/><circle cx="214.3" cy="450.3" r="2.20"/><circle cx="215.9" cy="441.2" r="2.20"/><circle cx="217.5" cy="444.3" r="2.20"/><circle cx="219.1" cy="440.4" r="2.20"/><circle cx="220.6" cy="447.9" r="2.20"/><circle cx="222.2" cy="453.4" r="2.20"/><circle cx="223.8" cy="449.2" r="2.20"/><circle cx="225.4" cy="456.2" r="2.20"/><circle cx="227.0" cy="447.0" r="2.20"/><circle cx="228.6" cy="450.5" r="2.20"/><circle cx="230.2" cy="450.0" r="2.20"/><circle cx="231.8" cy="456.8" r="2.20"/><circle cx="233.4" cy="451.1" r="2.20"/><circle cx="235.0" cy="456.1" r="2.20"/><circle cx="236.6" cy="447.0" r="2.20"/><circle cx="238.2" cy="453.5" r="2.20"/><circle cx="239.8" cy="443.7" r="2.20"/><circle cx="241.4" cy="454.3" r="2.20"/><circle cx="242.9" cy="445.4" r="2.20"/><circle cx="244.5" cy="455.3" r="2.20"/><circle cx="246.1" cy="449.1" r="2.20"/><circle cx="247.7" cy="450.2" r="2.20"/><circle cx="249.3" cy="453.4" r="2.20"/><circle cx="250.9" cy="448.0" r="2.20"/><circle cx="252.5" cy="450.3" r="2.20"/><circle cx="254.1" cy="451.8" r="2.20"/><circle cx="255.7" cy="454.6" r="2.20"/><circle cx="257.3" cy="454.4" r="2.20"/><circle cx="258.9" cy="453.8" r="2.20"/><circle cx="260.5" cy="452.5" r="2.20"/><circle cx="262.1" cy="448.5" r="2.20"/><circle cx="263.7" cy="448.5" r="2.20"/><circle cx="265.2" cy="454.2" r="2.20"/><circle cx="266.8" cy="449.5" r="2.20"/><circle cx="268.4" cy="452.4" r="2.20"/><circle cx="270.0" cy="451.7" r="2.20"/><circle cx="271.6" cy="455.2" r="2.20"/><circle cx="273.2" cy="445.5" r="2.20"/><circle cx="274.8" cy="450.2" r="2.20"/><circle cx="276.4" cy="439.8" r="2.20"/><circle cx="278.0" cy="448.2" r="2.20"/><circle cx="279.6" cy="443.7" r="2.20"/><circle cx="281.2" cy="441.6" r="2.20"/><circle cx="282.8" cy="443.3" r="2.20"/><circle cx="284.4" cy="445.5" r="2.20"/><circle cx="285.9" cy="438.1" r="2.20"/><circle cx="287.5" cy="443.7" r="2.20"/><circle cx="289.1" cy="416.7" r="2.20"/><circle cx="290.7" cy="424.5" r="2.20"/><circle cx="292.3" cy="429.9" r="2.20"/><circle cx="293.9" cy="439.6" r="2.20"/><circle cx="295.5" cy="442.8" r="2.20"/><circle cx="297.1" cy="428.8" r="2.20"/><circle cx="298.7" cy="443.9" r="2.20"/><circle cx="300.3" cy="449.5" r="2.20"/><circle cx="301.9" cy="443.7" r="2.20"/><circle cx="303.5" cy="449.6" r="2.20"/><circle cx="305.1" cy="454.9" r="2.20"/><circle cx="306.7" cy="433.5" r="2.20"/><circle cx="308.2" cy="442.2" r="2.20"/><circle cx="309.8" cy="442.1" r="2.20"/><circle cx="311.4" cy="443.8" r="2.20"/><circle cx="313.0" cy="436.0" r="2.20"/><circle cx="314.6" cy="435.3" r="2.20"/><circle cx="316.2" cy="437.9" r="2.20"/><circle cx="317.8" cy="430.0" r="2.20"/><circle cx="319.4" cy="423.1" r="2.20"/><circle cx="321.0" cy="430.7" r="2.20"/><circle cx="322.6" cy="433.1" r="2.20"/><circle cx="324.2" cy="433.7" r="2.20"/><circle cx="325.8" cy="428.0" r="2.20"/><circle cx="327.4" cy="422.3" r="2.20"/><circle cx="329.0" cy="428.4" r="2.20"/><circle cx="330.5" cy="418.6" r="2.20"/><circle cx="332.1" cy="419.3" r="2.20"/><circle cx="333.7" cy="422.7" r="2.20"/><circle cx="335.3" cy="429.3" r="2.20"/><circle cx="336.9" cy="428.8" r="2.20"/><circle cx="338.5" cy="423.5" r="2.20"/><circle cx="340.1" cy="424.0" r="2.20"/><circle cx="341.7" cy="429.0" r="2.20"/><circle cx="343.3" cy="411.3" r="2.20"/><circle cx="344.9" cy="418.3" r="2.20"/><circle cx="346.5" cy="423.0" r="2.20"/><circle cx="348.1" cy="425.3" r="2.20"/><circle cx="349.7" cy="421.8" r="2.20"/><circle cx="351.2" cy="422.0" r="2.20"/><circle cx="352.8" cy="411.3" r="2.20"/><circle cx="354.4" cy="409.1" r="2.20"/><circle cx="356.0" cy="412.3" r="2.20"/><circle cx="357.6" cy="430.4" r="2.20"/><circle cx="359.2" cy="418.0" r="2.20"/><circle cx="360.8" cy="409.8" r="2.20"/><circle cx="362.4" cy="408.3" r="2.20"/><circle cx="364.0" cy="405.7" r="2.20"/><circle cx="365.6" cy="408.5" r="2.20"/><circle cx="367.2" cy="411.9" r="2.20"/><circle cx="368.8" cy="405.0" r="2.20"/><circle cx="370.4" cy="384.1" r="2.20"/><circle cx="372.0" cy="391.4" r="2.20"/><circle cx="373.5" cy="388.9" r="2.20"/><circle cx="375.1" cy="406.1" r="2.20"/><circle cx="376.7" cy="404.9" r="2.20"/><circle cx="378.3" cy="406.3" r="2.20"/><circle cx="379.9" cy="416.0" r="2.20"/><circle cx="381.5" cy="423.6" r="2.20"/><circle cx="383.1" cy="416.1" r="2.20"/><circle cx="384.7" cy="413.6" r="2.20"/><circle cx="386.3" cy="429.5" r="2.20"/><circle cx="387.9" cy="423.6" r="2.20"/><circle cx="389.5" cy="422.3" r="2.20"/><circle cx="391.1" cy="414.9" r="2.20"/><circle cx="392.7" cy="409.4" r="2.20"/><circle cx="394.2" cy="413.0" r="2.20"/><circle cx="395.8" cy="409.0" r="2.20"/><circle cx="397.4" cy="411.7" r="2.20"/><circle cx="399.0" cy="398.4" r="2.20"/><circle cx="400.6" cy="406.9" r="2.20"/><circle cx="402.2" cy="398.5" r="2.20"/><circle cx="403.8" cy="399.7" r="2.20"/><circle cx="405.4" cy="397.2" r="2.20"/><circle cx="407.0" cy="406.8" r="2.20"/><circle cx="408.6" cy="404.9" r="2.20"/><circle cx="410.2" cy="399.9" r="2.20"/><circle cx="411.8" cy="397.3" r="2.20"/><circle cx="413.4" cy="376.1" r="2.20"/><circle cx="415.0" cy="385.7" r="2.20"/><circle cx="416.5" cy="355.6" r="2.20"/><circle cx="418.1" cy="356.0" r="2.20"/><circle cx="419.7" cy="370.1" r="2.20"/><circle cx="421.3" cy="371.6" r="2.20"/><circle cx="422.9" cy="358.0" r="2.20"/><circle cx="424.5" cy="286.8" r="2.20"/><circle cx="426.1" cy="379.5" r="2.20"/><circle cx="427.7" cy="371.5" r="2.20"/><circle cx="429.3" cy="376.6" r="2.20"/><circle cx="430.9" cy="390.9" r="2.20"/><circle cx="432.5" cy="365.9" r="2.20"/><circle cx="434.1" cy="381.5" r="2.20"/><circle cx="435.7" cy="364.3" r="2.20"/><circle cx="437.3" cy="375.7" r="2.20"/><circle cx="438.8" cy="362.8" r="2.20"/><circle cx="440.4" cy="375.8" r="2.20"/><circle cx="442.0" cy="378.2" r="2.20"/><circle cx="443.6" cy="384.4" r="2.20"/><circle cx="445.2" cy="386.1" r="2.20"/><circle cx="446.8" cy="404.9" r="2.20"/><circle cx="448.4" cy="410.3" r="2.20"/><circle cx="450.0" cy="415.7" r="2.20"/><circle cx="451.6" cy="422.7" r="2.20"/><circle cx="453.2" cy="414.6" r="2.20"/><circle cx="454.8" cy="418.8" r="2.20"/><circle cx="456.4" cy="423.6" r="2.20"/><circle cx="458.0" cy="422.2" r="2.20"/><circle cx="459.5" cy="421.1" r="2.20"/><circle cx="461.1" cy="419.4" r="2.20"/><circle cx="462.7" cy="422.3" r="2.20"/><circle cx="464.3" cy="415.8" r="2.20"/><circle cx="465.9" cy="407.5" r="2.20"/><circle cx="467.5" cy="418.8" r="2.20"/><circle cx="469.1" cy="412.1" r="2.20"/><circle cx="470.7" cy="406.3" r="2.20"/><circle cx="472.3" cy="407.2" r="2.20"/><circle cx="473.9" cy="400.7" r="2.20"/><circle cx="475.5" cy="406.1" r="2.20"/><circle cx="477.1" cy="407.3" r="2.20"/><circle cx="478.7" cy="409.0" r="2.20"/><circle cx="480.3" cy="407.0" r="2.20"/><circle cx="481.8" cy="422.7" r="2.20"/><circle cx="483.4" cy="416.3" r="2.20"/><circle cx="485.0" cy="421.6" r="2.20"/><circle cx="486.6" cy="412.9" r="2.20"/><circle cx="488.2" cy="419.0" r="2.20"/><circle cx="489.8" cy="417.3" r="2.20"/><circle cx="491.4" cy="418.8" r="2.20"/><circle cx="493.0" cy="430.4" r="2.20"/><circle cx="494.6" cy="428.1" r="2.20"/><circle cx="496.2" cy="434.4" r="2.20"/><circle cx="497.8" cy="428.7" r="2.20"/><circle cx="499.4" cy="435.3" r="2.20"/><circle cx="501.0" cy="432.8" r="2.20"/><circle cx="502.6" cy="437.6" r="2.20"/><circle cx="504.1" cy="432.4" r="2.20"/><circle cx="505.7" cy="435.6" r="2.20"/><circle cx="507.3" cy="437.0" r="2.20"/><circle cx="508.9" cy="436.6" r="2.20"/><circle cx="510.5" cy="437.5" r="2.20"/><circle cx="512.1" cy="437.1" r="2.20"/><circle cx="513.7" cy="393.8" r="2.20"/>
</g>
<g fill="#ffff00">
<circle cx="37.5" cy="457.1" r="2.20"/><circle cx="39.1" cy="464.4" r="2.20"/><circle cx="40.7" cy="465.4" r="2.20"/><circle cx="42.3" cy="457.3" r="2.20"/><circle cx="43.9" cy="464.2" r="2.20"/><circle cx="45.5" cy="463.0" r="2.20"/><circle cx="47.0" cy="464.2" r="2.20"/><circle cx="48.6" cy="468.3" r="2.20"/><circle cx="50.2" cy="465.5" r="2.20"/><circle cx="51.8" cy="469.0" r="2.20"/><circle cx="53.4" cy="464.3" r="2.20"/><circle cx="55.0" cy="467.0" r="2.20"/><circle cx="56.6" cy="461.5" r="2.20"/><circle cx="58.2" cy="463.5" r="2.20"/><circle cx="59.8" cy="461.7" r="2.20"/><circle cx="61.4" cy="467.6" r="2.20"/><circle cx="63.0" cy="462.7" r="2.20"/><circle cx="64.6" cy="464.3" r="2.20"/><circle cx="66.2" cy="468.0" r="2.20"/><circle cx="67.8" cy="464.7" r="2.20"/><circle cx="69.3" cy="456.9" r="2.20"/><circle cx="70.9" cy="455.6" r="2.20"/><circle cx="72.5" cy="450.2" r="2.20"/><circle cx="74.1" cy="449.0" r="2.20"/><circle cx="75.7" cy="449.3" r="2.20"/><circle cx="77.3" cy="448.5" r="2.20"/><circle cx="78.9" cy="444.7" r="2.20"/><circle cx="80.5" cy="449.1" r="2.20"/><circle cx="82.1" cy="443.7" r="2.20"/><circle cx="83.7" cy="446.6" r="2.20"/><circle cx="85.3" cy="440.2" r="2.20"/><circle cx="86.9" cy="436.8" r="2.20"/><circle cx="88.5" cy="440.9" r="2.20"/><circle cx="90.1" cy="441.0" r="2.20"/><circle cx="91.6" cy="462.0" r="2.20"/><circle cx="93.2" cy="459.9" r="2.20"/><circle cx="94.8" cy="458.7" r="2.20"/><circle cx="96.4" cy="459.9" r="2.20"/><circle cx="98.0" cy="464.7" r="2.20"/><circle cx="99.6" cy="461.7" r="2.20"/><circle cx="101.2" cy="464.2" r="2.20"/><circle cx="102.8" cy="460.9" r="2.20"/><circle cx="104.4" cy="460.9" r="2.20"/><circle cx="106.0" cy="464.1" r="2.20"/><circle cx="107.6" cy="461.2" r="2.20"/><circle cx="109.2" cy="455.0" r="2.20"/><circle cx="110.8" cy="458.2" r="2.20"/><circle cx="112.3" cy="459.8" r="2.20"/><circle cx="113.9" cy="459.4" r="2.20"/><circle cx="115.5" cy="460.5" r="2.20"/><circle cx="117.1" cy="463.9" r="2.20"/><circle cx="118.7" cy="458.8" r="2.20"/><circle cx="120.3" cy="459.8" r="2.20"/><circle cx="121.9" cy="458.2" r="2.20"/><circle cx="123.5" cy="454.9" r="2.20"/><circle cx="125.1" cy="462.3" r="2.20"/><circle cx="126.7" cy="457.7" r="2.20"/><circle cx="128.3" cy="456.8" r="2.20"/><circle cx="129.9" cy="456.6" r="2.20"/><circle cx="131.5" cy="452.3" r="2.20"/><circle cx="133.1" cy="453.7" r="2.20"/><circle cx="134.6" cy="456.1" r="2.20"/><circle cx="136.2" cy="454.8" r="2.20"/><circle cx="137.8" cy="452.0" r="2.20"/><circle cx="139.4" cy="453.2" r="2.20"/><circle cx="141.0" cy="456.2" r="2.20"/><circle cx="142.6" cy="451.6" r="2.20"/><circle cx="144.2" cy="458.1" r="2.20"/><circle cx="145.8" cy="459.8" r="2.20"/><circle cx="147.4" cy="454.8" r="2.20"/><circle cx="149.0" cy="452.2" r="2.20"/><circle cx="150.6" cy="457.2" r="2.20"/><circle cx="152.2" cy="456.0" r="2.20"/><circle cx="153.8" cy="458.2" r="2.20"/><circle cx="155.3" cy="455.4" r="2.20"/><circle cx="156.9" cy="460.7" r="2.20"/><circle cx="158.5" cy="457.0" r="2.20"/><circle cx="160.1" cy="459.5" r="2.20"/><circle cx="161.7" cy="460.7" r="2.20"/><circle cx="163.3" cy="452.7" r="2.20"/><circle cx="164.9" cy="462.4" r="2.20"/><circle cx="166.5" cy="456.5" r="2.20"/><circle cx="168.1" cy="459.2" r="2.20"/><circle cx="169.7" cy="457.6" r="2.20"/><circle cx="171.3" cy="459.6" r="2.20"/><circle cx="172.9" cy="461.1" r="2.20"/><circle cx="174.5" cy="457.3" r="2.20"/><circle cx="176.1" cy="461.4" r="2.20"/><circle cx="177.6" cy="458.7" r="2.20"/><circle cx="179.2" cy="456.3" r="2.20"/><circle cx="180.8" cy="456.6" r="2.20"/><circle cx="182.4" cy="465.4" r="2.20"/><circle cx="184.0" cy="463.3" r="2.20"/><circle cx="185.6" cy="458.3" r="2.20"/><circle cx="187.2" cy="461.1" r="2.20"/><circle cx="188.8" cy="463.2" r="2.20"/><circle cx="190.4" cy="463.0" r="2.20"/><circle cx="192.0" cy="456.2" r="2.20"/><circle cx="193.6" cy="464.0" r="2.20"/><circle cx="195.2" cy="464.6" r="2.20"/><circle cx="196.8" cy="464.6" r="2.20"/><circle cx="198.4" cy="458.3" r="2.20"/><circle cx="199.9" cy="464.8" r="2.20"/><circle cx="201.5" cy="461.8" r="2.20"/><circle cx="203.1" cy="455.6" r="2.20"/><circle cx="204.7" cy="461.2" r="2.20"/><circle cx="206.3" cy="458.5" r="2.20"/><circle cx="207.9" cy="456.6" r="2.20"/><circle cx="209.5" cy="456.0" r="2.20"/><circle cx="211.1" cy="452.1" r="2.20"/><circle cx="212.7" cy="459.9" r="2.20"/><circle cx="214.3" cy="458.1" r="2.20"/><circle cx="215.9" cy="451.1" r="2.20"/><circle cx="217.5" cy="452.0" r="2.20"/><circle cx="219.1" cy="456.9" r="2.20"/><circle cx="220.6" cy="458.0" r="2.20"/><circle cx="222.2" cy="461.5" r="2.20"/><circle cx="223.8" cy="461.6" r="2.20"/><circle cx="225.4" cy="467.1" r="2.20"/><circle cx="227.0" cy="466.1" r="2.20"/><circle cx="228.6" cy="462.3" r="2.20"/><circle cx="230.2" cy="460.7" r="2.20"/><circle cx="231.8" cy="468.1" r="2.20"/><circle cx="233.4" cy="468.0" r="2.20"/><circle cx="235.0" cy="460.6" r="2.20"/><circle cx="236.6" cy="464.6" r="2.20"/><circle cx="238.2" cy="457.8" r="2.20"/><circle cx="239.8" cy="460.9" r="2.20"/><circle cx="241.4" cy="466.4" r="2.20"/><circle cx="242.9" cy="461.4" r="2.20"/><circle cx="244.5" cy="465.2" r="2.20"/><circle cx="246.1" cy="466.4" r="2.20"/><circle cx="247.7" cy="463.8" r="2.20"/><circle cx="249.3" cy="464.0" r="2.20"/><circle cx="250.9" cy="464.0" r="2.20"/><circle cx="252.5" cy="457.5" r="2.20"/><circle cx="254.1" cy="463.4" r="2.20"/><circle cx="255.7" cy="464.7" r="2.20"/><circle cx="257.3" cy="462.8" r="2.20"/><circle cx="258.9" cy="465.2" r="2.20"/><circle cx="260.5" cy="467.3" r="2.20"/><circle cx="262.1" cy="462.8" r="2.20"/><circle cx="263.7" cy="458.5" r="2.20"/><circle cx="265.2" cy="464.1" r="2.20"/><circle cx="266.8" cy="464.0" r="2.20"/><circle cx="268.4" cy="468.8" r="2.20"/><circle cx="270.0" cy="463.9" r="2.20"/><circle cx="271.6" cy="464.7" r="2.20"/><circle cx="273.2" cy="462.4" r="2.20"/><circle cx="274.8" cy="460.5" r="2.20"/><circle cx="276.1" cy="358.3" r="2.20"/><circle cx="278.0" cy="457.6" r="2.20"/><circle cx="279.6" cy="455.2" r="2.20"/><circle cx="281.2" cy="448.8" r="2.20"/><circle cx="282.8" cy="448.6" r="2.20"/><circle cx="284.4" cy="444.5" r="2.20"/><circle cx="285.9" cy="434.9" r="2.20"/><circle cx="287.5" cy="440.6" r="2.20"/><circle cx="289.1" cy="416.2" r="2.20"/><circle cx="290.7" cy="433.8" r="2.20"/><circle cx="292.3" cy="438.4" r="2.20"/><circle cx="293.9" cy="433.7" r="2.20"/><circle cx="295.5" cy="447.0" r="2.20"/><circle cx="297.1" cy="443.1" r="2.20"/><circle cx="298.7" cy="449.8" r="2.20"/><circle cx="300.3" cy="450.3" r="2.20"/><circle cx="301.9" cy="445.6" r="2.20"/><circle cx="303.5" cy="446.5" r="2.20"/><circle cx="305.1" cy="454.9" r="2.20"/><circle cx="306.7" cy="439.6" r="2.20"/><circle cx="308.2" cy="431.5" r="2.20"/><circle cx="309.8" cy="440.0" r="2.20"/><circle cx="311.4" cy="440.6" r="2.20"/><circle cx="313.0" cy="452.8" r="2.20"/><circle cx="314.6" cy="440.9" r="2.20"/><circle cx="316.2" cy="440.0" r="2.20"/><circle cx="317.8" cy="432.0" r="2.20"/><circle cx="319.4" cy="438.7" r="2.20"/><circle cx="321.0" cy="426.0" r="2.20"/><circle cx="322.6" cy="430.6" r="2.20"/><circle cx="324.2" cy="439.3" r="2.20"/><circle cx="325.8" cy="428.6" r="2.20"/><circle cx="327.4" cy="425.4" r="2.20"/><circle cx="329.0" cy="417.9" r="2.20"/><circle cx="330.5" cy="418.4" r="2.20"/><circle cx="332.1" cy="427.7" r="2.20"/><circle cx="333.7" cy="434.5" r="2.20"/><circle cx="335.3" cy="426.9" r="2.20"/><circle cx="336.9" cy="420.9" r="2.20"/><circle cx="338.5" cy="427.8" r="2.20"/><circle cx="340.1" cy="427.8" r="2.20"/><circle cx="341.7" cy="414.6" r="2.20"/><circle cx="343.3" cy="419.4" r="2.20"/><circle cx="344.9" cy="414.7" r="2.20"/><circle cx="346.5" cy="423.5" r="2.20"/><circle cx="348.1" cy="418.0" r="2.20"/><circle cx="349.7" cy="436.8" r="2.20"/><circle cx="351.2" cy="430.3" r="2.20"/><circle cx="352.8" cy="430.8" r="2.20"/><circle cx="354.4" cy="419.2" r="2.20"/><circle cx="356.0" cy="420.7" r="2.20"/><circle cx="357.6" cy="427.8" r="2.20"/><circle cx="359.2" cy="413.0" r="2.20"/><circle cx="360.8" cy="414.6" r="2.20"/><circle cx="362.4" cy="402.3" r="2.20"/><circle cx="364.0" cy="412.8" r="2.20"/><circle cx="365.6" cy="423.3" r="2.20"/><circle cx="367.2" cy="415.0" r="2.20"/><circle cx="368.8" cy="410.2" r="2.20"/><circle cx="370.4" cy="393.1" r="2.20"/><circle cx="372.0" cy="388.5" r="2.20"/><circle cx="373.5" cy="385.3" r="2.20"/><circle cx="375.1" cy="408.2" r="2.20"/><circle cx="376.7" cy="403.6" r="2.20"/><circle cx="378.3" cy="408.5" r="2.20"/><circle cx="379.9" cy="419.1" r="2.20"/><circle cx="381.5" cy="427.3" r="2.20"/><circle cx="383.1" cy="433.5" r="2.20"/><circle cx="384.7" cy="421.6" r="2.20"/><circle cx="386.3" cy="424.6" r="2.20"/><circle cx="387.9" cy="434.5" r="2.20"/><circle cx="389.5" cy="420.8" r="2.20"/><circle cx="391.1" cy="423.5" r="2.20"/><circle cx="392.7" cy="418.0" r="2.20"/><circle cx="394.2" cy="419.7" r="2.20"/><circle cx="395.8" cy="419.3" r="2.20"/><circle cx="397.4" cy="412.7" r="2.20"/><circle cx="399.0" cy="405.4" r="2.20"/><circle cx="400.6" cy="408.7" r="2.20"/><circle cx="402.2" cy="396.2" r="2.20"/><circle cx="403.8" cy="392.1" r="2.20"/><circle cx="405.4" cy="396.8" r="2.20"/><circle cx="407.0" cy="410.3" r="2.20"/><circle cx="408.6" cy="407.3" r="2.20"/><circle cx="410.2" cy="400.9" r="2.20"/><circle cx="411.8" cy="402.6" r="2.20"/><circle cx="413.4" cy="382.5" r="2.20"/><circle cx="415.0" cy="355.3" r="2.20"/><circle cx="416.5" cy="357.4" r="2.20"/><circle cx="418.1" cy="356.3" r="2.20"/><circle cx="419.7" cy="360.4" r="2.20"/><circle cx="421.3" cy="346.6" r="2.20"/><circle cx="422.9" cy="337.3" r="2.20"/><circle cx="424.5" cy="300.3" r="2.20"/><circle cx="426.1" cy="359.8" r="2.20"/><circle cx="427.7" cy="376.0" r="2.20"/><circle cx="429.3" cy="380.3" r="2.20"/><circle cx="430.9" cy="364.1" r="2.20"/><circle cx="432.5" cy="364.1" r="2.20"/><circle cx="434.1" cy="385.6" r="2.20"/><circle cx="435.7" cy="371.4" r="2.20"/><circle cx="437.3" cy="342.5" r="2.20"/><circle cx="438.8" cy="364.7" r="2.20"/><circle cx="440.4" cy="368.8" r="2.20"/><circle cx="442.0" cy="382.0" r="2.20"/><circle cx="443.6" cy="388.0" r="2.20"/><circle cx="445.2" cy="400.0" r="2.20"/><circle cx="446.8" cy="411.1" r="2.20"/><circle cx="448.4" cy="418.4" r="2.20"/><circle cx="450.0" cy="418.5" r="2.20"/><circle cx="451.6" cy="422.1" r="2.20"/><circle cx="453.2" cy="413.9" r="2.20"/><circle cx="454.8" cy="426.9" r="2.20"/><circle cx="456.4" cy="423.5" r="2.20"/><circle cx="458.0" cy="431.7" r="2.20"/><circle cx="459.5" cy="413.5" r="2.20"/><circle cx="461.1" cy="424.3" r="2.20"/><circle cx="462.7" cy="421.5" r="2.20"/><circle cx="464.3" cy="413.8" r="2.20"/><circle cx="465.9" cy="419.1" r="2.20"/><circle cx="467.5" cy="417.4" r="2.20"/><circle cx="469.1" cy="412.3" r="2.20"/><circle cx="470.7" cy="408.8" r="2.20"/><circle cx="472.3" cy="409.0" r="2.20"/><circle cx="473.9" cy="400.4" r="2.20"/><circle cx="475.5" cy="401.9" r="2.20"/><circle cx="477.1" cy="405.1" r="2.20"/><circle cx="478.7" cy="403.6" r="2.20"/><circle cx="480.3" cy="413.8" r="2.20"/><circle cx="481.8" cy="420.0" r="2.20"/><circle cx="483.4" cy="419.7" r="2.20"/><circle cx="485.0" cy="415.0" r="2.20"/><circle cx="486.6" cy="423.5" r="2.20"/><circle cx="488.2" cy="424.1" r="2.20"/><circle cx="489.8" cy="420.5" r="2.20"/><circle cx="491.4" cy="432.2" r="2.20"/><circle cx="493.0" cy="431.5" r="2.20"/><circle cx="494.6" cy="438.0" r="2.20"/><circle cx="496.2" cy="438.1" r="2.20"/><circle cx="497.8" cy="434.7" r="2.20"/><circle cx="499.4" cy="434.4" r="2.20"/><circle cx="501.0" cy="441.0" r="2.20"/><circle cx="502.6" cy="445.4" r="2.20"/><circle cx="504.1" cy="447.4" r="2.20"/><circle cx="505.7" cy="429.7" r="2.20"/><circle cx="507.3" cy="444.2" r="2.20"/><circle cx="508.9" cy="443.6" r="2.20"/><circle cx="510.5" cy="446.6" r="2.20"/><circle cx="512.1" cy="436.6" r="2.20"/><circle cx="513.7" cy="402.6" r="2.20"/>
</g>
<g fill="#000000">
<circle cx="37.5" cy="453.4" r="2.20"/><circle cx="39.1" cy="453.6" r="2.20"/><circle cx="40.7" cy="457.2" r="2.20"/><circle cx="42.3" cy="451.7" r="2.20"/><circle cx="43.9" cy="453.9" r="2.20"/><circle cx="45.5" cy="454.7" r="2.20"/><circle cx="47.0" cy="453.3" r="2.20"/><circle cx="48.6" cy="458.5" r="2.20"/><circle cx="50.2" cy="460.9" r="2.20"/><circle cx="51.8" cy="458.8" r="2.20"/><circle cx="53.4" cy="453.4" r="2.20"/><circle cx="55.0" cy="460.2" r="2.20"/><circle cx="56.6" cy="459.0" r="2.20"/><circle cx="58.2" cy="457.9" r="2.20"/><circle cx="59.8" cy="455.9" r="2.20"/><circle cx="61.4" cy="458.9" r="2.20"/><circle cx="63.0" cy="453.7" r="2.20"/><circle cx="64.6" cy="453.1" r="2.20"/><circle cx="66.2" cy="458.4" r="2.20"/><circle cx="67.4" cy="431.3" r="2.20"/><circle cx="69.3" cy="451.9" r="2.20"/><circle cx="70.9" cy="448.0" r="2.20"/><circle cx="72.5" cy="448.4" r="2.20"/><circle cx="74.1" cy="441.5" r="2.20"/><circle cx="75.7" cy="445.6" r="2.20"/><circle cx="77.3" cy="442.4" r="2.20"/><circle cx="78.9" cy="443.1" r="2.20"/><circle cx="80.5" cy="439.0" r="2.20"/><circle cx="82.1" cy="438.0" r="2.20"/><circle cx="83.7" cy="434.5" r="2.20"/><circle cx="85.3" cy="438.6" r="2.20"/><circle cx="86.9" cy="436.6" r="2.20"/><circle cx="88.5" cy="434.2" r="2.20"/><circle cx="90.1" cy="437.0" r="2.20"/><circle cx="91.6" cy="451.2" r="2.20"/><circle cx="93.2" cy="448.9" r="2.20"/><circle cx="94.8" cy="452.2" r="2.20"/><circle cx="96.4" cy="453.0" r="2.20"/><circle cx="98.0" cy="459.0" r="2.20"/><circle cx="99.6" cy="459.6" r="2.20"/><circle cx="101.2" cy="453.6" r="2.20"/><circle cx="102.8" cy="454.0" r="2.20"/><circle cx="104.4" cy="456.6" r="2.20"/><circle cx="106.0" cy="454.1" r="2.20"/><circle cx="107.6" cy="454.7" r="2.20"/><circle cx="109.2" cy="450.7" r="2.20"/><circle cx="110.8" cy="450.4" r="2.20"/><circle cx="112.3" cy="457.2" r="2.20"/><circle cx="113.9" cy="449.9" r="2.20"/><circle cx="115.5" cy="449.7" r="2.20"/><circle cx="117.1" cy="454.3" r="2.20"/><circle cx="118.7" cy="452.6" r="2.20"/><circle cx="120.3" cy="451.7" r="2.20"/><circle cx="121.9" cy="450.6" r="2.20"/><circle cx="123.5" cy="448.9" r="2.20"/><circle cx="125.1" cy="448.6" r="2.20"/><circle cx="126.7" cy="451.9" r="2.20"/><circle cx="128.3" cy="444.4" r="2.20"/><circle cx="129.9" cy="447.4" r="2.20"/><circle cx="131.5" cy="443.7" r="2.20"/><circle cx="133.1" cy="443.3" r="2.20"/><circle cx="134.6" cy="443.4" r="2.20"/><circle cx="136.2" cy="445.2" r="2.20"/><circle cx="137.8" cy="438.6" r="2.20"/><circle cx="139.4" cy="444.8" r="2.20"/><circle cx="141.0" cy="443.1" r="2.20"/><circle cx="142.0" cy="429.1" r="2.20"/><circle cx="144.2" cy="450.7" r="2.20"/><circle cx="145.8" cy="447.2" r="2.20"/><circle cx="147.4" cy="444.0" r="2.20"/><circle cx="149.0" cy="447.2" r="2.20"/><circle cx="150.6" cy="446.0" r="2.20"/><circle cx="152.2" cy="449.5" r="2.20"/><circle cx="153.8" cy="446.9" r="2.20"/><circle cx="155.3" cy="448.9" r="2.20"/><circle cx="156.9" cy="445.8" r="2.20"/><circle cx="158.5" cy="445.9" r="2.20"/><circle cx="160.1" cy="452.1" r="2.20"/><circle cx="161.7" cy="451.6" r="2.20"/><circle cx="163.3" cy="449.5" r="2.20"/><circle cx="164.9" cy="452.6" r="2.20"/><circle cx="166.5" cy="451.4" r="2.20"/><circle cx="168.1" cy="453.3" r="2.20"/><circle cx="169.7" cy="448.3" r="2.20"/><circle cx="171.3" cy="449.9" r="2.20"/><circle cx="172.9" cy="453.0" r="2.20"/><circle cx="174.5" cy="448.1" r="2.20"/><circle cx="176.1" cy="453.1" r="2.20"/><circle cx="177.6" cy="454.7" r="2.20"/><circle cx="179.2" cy="453.5" r="2.20"/><circle cx="180.8" cy="448.9" r="2.20"/><circle cx="182.4" cy="457.1" r="2.20"/><circle cx="184.0" cy="455.2" r="2.20"/><circle cx="185.6" cy="455.8" r="2.20"/><circle cx="187.2" cy="453.2" r="2.20"/><circle cx="188.8" cy="457.5" r="2.20"/><circle cx="190.4" cy="453.3" r="2.20"/><circle cx="192.0" cy="446.0" r="2.20"/><circle cx="193.6" cy="450.7" r="2.20"/><circle cx="195.2" cy="459.7" r="2.20"/><circle cx="196.8" cy="450.9" r="2.20"/><circle cx="198.4" cy="452.4" r="2.20"/><circle cx="199.9" cy="452.0" r="2.20"/><circle cx="201.5" cy="452.1" r="2.20"/><circle cx="203.1" cy="447.9" r="2.20"/><circle cx="204.7" cy="450.0" r="2.20"/><circle cx="206.3" cy="451.1" r="2.20"/><circle cx="207.9" cy="451.3" r="2.20"/><circle cx="209.5" cy="449.6" r="2.20"/><circle cx="211.1" cy="447.3" r="2.20"/><circle cx="212.7" cy="453.3" r="2.20"/><circle cx="214.3" cy="449.5" r="2.20"/><circle cx="215.9" cy="450.9" r="2.20"/><circle cx="217.5" cy="446.8" r="2.20"/><circle cx="219.1" cy="444.0" r="2.20"/><circle cx="220.6" cy="451.0" r="2.20"/><circle cx="222.2" cy="455.8" r="2.20"/><circle cx="223.8" cy="453.1" r="2.20"/><circle cx="225.4" cy="452.6" r="2.20"/><circle cx="227.0" cy="450.3" r="2.20"/><circle cx="228.6" cy="451.2" r="2.20"/><circle cx="230.2" cy="449.7" r="2.20"/><circle cx="231.8" cy="462.0" r="2.20"/><circle cx="233.4" cy="457.3" r="2.20"/><circle cx="235.0" cy="454.6" r="2.20"/><circle cx="236.6" cy="455.9" r="2.20"/><circle cx="238.2" cy="460.4" r="2.20"/><circle cx="239.8" cy="452.6" r="2.20"/><circle cx="241.4" cy="460.7" r="2.20"/><circle cx="242.9" cy="454.5" r="2.20"/><circle cx="244.5" cy="455.4" r="2.20"/><circle cx="246.1" cy="459.2" r="2.20"/><circle cx="247.7" cy="456.1" r="2.20"/><circle cx="249.3" cy="455.5" r="2.20"/><circle cx="250.9" cy="457.1" r="2.20"/><circle cx="252.5" cy="454.0" r="2.20"/><circle cx="254.1" cy="456.0" r="2.20"/><circle cx="255.7" cy="460.0" r="2.20"/><circle cx="257.3" cy="454.5" r="2.20"/><circle cx="258.9" cy="457.8" r="2.20"/><circle cx="260.5" cy="458.0" r="2.20"/><circle cx="262.1" cy="452.3" r="2.20"/><circle cx="263.7" cy="453.3" r="2.20"/><circle cx="265.2" cy="456.5" r="2.20"/><circle cx="266.8" cy="455.9" r="2.20"/><circle cx="268.4" cy="448.7" r="2.20"/><circle cx="270.0" cy="451.8" r="2.20"/><circle cx="271.6" cy="454.2" r="2.20"/><circle cx="273.2" cy="455.6" r="2.20"/><circle cx="274.8" cy="452.2" r="2.20"/><circle cx="276.4" cy="431.4" r="2.20"/><circle cx="278.0" cy="444.3" r="2.20"/><circle cx="279.6" cy="434.5" r="2.20"/><circle cx="281.2" cy="439.5" r="2.20"/><circle cx="282.8" cy="433.1" r="2.20"/><circle cx="284.4" cy="436.9" r="2.20"/><circle cx="285.9" cy="436.4" r="2.20"/><circle cx="287.5" cy="430.5" r="2.20"/><circle cx="289.1" cy="406.9" r="2.20"/><circle cx="290.7" cy="408.2" r="2.20"/><circle cx="292.3" cy="436.6" r="2.20"/><circle cx="293.9" cy="430.0" r="2.20"/><circle cx="295.5" cy="436.3" r="2.20"/><circle cx="297.1" cy="438.6" r="2.20"/><circle cx="298.7" cy="438.5" r="2.20"/><circle cx="300.3" cy="439.6" r="2.20"/><circle cx="301.9" cy="434.1" r="2.20"/><circle cx="303.5" cy="441.6" r="2.20"/><circle cx="305.1" cy="437.8" r="2.20"/><circle cx="306.7" cy="428.6" r="2.20"/><circle cx="308.2" cy="427.9" r="2.20"/><circle cx="309.8" cy="431.2" r="2.20"/><circle cx="311.4" cy="432.6" r="2.20"/><circle cx="313.0" cy="425.3" r="2.20"/><circle cx="314.6" cy="422.4" r="2.20"/><circle cx="316.2" cy="424.1" r="2.20"/><circle cx="317.8" cy="412.4" r="2.20"/><circle cx="319.4" cy="417.6" r="2.20"/><circle cx="321.0" cy="414.9" r="2.20"/><circle cx="322.6" cy="421.1" r="2.20"/><circle cx="324.2" cy="417.4" r="2.20"/><circle cx="325.8" cy="415.0" r="2.20"/><circle cx="327.4" cy="410.1" r="2.20"/><circle cx="329.0" cy="412.5" r="2.20"/><circle cx="330.5" cy="406.4" r="2.20"/><circle cx="332.1" cy="410.7" r="2.20"/><circle cx="333.7" cy="420.6" r="2.20"/><circle cx="335.3" cy="413.9" r="2.20"/><circle cx="336.9" cy="416.9" r="2.20"/><circle cx="338.5" cy="407.7" r="2.20"/><circle cx="340.1" cy="414.4" r="2.20"/><circle cx="341.7" cy="406.5" r="2.20"/><circle cx="343.3" cy="402.1" r="2.20"/><circle cx="344.9" cy="415.1" r="2.20"/><circle cx="346.5" cy="409.5" r="2.20"/><circle cx="348.1" cy="410.3" r="2.20"/><circle cx="349.7" cy="413.0" r="2.20"/><circle cx="351.2" cy="409.2" r="2.20"/><circle cx="352.8" cy="413.2" r="2.20"/><circle cx="354.4" cy="395.4" r="2.20"/><circle cx="356.0" cy="407.2" r="2.20"/><circle cx="357.6" cy="410.4" r="2.20"/><circle cx="359.2" cy="398.9" r="2.20"/><circle cx="360.8" cy="392.3" r="2.20"/><circle cx="362.4" cy="392.4" r="2.20"/><circle cx="364.0" cy="407.6" r="2.20"/><circle cx="365.6" cy="405.0" r="2.20"/><circle cx="367.2" cy="400.4" r="2.20"/><circle cx="368.8" cy="393.9" r="2.20"/><circle cx="370.4" cy="378.4" r="2.20"/><circle cx="372.0" cy="383.4" r="2.20"/><circle cx="373.5" cy="382.2" r="2.20"/><circle cx="375.1" cy="381.9" r="2.20"/><circle cx="376.7" cy="391.8" r="2.20"/><circle cx="378.3" cy="395.6" r="2.20"/><circle cx="379.9" cy="408.6" r="2.20"/><circle cx="381.5" cy="412.2" r="2.20"/><circle cx="383.1" cy="410.3" r="2.20"/><circle cx="384.7" cy="413.1" r="2.20"/><circle cx="386.3" cy="410.6" r="2.20"/><circle cx="387.9" cy="412.1" r="2.20"/><circle cx="389.5" cy="412.0" r="2.20"/><circle cx="391.1" cy="411.3" r="2.20"/><circle cx="392.7" cy="403.4" r="2.20"/><circle cx="394.2" cy="406.5" r="2.20"/><circle cx="395.8" cy="404.1" r="2.20"/><circle cx="397.4" cy="398.8" r="2.20"/><circle cx="399.0" cy="392.5" r="2.20"/><circle cx="400.6" cy="387.8" r="2.20"/><circle cx="402.2" cy="382.4" r="2.20"/><circle cx="403.8" cy="397.5" r="2.20"/><circle cx="405.4" cy="382.8" r="2.20"/><circle cx="407.0" cy="389.7" r="2.20"/><circle cx="408.6" cy="384.4" r="2.20"/><circle cx="410.2" cy="400.0" r="2.20"/><circle cx="411.8" cy="374.6" r="2.20"/><circle cx="413.4" cy="360.2" r="2.20"/><circle cx="415.0" cy="357.4" r="2.20"/><circle cx="416.5" cy="343.3" r="2.20"/><circle cx="418.1" cy="354.4" r="2.20"/><circle cx="419.7" cy="332.9" r="2.20"/><circle cx="421.3" cy="348.5" r="2.20"/><circle cx="422.9" cy="343.5" r="2.20"/><circle cx="424.5" cy="289.8" r="2.20"/><circle cx="426.1" cy="362.2" r="2.20"/><circle cx="427.7" cy="359.2" r="2.20"/><circle cx="429.3" cy="371.4" r="2.20"/><circle cx="430.9" cy="369.6" r="2.20"/><circle cx="432.5" cy="354.8" r="2.20"/><circle cx="434.1" cy="349.7" r="2.20"/><circle cx="435.7" cy="366.1" r="2.20"/><circle cx="437.3" cy="348.2" r="2.20"/><circle cx="438.8" cy="357.1" r="2.20"/><circle cx="440.4" cy="364.2" r="2.20"/><circle cx="442.0" cy="370.4" r="2.20"/><circle cx="443.6" cy="368.9" r="2.20"/><circle cx="445.2" cy="381.8" r="2.20"/><circle cx="446.8" cy="393.9" r="2.20"/><circle cx="448.4" cy="391.2" r="2.20"/><circle cx="450.0" cy="399.9" r="2.20"/><circle cx="451.6" cy="404.7" r="2.20"/><circle cx="453.2" cy="409.8" r="2.20"/><circle cx="454.8" cy="405.0" r="2.20"/><circle cx="456.4" cy="410.4" r="2.20"/><circle cx="458.0" cy="409.6" r="2.20"/><circle cx="459.5" cy="406.9" r="2.20"/><circle cx="461.1" cy="415.2" r="2.20"/><circle cx="462.7" cy="406.3" r="2.20"/><circle cx="464.3" cy="413.1" r="2.20"/><circle cx="465.9" cy="408.3" r="2.20"/><circle cx="467.5" cy="410.3" r="2.20"/><circle cx="469.1" cy="396.8" r="2.20"/><circle cx="470.7" cy="397.5" r="2.20"/><circle cx="472.3" cy="394.3" r="2.20"/><circle cx="473.9" cy="393.0" r="2.20"/><circle cx="475.5" cy="398.2" r="2.20"/><circle cx="477.1" cy="393.1" r="2.20"/><circle cx="478.7" cy="393.8" r="2.20"/><circle cx="480.3" cy="401.5" r="2.20"/><circle cx="481.8" cy="404.9" r="2.20"/><circle cx="483.4" cy="410.3" r="2.20"/><circle cx="485.0" cy="403.1" r="2.20"/><circle cx="486.6" cy="405.7" r="2.20"/><circle cx="488.2" cy="409.4" r="2.20"/><circle cx="489.8" cy="405.2" r="2.20"/><circle cx="491.4" cy="415.8" r="2.20"/><circle cx="493.0" cy="422.0" r="2.20"/><circle cx="494.6" cy="421.4" r="2.20"/><circle cx="496.2" cy="429.6" r="2.20"/><circle cx="497.8" cy="418.7" r="2.20"/><circle cx="499.4" cy="423.7" r="2.20"/><circle cx="501.0" cy="427.0" r="2.20"/><circle cx="502.6" cy="426.4" r="2.20"/><circle cx="504.1" cy="430.6" r="2.20"/><circle cx="505.7" cy="429.4" r="2.20"/><circle cx="507.3" cy="428.7" r="2.20"/><circle cx="508.9" cy="424.7" r="2.20"/><circle cx="510.5" cy="427.1" r="2.20"/><circle cx="512.1" cy="425.0" r="2.20"/><circle cx="513.7" cy="390.1" r="2.20"/>
</g>
</g>
<g id="std-axes">
<path d="M35.90 504.40v-4.8M35.90 276.10v4.8M115.53 504.40v-4.8M115.53 276.10v4.8M195.17 504.40v-4.8M195.17 276.10v4.8M274.80 504.40v-4.8M274.80 276.10v4.8M354.43 504.40v-4.8M354.43 276.10v4.8M434.07 504.40v-4.8M434.07 276.10v4.8M513.70 504.40v-4.8M513.70 276.10v4.8M35.90 504.40h4.8M513.70 504.40h-4.8M35.90 458.74h4.8M513.70 458.74h-4.8M35.90 413.08h4.8M513.70 413.08h-4.8M35.90 367.42h4.8M513.70 367.42h-4.8M35.90 321.76h4.8M513.70 321.76h-4.8M35.90 276.10h4.8M513.70 276.10h-4.8" stroke="#4a4a4a" stroke-width="0.9" fill="none"/>
<rect x="35.90" y="276.10" width="477.80" height="228.30" fill="none" stroke="#4a4a4a" stroke-width="0.95"/>
<path d="M275.40 276.10V504.40" stroke="#ff0000" stroke-width="0.95" stroke-dasharray="7.5 2.4" stroke-dashoffset="3.6" fill="none"/>
<g class="tk" text-anchor="middle">
<text x="35.9" y="521.1">0</text>
<text x="115.5" y="521.1">50</text>
<text x="195.2" y="521.1">100</text>
<text x="274.8" y="521.1">0</text>
<text x="354.4" y="521.1">50</text>
<text x="434.1" y="521.1">100</text>
<text x="513.7" y="521.1">150</text>
</g>
<g class="tk" text-anchor="end">
<text x="31.3" y="509.0">0</text>
<text x="31.3" y="463.3">2</text>
<text x="31.3" y="417.7">4</text>
<text x="31.3" y="372.0">6</text>
<text x="31.3" y="326.4">8</text>
<text x="31.3" y="280.7">10</text>
</g>
<text class="lb" x="518.7" y="505.1">DOY</text>
<text class="lb yl" text-anchor="middle" transform="translate(12.0 390.4) rotate(-90)">STD/TECU</text>
<text class="yr" x="44.6" y="493.9">2020</text>
<text class="yr" x="283.6" y="493.9">2022</text>
</g>
<g id="legend">
<rect x="37.6" y="530.2" width="476.0" height="12.4" fill="#fff" stroke="#404040" stroke-width="1"/>
<circle cx="56.0" cy="536.6" r="2" fill="#ff0000"/>
<text class="lg" x="73.8" y="539.6">CAS-J3</text>
<circle cx="123.4" cy="536.6" r="2" fill="#00ff00"/>
<text class="lg" x="141.2" y="539.6">COD-J3</text>
<circle cx="190.8" cy="536.6" r="2" fill="#0000ff"/>
<text class="lg" x="208.6" y="539.6">EMR-J3</text>
<circle cx="258.2" cy="536.6" r="2" fill="#00ffff"/>
<text class="lg" x="276.0" y="539.6">ESA-J3</text>
<circle cx="325.6" cy="536.6" r="2" fill="#ff00ff"/>
<text class="lg" x="343.4" y="539.6">JPL-J3</text>
<circle cx="393.0" cy="536.6" r="2" fill="#ffff00"/>
<text class="lg" x="410.8" y="539.6">UPC-J3</text>
<circle cx="460.4" cy="536.6" r="2" fill="#000000"/>
<text class="lg" x="478.2" y="539.6">WHU-J3</text>
</g>
</svg>
</body>
</html>
